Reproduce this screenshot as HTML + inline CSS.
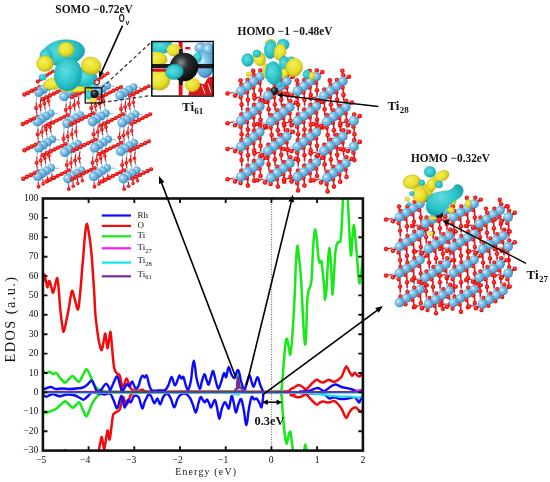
<!DOCTYPE html>
<html lang="en"><head><meta charset="utf-8"><title>EDOS and frontier orbitals</title>
<style>
html,body{margin:0;padding:0;background:#fff;}
body{width:550px;height:482px;overflow:hidden;font-family:"Liberation Serif",serif;}
svg{display:block;}
text{font-family:"Liberation Serif",serif;fill:#111;}
.b{font-weight:bold;}
.sans{font-family:"Liberation Sans",sans-serif;font-weight:bold;}
</style></head><body>
<svg width="550" height="482" viewBox="0 0 550 482">
<defs>
<radialGradient id="gT" cx="0.38" cy="0.4" r="0.62" fx="0.34" fy="0.36">
<stop offset="0" stop-color="#e6f7ff"/><stop offset="0.3" stop-color="#8fcbec"/><stop offset="0.78" stop-color="#5aa6d6"/><stop offset="1" stop-color="#3b80b0"/></radialGradient>
<radialGradient id="gO" cx="0.45" cy="0.45" r="0.6">
<stop offset="0" stop-color="#ff8a60"/><stop offset="0.4" stop-color="#f61a16"/><stop offset="0.82" stop-color="#e20a10"/><stop offset="1" stop-color="#b00008"/></radialGradient>
<radialGradient id="gC" cx="0.4" cy="0.4" r="0.7">
<stop offset="0" stop-color="#5fdde0"/><stop offset="0.6" stop-color="#27c2c8"/><stop offset="1" stop-color="#14979f"/></radialGradient>
<radialGradient id="gY" cx="0.4" cy="0.38" r="0.7">
<stop offset="0" stop-color="#f6f05a"/><stop offset="0.6" stop-color="#e6dc28"/><stop offset="1" stop-color="#b3a916"/></radialGradient>
<radialGradient id="gK" cx="0.4" cy="0.35" r="0.7">
<stop offset="0" stop-color="#8a8f92"/><stop offset="0.35" stop-color="#2c2e30"/><stop offset="1" stop-color="#050505"/></radialGradient>
<clipPath id="cpPlot"><rect x="42.9" y="198.5" width="320" height="252.1"/></clipPath>
<clipPath id="cpIn"><rect x="151" y="41.5" width="62.6" height="54"/></clipPath>
</defs>
<rect width="550" height="482" fill="#fff"/>
<g id="s1" fill="none" stroke-linecap="round">
<path d="M24.4 94.5L39.4 87.1" stroke="#e3151a" stroke-width="2.2"/><path d="M38.9 92L45.9 92.6" stroke="#86c3e6" stroke-width="1.1"/><path d="M43.4 89.2L50.4 89.8" stroke="#86c3e6" stroke-width="1.1"/><path d="M47.9 86.4L54.9 87" stroke="#86c3e6" stroke-width="1.1"/><path d="M52.4 83.6L59.4 84.2" stroke="#86c3e6" stroke-width="1.1"/><path d="M37.7 81.4L52.9 71.2" stroke="#e3151a" stroke-width="1.6"/><path d="M42.5 99.2L65 88.1" stroke="#e3151a" stroke-width="2.2"/><path d="M64 96.4L71 97" stroke="#86c3e6" stroke-width="1.1"/><path d="M68.5 93.6L75.5 94.2" stroke="#86c3e6" stroke-width="1.1"/><path d="M73 90.8L80 91.4" stroke="#86c3e6" stroke-width="1.1"/><path d="M77.5 88L84.5 88.6" stroke="#86c3e6" stroke-width="1.1"/><path d="M72.2 96.9L94.7 85.8" stroke="#e3151a" stroke-width="2.2"/><path d="M93.7 94.1L100.7 94.7" stroke="#86c3e6" stroke-width="1.1"/><path d="M98.2 91.3L105.2 91.9" stroke="#86c3e6" stroke-width="1.1"/><path d="M102.7 88.5L109.7 89.1" stroke="#86c3e6" stroke-width="1.1"/><path d="M107.2 85.7L114.2 86.3" stroke="#86c3e6" stroke-width="1.1"/><path d="M92.5 83.5L107.8 73.2" stroke="#e3151a" stroke-width="1.6"/><path d="M98.5 98.1L121 87" stroke="#e3151a" stroke-width="2.2"/><path d="M120 95.3L127 95.9" stroke="#86c3e6" stroke-width="1.1"/><path d="M124.5 92.5L131.5 93.1" stroke="#86c3e6" stroke-width="1.1"/><path d="M129 89.7L136 90.3" stroke="#86c3e6" stroke-width="1.1"/><path d="M133.5 86.9L140.5 87.5" stroke="#86c3e6" stroke-width="1.1"/><path d="M129.9 95.6L148.7 86.3" stroke="#e3151a" stroke-width="2.2"/><path d="M22.8 124L37.8 116.6" stroke="#e3151a" stroke-width="2.2"/><path d="M37.3 121.5L36.6 113.1" stroke="#86c3e6" stroke-width="1.2"/><path d="M36.6 113.1L36.1 108" stroke="#e3151a" stroke-width="1.2"/><path d="M36.8 94.5L36.4 102.9" stroke="#86c3e6" stroke-width="1.2"/><path d="M36.4 102.9L36.1 108" stroke="#e3151a" stroke-width="1.2"/><path d="M37.3 121.5L44.3 122.1" stroke="#86c3e6" stroke-width="1.1"/><path d="M41.8 118.7L40.8 110.6" stroke="#86c3e6" stroke-width="1.2"/><path d="M40.8 110.6L40.2 105.7" stroke="#e3151a" stroke-width="1.2"/><path d="M41.3 91.7L40.6 100.4" stroke="#86c3e6" stroke-width="1.2"/><path d="M40.6 100.4L40.2 105.7" stroke="#e3151a" stroke-width="1.2"/><path d="M41.8 118.7L48.8 119.3" stroke="#86c3e6" stroke-width="1.1"/><path d="M46.3 115.9L45.1 108.2" stroke="#86c3e6" stroke-width="1.2"/><path d="M45.1 108.2L44.3 103.4" stroke="#e3151a" stroke-width="1.2"/><path d="M45.8 88.9L44.9 97.9" stroke="#86c3e6" stroke-width="1.2"/><path d="M44.9 97.9L44.3 103.4" stroke="#e3151a" stroke-width="1.2"/><path d="M46.3 115.9L53.3 116.5" stroke="#86c3e6" stroke-width="1.1"/><path d="M50.8 113.1L49.3 105.7" stroke="#86c3e6" stroke-width="1.2"/><path d="M49.3 105.7L48.4 101.1" stroke="#e3151a" stroke-width="1.2"/><path d="M50.3 86.1L49.1 95.4" stroke="#86c3e6" stroke-width="1.2"/><path d="M49.1 95.4L48.4 101.1" stroke="#e3151a" stroke-width="1.2"/><path d="M50.8 113.1L57.8 113.7" stroke="#86c3e6" stroke-width="1.1"/><path d="M45.5 126.1L68 115" stroke="#e3151a" stroke-width="2.2"/><path d="M67 123.3L66.3 114.9" stroke="#86c3e6" stroke-width="1.2"/><path d="M66.3 114.9L65.8 109.8" stroke="#e3151a" stroke-width="1.2"/><path d="M66.5 96.3L66.1 104.7" stroke="#86c3e6" stroke-width="1.2"/><path d="M66.1 104.7L65.8 109.8" stroke="#e3151a" stroke-width="1.2"/><path d="M67 123.3L74 123.9" stroke="#86c3e6" stroke-width="1.1"/><path d="M71.5 120.5L70.5 112.4" stroke="#86c3e6" stroke-width="1.2"/><path d="M70.5 112.4L69.9 107.5" stroke="#e3151a" stroke-width="1.2"/><path d="M71 93.5L70.3 102.2" stroke="#86c3e6" stroke-width="1.2"/><path d="M70.3 102.2L69.9 107.5" stroke="#e3151a" stroke-width="1.2"/><path d="M71.5 120.5L78.5 121.1" stroke="#86c3e6" stroke-width="1.1"/><path d="M76 117.7L74.8 110" stroke="#86c3e6" stroke-width="1.2"/><path d="M74.8 110L74 105.2" stroke="#e3151a" stroke-width="1.2"/><path d="M75.5 90.7L74.6 99.7" stroke="#86c3e6" stroke-width="1.2"/><path d="M74.6 99.7L74 105.2" stroke="#e3151a" stroke-width="1.2"/><path d="M76 117.7L83 118.3" stroke="#86c3e6" stroke-width="1.1"/><path d="M80.5 114.9L79 107.5" stroke="#86c3e6" stroke-width="1.2"/><path d="M79 107.5L78.1 102.9" stroke="#e3151a" stroke-width="1.2"/><path d="M80 87.9L78.8 97.2" stroke="#86c3e6" stroke-width="1.2"/><path d="M78.8 97.2L78.1 102.9" stroke="#e3151a" stroke-width="1.2"/><path d="M80.5 114.9L87.5 115.5" stroke="#86c3e6" stroke-width="1.1"/><path d="M71 124.3L93.5 113.2" stroke="#e3151a" stroke-width="2.2"/><path d="M92.5 121.5L91.8 113.1" stroke="#86c3e6" stroke-width="1.2"/><path d="M91.8 113.1L91.3 108" stroke="#e3151a" stroke-width="1.2"/><path d="M92 94.5L91.6 102.9" stroke="#86c3e6" stroke-width="1.2"/><path d="M91.6 102.9L91.3 108" stroke="#e3151a" stroke-width="1.2"/><path d="M92.5 121.5L99.5 122.1" stroke="#86c3e6" stroke-width="1.1"/><path d="M97 118.7L96 110.6" stroke="#86c3e6" stroke-width="1.2"/><path d="M96 110.6L95.4 105.7" stroke="#e3151a" stroke-width="1.2"/><path d="M96.5 91.7L95.8 100.4" stroke="#86c3e6" stroke-width="1.2"/><path d="M95.8 100.4L95.4 105.7" stroke="#e3151a" stroke-width="1.2"/><path d="M97 118.7L104 119.3" stroke="#86c3e6" stroke-width="1.1"/><path d="M101.5 115.9L100.3 108.2" stroke="#86c3e6" stroke-width="1.2"/><path d="M100.3 108.2L99.5 103.4" stroke="#e3151a" stroke-width="1.2"/><path d="M101 88.9L100.1 97.9" stroke="#86c3e6" stroke-width="1.2"/><path d="M100.1 97.9L99.5 103.4" stroke="#e3151a" stroke-width="1.2"/><path d="M101.5 115.9L108.5 116.5" stroke="#86c3e6" stroke-width="1.1"/><path d="M106 113.1L104.5 105.7" stroke="#86c3e6" stroke-width="1.2"/><path d="M104.5 105.7L103.6 101.1" stroke="#e3151a" stroke-width="1.2"/><path d="M105.5 86.1L104.3 95.4" stroke="#86c3e6" stroke-width="1.2"/><path d="M104.3 95.4L103.6 101.1" stroke="#e3151a" stroke-width="1.2"/><path d="M106 113.1L113 113.7" stroke="#86c3e6" stroke-width="1.1"/><path d="M100.7 125.4L123.2 114.3" stroke="#e3151a" stroke-width="2.2"/><path d="M122.2 122.6L121.5 114.2" stroke="#86c3e6" stroke-width="1.2"/><path d="M121.5 114.2L121 109.1" stroke="#e3151a" stroke-width="1.2"/><path d="M121.7 95.6L121.3 104" stroke="#86c3e6" stroke-width="1.2"/><path d="M121.3 104L121 109.1" stroke="#e3151a" stroke-width="1.2"/><path d="M122.2 122.6L129.2 123.2" stroke="#86c3e6" stroke-width="1.1"/><path d="M126.7 119.8L125.7 111.7" stroke="#86c3e6" stroke-width="1.2"/><path d="M125.7 111.7L125.1 106.8" stroke="#e3151a" stroke-width="1.2"/><path d="M126.2 92.8L125.5 101.5" stroke="#86c3e6" stroke-width="1.2"/><path d="M125.5 101.5L125.1 106.8" stroke="#e3151a" stroke-width="1.2"/><path d="M126.7 119.8L133.7 120.4" stroke="#86c3e6" stroke-width="1.1"/><path d="M131.2 117L130 109.2" stroke="#86c3e6" stroke-width="1.2"/><path d="M130 109.2L129.2 104.5" stroke="#e3151a" stroke-width="1.2"/><path d="M130.7 90L129.8 99" stroke="#86c3e6" stroke-width="1.2"/><path d="M129.8 99L129.2 104.5" stroke="#e3151a" stroke-width="1.2"/><path d="M131.2 117L138.2 117.6" stroke="#86c3e6" stroke-width="1.1"/><path d="M135.7 114.2L134.2 106.8" stroke="#86c3e6" stroke-width="1.2"/><path d="M134.2 106.8L133.3 102.2" stroke="#e3151a" stroke-width="1.2"/><path d="M135.2 87.2L134 96.5" stroke="#86c3e6" stroke-width="1.2"/><path d="M134 96.5L133.3 102.2" stroke="#e3151a" stroke-width="1.2"/><path d="M135.7 114.2L142.7 114.8" stroke="#86c3e6" stroke-width="1.1"/><path d="M131.4 123.6L150.2 114.3" stroke="#e3151a" stroke-width="2.2"/><path d="M24.4 150.2L39.4 142.8" stroke="#e3151a" stroke-width="2.2"/><path d="M38.9 147.7L38.2 139.3" stroke="#86c3e6" stroke-width="1.2"/><path d="M38.2 139.3L37.7 134.2" stroke="#e3151a" stroke-width="1.2"/><path d="M38.4 120.7L38 129.1" stroke="#86c3e6" stroke-width="1.2"/><path d="M38 129.1L37.7 134.2" stroke="#e3151a" stroke-width="1.2"/><path d="M38.9 147.7L45.9 148.3" stroke="#86c3e6" stroke-width="1.1"/><path d="M43.4 144.9L42.4 136.8" stroke="#86c3e6" stroke-width="1.2"/><path d="M42.4 136.8L41.8 131.9" stroke="#e3151a" stroke-width="1.2"/><path d="M42.9 117.9L42.2 126.6" stroke="#86c3e6" stroke-width="1.2"/><path d="M42.2 126.6L41.8 131.9" stroke="#e3151a" stroke-width="1.2"/><path d="M43.4 144.9L50.4 145.5" stroke="#86c3e6" stroke-width="1.1"/><path d="M47.9 142.1L46.7 134.3" stroke="#86c3e6" stroke-width="1.2"/><path d="M46.7 134.3L45.9 129.6" stroke="#e3151a" stroke-width="1.2"/><path d="M47.4 115.1L46.5 124.1" stroke="#86c3e6" stroke-width="1.2"/><path d="M46.5 124.1L45.9 129.6" stroke="#e3151a" stroke-width="1.2"/><path d="M47.9 142.1L54.9 142.7" stroke="#86c3e6" stroke-width="1.1"/><path d="M52.4 139.3L50.9 131.9" stroke="#86c3e6" stroke-width="1.2"/><path d="M50.9 131.9L50 127.3" stroke="#e3151a" stroke-width="1.2"/><path d="M51.9 112.3L50.7 121.6" stroke="#86c3e6" stroke-width="1.2"/><path d="M50.7 121.6L50 127.3" stroke="#e3151a" stroke-width="1.2"/><path d="M52.4 139.3L59.4 139.9" stroke="#86c3e6" stroke-width="1.1"/><path d="M43.2 155L65.7 143.9" stroke="#e3151a" stroke-width="2.2"/><path d="M64.7 152.2L64 143.8" stroke="#86c3e6" stroke-width="1.2"/><path d="M64 143.8L63.5 138.7" stroke="#e3151a" stroke-width="1.2"/><path d="M64.2 125.2L63.8 133.6" stroke="#86c3e6" stroke-width="1.2"/><path d="M63.8 133.6L63.5 138.7" stroke="#e3151a" stroke-width="1.2"/><path d="M64.7 152.2L71.7 152.8" stroke="#86c3e6" stroke-width="1.1"/><path d="M69.2 149.4L68.2 141.3" stroke="#86c3e6" stroke-width="1.2"/><path d="M68.2 141.3L67.6 136.4" stroke="#e3151a" stroke-width="1.2"/><path d="M68.7 122.4L68 131.1" stroke="#86c3e6" stroke-width="1.2"/><path d="M68 131.1L67.6 136.4" stroke="#e3151a" stroke-width="1.2"/><path d="M69.2 149.4L76.2 150" stroke="#86c3e6" stroke-width="1.1"/><path d="M73.7 146.6L72.5 138.8" stroke="#86c3e6" stroke-width="1.2"/><path d="M72.5 138.8L71.7 134.1" stroke="#e3151a" stroke-width="1.2"/><path d="M73.2 119.6L72.3 128.6" stroke="#86c3e6" stroke-width="1.2"/><path d="M72.3 128.6L71.7 134.1" stroke="#e3151a" stroke-width="1.2"/><path d="M73.7 146.6L80.7 147.2" stroke="#86c3e6" stroke-width="1.1"/><path d="M78.2 143.8L76.7 136.4" stroke="#86c3e6" stroke-width="1.2"/><path d="M76.7 136.4L75.8 131.8" stroke="#e3151a" stroke-width="1.2"/><path d="M77.7 116.8L76.5 126.1" stroke="#86c3e6" stroke-width="1.2"/><path d="M76.5 126.1L75.8 131.8" stroke="#e3151a" stroke-width="1.2"/><path d="M78.2 143.8L85.2 144.4" stroke="#86c3e6" stroke-width="1.1"/><path d="M73.3 150.5L95.8 139.4" stroke="#e3151a" stroke-width="2.2"/><path d="M94.8 147.7L94.1 139.3" stroke="#86c3e6" stroke-width="1.2"/><path d="M94.1 139.3L93.6 134.2" stroke="#e3151a" stroke-width="1.2"/><path d="M94.3 120.7L93.9 129.1" stroke="#86c3e6" stroke-width="1.2"/><path d="M93.9 129.1L93.6 134.2" stroke="#e3151a" stroke-width="1.2"/><path d="M94.8 147.7L101.8 148.3" stroke="#86c3e6" stroke-width="1.1"/><path d="M99.3 144.9L98.3 136.8" stroke="#86c3e6" stroke-width="1.2"/><path d="M98.3 136.8L97.7 131.9" stroke="#e3151a" stroke-width="1.2"/><path d="M98.8 117.9L98.1 126.6" stroke="#86c3e6" stroke-width="1.2"/><path d="M98.1 126.6L97.7 131.9" stroke="#e3151a" stroke-width="1.2"/><path d="M99.3 144.9L106.3 145.5" stroke="#86c3e6" stroke-width="1.1"/><path d="M103.8 142.1L102.6 134.3" stroke="#86c3e6" stroke-width="1.2"/><path d="M102.6 134.3L101.8 129.6" stroke="#e3151a" stroke-width="1.2"/><path d="M103.3 115.1L102.4 124.1" stroke="#86c3e6" stroke-width="1.2"/><path d="M102.4 124.1L101.8 129.6" stroke="#e3151a" stroke-width="1.2"/><path d="M103.8 142.1L110.8 142.7" stroke="#86c3e6" stroke-width="1.1"/><path d="M108.3 139.3L106.8 131.9" stroke="#86c3e6" stroke-width="1.2"/><path d="M106.8 131.9L105.9 127.3" stroke="#e3151a" stroke-width="1.2"/><path d="M107.8 112.3L106.6 121.6" stroke="#86c3e6" stroke-width="1.2"/><path d="M106.6 121.6L105.9 127.3" stroke="#e3151a" stroke-width="1.2"/><path d="M108.3 139.3L115.3 139.9" stroke="#86c3e6" stroke-width="1.1"/><path d="M99.1 153.9L121.6 142.8" stroke="#e3151a" stroke-width="2.2"/><path d="M120.6 151.1L119.9 142.7" stroke="#86c3e6" stroke-width="1.2"/><path d="M119.9 142.7L119.4 137.6" stroke="#e3151a" stroke-width="1.2"/><path d="M120.1 124.1L119.7 132.5" stroke="#86c3e6" stroke-width="1.2"/><path d="M119.7 132.5L119.4 137.6" stroke="#e3151a" stroke-width="1.2"/><path d="M120.6 151.1L127.6 151.7" stroke="#86c3e6" stroke-width="1.1"/><path d="M125.1 148.3L124.1 140.2" stroke="#86c3e6" stroke-width="1.2"/><path d="M124.1 140.2L123.5 135.3" stroke="#e3151a" stroke-width="1.2"/><path d="M124.6 121.3L123.9 130" stroke="#86c3e6" stroke-width="1.2"/><path d="M123.9 130L123.5 135.3" stroke="#e3151a" stroke-width="1.2"/><path d="M125.1 148.3L132.1 148.9" stroke="#86c3e6" stroke-width="1.1"/><path d="M129.6 145.5L128.4 137.8" stroke="#86c3e6" stroke-width="1.2"/><path d="M128.4 137.8L127.6 133" stroke="#e3151a" stroke-width="1.2"/><path d="M129.1 118.5L128.2 127.5" stroke="#86c3e6" stroke-width="1.2"/><path d="M128.2 127.5L127.6 133" stroke="#e3151a" stroke-width="1.2"/><path d="M129.6 145.5L136.6 146.1" stroke="#86c3e6" stroke-width="1.1"/><path d="M134.1 142.7L132.6 135.3" stroke="#86c3e6" stroke-width="1.2"/><path d="M132.6 135.3L131.7 130.7" stroke="#e3151a" stroke-width="1.2"/><path d="M133.6 115.7L132.4 125" stroke="#86c3e6" stroke-width="1.2"/><path d="M132.4 125L131.7 130.7" stroke="#e3151a" stroke-width="1.2"/><path d="M134.1 142.7L141.1 143.3" stroke="#86c3e6" stroke-width="1.1"/><path d="M130.2 150.6L149 141.3" stroke="#e3151a" stroke-width="2.2"/><path d="M23.3 178.7L38.3 171.3" stroke="#e3151a" stroke-width="2.2"/><path d="M37.8 176.2L37.1 167.8" stroke="#86c3e6" stroke-width="1.2"/><path d="M37.1 167.8L36.6 162.7" stroke="#e3151a" stroke-width="1.2"/><path d="M37.3 149.2L36.9 157.6" stroke="#86c3e6" stroke-width="1.2"/><path d="M36.9 157.6L36.6 162.7" stroke="#e3151a" stroke-width="1.2"/><path d="M37.8 176.2L38.3 182.7" stroke="#86c3e6" stroke-width="1.2"/><path d="M38.3 182.7L38.6 186.7" stroke="#e3151a" stroke-width="1.2"/><path d="M37.8 176.2L44.8 176.8" stroke="#86c3e6" stroke-width="1.1"/><path d="M42.3 173.4L41.3 165.3" stroke="#86c3e6" stroke-width="1.2"/><path d="M41.3 165.3L40.7 160.4" stroke="#e3151a" stroke-width="1.2"/><path d="M41.8 146.4L41.1 155.1" stroke="#86c3e6" stroke-width="1.2"/><path d="M41.1 155.1L40.7 160.4" stroke="#e3151a" stroke-width="1.2"/><path d="M42.3 173.4L42.8 179.9" stroke="#86c3e6" stroke-width="1.2"/><path d="M42.8 179.9L43.1 183.9" stroke="#e3151a" stroke-width="1.2"/><path d="M42.3 173.4L49.3 174" stroke="#86c3e6" stroke-width="1.1"/><path d="M46.8 170.6L45.6 162.8" stroke="#86c3e6" stroke-width="1.2"/><path d="M45.6 162.8L44.8 158.1" stroke="#e3151a" stroke-width="1.2"/><path d="M46.3 143.6L45.4 152.6" stroke="#86c3e6" stroke-width="1.2"/><path d="M45.4 152.6L44.8 158.1" stroke="#e3151a" stroke-width="1.2"/><path d="M46.8 170.6L47.3 177.1" stroke="#86c3e6" stroke-width="1.2"/><path d="M47.3 177.1L47.6 181.1" stroke="#e3151a" stroke-width="1.2"/><path d="M46.8 170.6L53.8 171.2" stroke="#86c3e6" stroke-width="1.1"/><path d="M51.3 167.8L49.8 160.4" stroke="#86c3e6" stroke-width="1.2"/><path d="M49.8 160.4L48.9 155.8" stroke="#e3151a" stroke-width="1.2"/><path d="M50.8 140.8L49.6 150.1" stroke="#86c3e6" stroke-width="1.2"/><path d="M49.6 150.1L48.9 155.8" stroke="#e3151a" stroke-width="1.2"/><path d="M51.3 167.8L51.8 174.3" stroke="#86c3e6" stroke-width="1.2"/><path d="M51.8 174.3L52.1 178.3" stroke="#e3151a" stroke-width="1.2"/><path d="M51.3 167.8L58.3 168.4" stroke="#86c3e6" stroke-width="1.1"/><path d="M46.5 181.4L69 170.3" stroke="#e3151a" stroke-width="2.2"/><path d="M68 178.6L67.3 170.2" stroke="#86c3e6" stroke-width="1.2"/><path d="M67.3 170.2L66.8 165.1" stroke="#e3151a" stroke-width="1.2"/><path d="M67.5 151.6L67.1 160" stroke="#86c3e6" stroke-width="1.2"/><path d="M67.1 160L66.8 165.1" stroke="#e3151a" stroke-width="1.2"/><path d="M68 178.6L68.5 185.1" stroke="#86c3e6" stroke-width="1.2"/><path d="M68.5 185.1L68.8 189.1" stroke="#e3151a" stroke-width="1.2"/><path d="M68 178.6L75 179.2" stroke="#86c3e6" stroke-width="1.1"/><path d="M72.5 175.8L71.5 167.7" stroke="#86c3e6" stroke-width="1.2"/><path d="M71.5 167.7L70.9 162.8" stroke="#e3151a" stroke-width="1.2"/><path d="M72 148.8L71.3 157.5" stroke="#86c3e6" stroke-width="1.2"/><path d="M71.3 157.5L70.9 162.8" stroke="#e3151a" stroke-width="1.2"/><path d="M72.5 175.8L73 182.3" stroke="#86c3e6" stroke-width="1.2"/><path d="M73 182.3L73.3 186.3" stroke="#e3151a" stroke-width="1.2"/><path d="M72.5 175.8L79.5 176.4" stroke="#86c3e6" stroke-width="1.1"/><path d="M77 173L75.8 165.2" stroke="#86c3e6" stroke-width="1.2"/><path d="M75.8 165.2L75 160.5" stroke="#e3151a" stroke-width="1.2"/><path d="M76.5 146L75.6 155" stroke="#86c3e6" stroke-width="1.2"/><path d="M75.6 155L75 160.5" stroke="#e3151a" stroke-width="1.2"/><path d="M77 173L77.5 179.5" stroke="#86c3e6" stroke-width="1.2"/><path d="M77.5 179.5L77.8 183.5" stroke="#e3151a" stroke-width="1.2"/><path d="M77 173L84 173.6" stroke="#86c3e6" stroke-width="1.1"/><path d="M81.5 170.2L80 162.8" stroke="#86c3e6" stroke-width="1.2"/><path d="M80 162.8L79.1 158.2" stroke="#e3151a" stroke-width="1.2"/><path d="M81 143.2L79.8 152.5" stroke="#86c3e6" stroke-width="1.2"/><path d="M79.8 152.5L79.1 158.2" stroke="#e3151a" stroke-width="1.2"/><path d="M81.5 170.2L82 176.7" stroke="#86c3e6" stroke-width="1.2"/><path d="M82 176.7L82.3 180.7" stroke="#e3151a" stroke-width="1.2"/><path d="M81.5 170.2L88.5 170.8" stroke="#86c3e6" stroke-width="1.1"/><path d="M72.2 179L94.7 167.9" stroke="#e3151a" stroke-width="2.2"/><path d="M93.7 176.2L93 167.8" stroke="#86c3e6" stroke-width="1.2"/><path d="M93 167.8L92.5 162.7" stroke="#e3151a" stroke-width="1.2"/><path d="M93.2 149.2L92.8 157.6" stroke="#86c3e6" stroke-width="1.2"/><path d="M92.8 157.6L92.5 162.7" stroke="#e3151a" stroke-width="1.2"/><path d="M93.7 176.2L94.2 182.7" stroke="#86c3e6" stroke-width="1.2"/><path d="M94.2 182.7L94.5 186.7" stroke="#e3151a" stroke-width="1.2"/><path d="M93.7 176.2L100.7 176.8" stroke="#86c3e6" stroke-width="1.1"/><path d="M98.2 173.4L97.2 165.3" stroke="#86c3e6" stroke-width="1.2"/><path d="M97.2 165.3L96.6 160.4" stroke="#e3151a" stroke-width="1.2"/><path d="M97.7 146.4L97 155.1" stroke="#86c3e6" stroke-width="1.2"/><path d="M97 155.1L96.6 160.4" stroke="#e3151a" stroke-width="1.2"/><path d="M98.2 173.4L98.7 179.9" stroke="#86c3e6" stroke-width="1.2"/><path d="M98.7 179.9L99 183.9" stroke="#e3151a" stroke-width="1.2"/><path d="M98.2 173.4L105.2 174" stroke="#86c3e6" stroke-width="1.1"/><path d="M102.7 170.6L101.5 162.8" stroke="#86c3e6" stroke-width="1.2"/><path d="M101.5 162.8L100.7 158.1" stroke="#e3151a" stroke-width="1.2"/><path d="M102.2 143.6L101.3 152.6" stroke="#86c3e6" stroke-width="1.2"/><path d="M101.3 152.6L100.7 158.1" stroke="#e3151a" stroke-width="1.2"/><path d="M102.7 170.6L103.2 177.1" stroke="#86c3e6" stroke-width="1.2"/><path d="M103.2 177.1L103.5 181.1" stroke="#e3151a" stroke-width="1.2"/><path d="M102.7 170.6L109.7 171.2" stroke="#86c3e6" stroke-width="1.1"/><path d="M107.2 167.8L105.7 160.4" stroke="#86c3e6" stroke-width="1.2"/><path d="M105.7 160.4L104.8 155.8" stroke="#e3151a" stroke-width="1.2"/><path d="M106.7 140.8L105.5 150.1" stroke="#86c3e6" stroke-width="1.2"/><path d="M105.5 150.1L104.8 155.8" stroke="#e3151a" stroke-width="1.2"/><path d="M107.2 167.8L107.7 174.3" stroke="#86c3e6" stroke-width="1.2"/><path d="M107.7 174.3L108 178.3" stroke="#e3151a" stroke-width="1.2"/><path d="M107.2 167.8L114.2 168.4" stroke="#86c3e6" stroke-width="1.1"/><path d="M101.8 181.4L124.3 170.3" stroke="#e3151a" stroke-width="2.2"/><path d="M123.3 178.6L122.6 170.2" stroke="#86c3e6" stroke-width="1.2"/><path d="M122.6 170.2L122.1 165.1" stroke="#e3151a" stroke-width="1.2"/><path d="M122.8 151.6L122.4 160" stroke="#86c3e6" stroke-width="1.2"/><path d="M122.4 160L122.1 165.1" stroke="#e3151a" stroke-width="1.2"/><path d="M123.3 178.6L123.8 185.1" stroke="#86c3e6" stroke-width="1.2"/><path d="M123.8 185.1L124.1 189.1" stroke="#e3151a" stroke-width="1.2"/><path d="M123.3 178.6L130.3 179.2" stroke="#86c3e6" stroke-width="1.1"/><path d="M127.8 175.8L126.8 167.7" stroke="#86c3e6" stroke-width="1.2"/><path d="M126.8 167.7L126.2 162.8" stroke="#e3151a" stroke-width="1.2"/><path d="M127.3 148.8L126.6 157.5" stroke="#86c3e6" stroke-width="1.2"/><path d="M126.6 157.5L126.2 162.8" stroke="#e3151a" stroke-width="1.2"/><path d="M127.8 175.8L128.3 182.3" stroke="#86c3e6" stroke-width="1.2"/><path d="M128.3 182.3L128.6 186.3" stroke="#e3151a" stroke-width="1.2"/><path d="M127.8 175.8L134.8 176.4" stroke="#86c3e6" stroke-width="1.1"/><path d="M132.3 173L131.1 165.2" stroke="#86c3e6" stroke-width="1.2"/><path d="M131.1 165.2L130.3 160.5" stroke="#e3151a" stroke-width="1.2"/><path d="M131.8 146L130.9 155" stroke="#86c3e6" stroke-width="1.2"/><path d="M130.9 155L130.3 160.5" stroke="#e3151a" stroke-width="1.2"/><path d="M132.3 173L132.8 179.5" stroke="#86c3e6" stroke-width="1.2"/><path d="M132.8 179.5L133.1 183.5" stroke="#e3151a" stroke-width="1.2"/><path d="M132.3 173L139.3 173.6" stroke="#86c3e6" stroke-width="1.1"/><path d="M136.8 170.2L135.3 162.8" stroke="#86c3e6" stroke-width="1.2"/><path d="M135.3 162.8L134.4 158.2" stroke="#e3151a" stroke-width="1.2"/><path d="M136.3 143.2L135.1 152.5" stroke="#86c3e6" stroke-width="1.2"/><path d="M135.1 152.5L134.4 158.2" stroke="#e3151a" stroke-width="1.2"/><path d="M136.8 170.2L137.3 176.7" stroke="#86c3e6" stroke-width="1.2"/><path d="M137.3 176.7L137.6 180.7" stroke="#e3151a" stroke-width="1.2"/><path d="M136.8 170.2L143.8 170.8" stroke="#86c3e6" stroke-width="1.1"/><path d="M132.4 178.6L151.2 169.3" stroke="#e3151a" stroke-width="2.2"/>
<circle cx="39.4" cy="87.1" r="2.1" fill="url(#gO)"/><circle cx="37.7" cy="81.4" r="2" fill="url(#gO)"/><circle cx="40.7" cy="79.4" r="1.9" fill="url(#gO)"/><circle cx="43.8" cy="77.3" r="1.9" fill="url(#gO)"/><circle cx="46.8" cy="75.2" r="1.9" fill="url(#gO)"/><circle cx="49.9" cy="73.2" r="1.8" fill="url(#gO)"/><circle cx="52.9" cy="71.2" r="1.8" fill="url(#gO)"/><circle cx="65" cy="88.1" r="2" fill="url(#gO)"/><circle cx="94.7" cy="85.8" r="2" fill="url(#gO)"/><circle cx="92.5" cy="83.5" r="2" fill="url(#gO)"/><circle cx="98.6" cy="79.4" r="1.9" fill="url(#gO)"/><circle cx="101.7" cy="77.3" r="1.9" fill="url(#gO)"/><circle cx="104.7" cy="75.3" r="1.8" fill="url(#gO)"/><circle cx="107.8" cy="73.2" r="1.8" fill="url(#gO)"/><circle cx="121" cy="87" r="2" fill="url(#gO)"/><circle cx="37.8" cy="116.6" r="2.1" fill="url(#gO)"/><circle cx="36.1" cy="108" r="2" fill="url(#gO)"/><circle cx="40.2" cy="105.7" r="1.9" fill="url(#gO)"/><circle cx="44.3" cy="103.4" r="1.9" fill="url(#gO)"/><circle cx="48.4" cy="101.1" r="1.8" fill="url(#gO)"/><circle cx="68" cy="115" r="2" fill="url(#gO)"/><circle cx="65.8" cy="109.8" r="2" fill="url(#gO)"/><circle cx="69.9" cy="107.5" r="1.9" fill="url(#gO)"/><circle cx="74" cy="105.2" r="1.9" fill="url(#gO)"/><circle cx="78.1" cy="102.9" r="1.8" fill="url(#gO)"/><circle cx="93.5" cy="113.2" r="2" fill="url(#gO)"/><circle cx="91.3" cy="108" r="2" fill="url(#gO)"/><circle cx="95.4" cy="105.7" r="1.9" fill="url(#gO)"/><circle cx="99.5" cy="103.4" r="1.9" fill="url(#gO)"/><circle cx="103.6" cy="101.1" r="1.8" fill="url(#gO)"/><circle cx="123.2" cy="114.3" r="2" fill="url(#gO)"/><circle cx="121" cy="109.1" r="2" fill="url(#gO)"/><circle cx="125.1" cy="106.8" r="1.9" fill="url(#gO)"/><circle cx="129.2" cy="104.5" r="1.9" fill="url(#gO)"/><circle cx="133.3" cy="102.2" r="1.8" fill="url(#gO)"/><circle cx="39.4" cy="142.8" r="2.1" fill="url(#gO)"/><circle cx="37.7" cy="134.2" r="2" fill="url(#gO)"/><circle cx="41.8" cy="131.9" r="1.9" fill="url(#gO)"/><circle cx="45.9" cy="129.6" r="1.9" fill="url(#gO)"/><circle cx="50" cy="127.3" r="1.8" fill="url(#gO)"/><circle cx="65.7" cy="143.9" r="2" fill="url(#gO)"/><circle cx="63.5" cy="138.7" r="2" fill="url(#gO)"/><circle cx="67.6" cy="136.4" r="1.9" fill="url(#gO)"/><circle cx="71.7" cy="134.1" r="1.9" fill="url(#gO)"/><circle cx="75.8" cy="131.8" r="1.8" fill="url(#gO)"/><circle cx="95.8" cy="139.4" r="2" fill="url(#gO)"/><circle cx="93.6" cy="134.2" r="2" fill="url(#gO)"/><circle cx="97.7" cy="131.9" r="1.9" fill="url(#gO)"/><circle cx="101.8" cy="129.6" r="1.9" fill="url(#gO)"/><circle cx="105.9" cy="127.3" r="1.8" fill="url(#gO)"/><circle cx="121.6" cy="142.8" r="2" fill="url(#gO)"/><circle cx="119.4" cy="137.6" r="2" fill="url(#gO)"/><circle cx="123.5" cy="135.3" r="1.9" fill="url(#gO)"/><circle cx="127.6" cy="133" r="1.9" fill="url(#gO)"/><circle cx="131.7" cy="130.7" r="1.8" fill="url(#gO)"/><circle cx="38.3" cy="171.3" r="2.1" fill="url(#gO)"/><circle cx="36.6" cy="162.7" r="2" fill="url(#gO)"/><circle cx="40.7" cy="160.4" r="1.9" fill="url(#gO)"/><circle cx="44.8" cy="158.1" r="1.9" fill="url(#gO)"/><circle cx="48.9" cy="155.8" r="1.8" fill="url(#gO)"/><circle cx="69" cy="170.3" r="2" fill="url(#gO)"/><circle cx="66.8" cy="165.1" r="2" fill="url(#gO)"/><circle cx="70.9" cy="162.8" r="1.9" fill="url(#gO)"/><circle cx="75" cy="160.5" r="1.9" fill="url(#gO)"/><circle cx="79.1" cy="158.2" r="1.8" fill="url(#gO)"/><circle cx="94.7" cy="167.9" r="2" fill="url(#gO)"/><circle cx="92.5" cy="162.7" r="2" fill="url(#gO)"/><circle cx="96.6" cy="160.4" r="1.9" fill="url(#gO)"/><circle cx="100.7" cy="158.1" r="1.9" fill="url(#gO)"/><circle cx="104.8" cy="155.8" r="1.8" fill="url(#gO)"/><circle cx="124.3" cy="170.3" r="2" fill="url(#gO)"/><circle cx="122.1" cy="165.1" r="2" fill="url(#gO)"/><circle cx="126.2" cy="162.8" r="1.9" fill="url(#gO)"/><circle cx="130.3" cy="160.5" r="1.9" fill="url(#gO)"/><circle cx="134.4" cy="158.2" r="1.8" fill="url(#gO)"/>
<circle cx="52.4" cy="83.6" r="3.7" fill="url(#gT)"/><circle cx="47.9" cy="86.4" r="4.1" fill="url(#gT)"/><circle cx="43.4" cy="89.2" r="4.5" fill="url(#gT)"/><circle cx="38.9" cy="92" r="4.9" fill="url(#gT)"/><circle cx="77.5" cy="88" r="3.7" fill="url(#gT)"/><circle cx="73" cy="90.8" r="4.1" fill="url(#gT)"/><circle cx="68.5" cy="93.6" r="4.5" fill="url(#gT)"/><circle cx="64" cy="96.4" r="4.9" fill="url(#gT)"/><circle cx="107.2" cy="85.7" r="3.7" fill="url(#gT)"/><circle cx="102.7" cy="88.5" r="4.1" fill="url(#gT)"/><circle cx="98.2" cy="91.3" r="4.5" fill="url(#gT)"/><circle cx="93.7" cy="94.1" r="4.0" fill="url(#gK)"/><circle cx="133.5" cy="86.9" r="3.7" fill="url(#gT)"/><circle cx="129" cy="89.7" r="4.1" fill="url(#gT)"/><circle cx="124.5" cy="92.5" r="4.5" fill="url(#gT)"/><circle cx="120" cy="95.3" r="4.9" fill="url(#gT)"/><circle cx="50.8" cy="113.1" r="3.7" fill="url(#gT)"/><circle cx="46.3" cy="115.9" r="4.1" fill="url(#gT)"/><circle cx="41.8" cy="118.7" r="4.5" fill="url(#gT)"/><circle cx="37.3" cy="121.5" r="4.9" fill="url(#gT)"/><circle cx="80.5" cy="114.9" r="3.7" fill="url(#gT)"/><circle cx="76" cy="117.7" r="4.1" fill="url(#gT)"/><circle cx="71.5" cy="120.5" r="4.5" fill="url(#gT)"/><circle cx="67" cy="123.3" r="4.9" fill="url(#gT)"/><circle cx="106" cy="113.1" r="3.7" fill="url(#gT)"/><circle cx="101.5" cy="115.9" r="4.1" fill="url(#gT)"/><circle cx="97" cy="118.7" r="4.5" fill="url(#gT)"/><circle cx="92.5" cy="121.5" r="4.9" fill="url(#gT)"/><circle cx="135.7" cy="114.2" r="3.7" fill="url(#gT)"/><circle cx="131.2" cy="117" r="4.1" fill="url(#gT)"/><circle cx="126.7" cy="119.8" r="4.5" fill="url(#gT)"/><circle cx="122.2" cy="122.6" r="4.9" fill="url(#gT)"/><circle cx="52.4" cy="139.3" r="3.7" fill="url(#gT)"/><circle cx="47.9" cy="142.1" r="4.1" fill="url(#gT)"/><circle cx="43.4" cy="144.9" r="4.5" fill="url(#gT)"/><circle cx="38.9" cy="147.7" r="4.9" fill="url(#gT)"/><circle cx="78.2" cy="143.8" r="3.7" fill="url(#gT)"/><circle cx="73.7" cy="146.6" r="4.1" fill="url(#gT)"/><circle cx="69.2" cy="149.4" r="4.5" fill="url(#gT)"/><circle cx="64.7" cy="152.2" r="4.9" fill="url(#gT)"/><circle cx="108.3" cy="139.3" r="3.7" fill="url(#gT)"/><circle cx="103.8" cy="142.1" r="4.1" fill="url(#gT)"/><circle cx="99.3" cy="144.9" r="4.5" fill="url(#gT)"/><circle cx="94.8" cy="147.7" r="4.9" fill="url(#gT)"/><circle cx="134.1" cy="142.7" r="3.7" fill="url(#gT)"/><circle cx="129.6" cy="145.5" r="4.1" fill="url(#gT)"/><circle cx="125.1" cy="148.3" r="4.5" fill="url(#gT)"/><circle cx="120.6" cy="151.1" r="4.9" fill="url(#gT)"/><circle cx="51.3" cy="167.8" r="3.7" fill="url(#gT)"/><circle cx="46.8" cy="170.6" r="4.1" fill="url(#gT)"/><circle cx="42.3" cy="173.4" r="4.5" fill="url(#gT)"/><circle cx="37.8" cy="176.2" r="4.9" fill="url(#gT)"/><circle cx="81.5" cy="170.2" r="3.7" fill="url(#gT)"/><circle cx="77" cy="173" r="4.1" fill="url(#gT)"/><circle cx="72.5" cy="175.8" r="4.5" fill="url(#gT)"/><circle cx="68" cy="178.6" r="4.9" fill="url(#gT)"/><circle cx="107.2" cy="167.8" r="3.7" fill="url(#gT)"/><circle cx="102.7" cy="170.6" r="4.1" fill="url(#gT)"/><circle cx="98.2" cy="173.4" r="4.5" fill="url(#gT)"/><circle cx="93.7" cy="176.2" r="4.9" fill="url(#gT)"/><circle cx="136.8" cy="170.2" r="3.7" fill="url(#gT)"/><circle cx="132.3" cy="173" r="4.1" fill="url(#gT)"/><circle cx="127.8" cy="175.8" r="4.5" fill="url(#gT)"/><circle cx="123.3" cy="178.6" r="4.9" fill="url(#gT)"/>
<circle cx="24.4" cy="94.5" r="2.2" fill="url(#gO)"/><circle cx="28.1" cy="92.7" r="2.2" fill="url(#gO)"/><circle cx="31.9" cy="90.8" r="2.2" fill="url(#gO)"/><circle cx="35.6" cy="89" r="2.1" fill="url(#gO)"/><circle cx="42.5" cy="99.2" r="2.2" fill="url(#gO)"/><circle cx="46.2" cy="97.4" r="2.2" fill="url(#gO)"/><circle cx="50" cy="95.5" r="2.2" fill="url(#gO)"/><circle cx="53.8" cy="93.7" r="2.1" fill="url(#gO)"/><circle cx="57.5" cy="91.8" r="2.1" fill="url(#gO)"/><circle cx="61.2" cy="90" r="2" fill="url(#gO)"/><circle cx="72.2" cy="96.9" r="2.2" fill="url(#gO)"/><circle cx="76" cy="95" r="2.2" fill="url(#gO)"/><circle cx="79.7" cy="93.2" r="2.2" fill="url(#gO)"/><circle cx="83.5" cy="91.3" r="2.1" fill="url(#gO)"/><circle cx="87.2" cy="89.5" r="2.1" fill="url(#gO)"/><circle cx="91" cy="87.6" r="2" fill="url(#gO)"/><circle cx="98.5" cy="98.1" r="2.2" fill="url(#gO)"/><circle cx="102.2" cy="96.2" r="2.2" fill="url(#gO)"/><circle cx="106" cy="94.4" r="2.2" fill="url(#gO)"/><circle cx="109.8" cy="92.5" r="2.1" fill="url(#gO)"/><circle cx="113.5" cy="90.7" r="2.1" fill="url(#gO)"/><circle cx="117.2" cy="88.8" r="2" fill="url(#gO)"/><circle cx="129.9" cy="95.6" r="2.2" fill="url(#gO)"/><circle cx="133.7" cy="93.8" r="2.2" fill="url(#gO)"/><circle cx="137.4" cy="91.9" r="2.2" fill="url(#gO)"/><circle cx="141.2" cy="90" r="2.1" fill="url(#gO)"/><circle cx="144.9" cy="88.2" r="2.1" fill="url(#gO)"/><circle cx="148.7" cy="86.3" r="2" fill="url(#gO)"/><circle cx="22.8" cy="124" r="2.2" fill="url(#gO)"/><circle cx="26.5" cy="122.2" r="2.2" fill="url(#gO)"/><circle cx="30.3" cy="120.3" r="2.2" fill="url(#gO)"/><circle cx="34" cy="118.5" r="2.1" fill="url(#gO)"/><circle cx="45.5" cy="126.1" r="2.2" fill="url(#gO)"/><circle cx="49.2" cy="124.2" r="2.2" fill="url(#gO)"/><circle cx="53" cy="122.4" r="2.2" fill="url(#gO)"/><circle cx="56.8" cy="120.5" r="2.1" fill="url(#gO)"/><circle cx="60.5" cy="118.7" r="2.1" fill="url(#gO)"/><circle cx="64.2" cy="116.8" r="2" fill="url(#gO)"/><circle cx="71" cy="124.3" r="2.2" fill="url(#gO)"/><circle cx="74.8" cy="122.5" r="2.2" fill="url(#gO)"/><circle cx="78.5" cy="120.6" r="2.2" fill="url(#gO)"/><circle cx="82.2" cy="118.8" r="2.1" fill="url(#gO)"/><circle cx="86" cy="116.9" r="2.1" fill="url(#gO)"/><circle cx="89.8" cy="115" r="2" fill="url(#gO)"/><circle cx="100.7" cy="125.4" r="2.2" fill="url(#gO)"/><circle cx="104.5" cy="123.5" r="2.2" fill="url(#gO)"/><circle cx="108.2" cy="121.7" r="2.2" fill="url(#gO)"/><circle cx="112" cy="119.8" r="2.1" fill="url(#gO)"/><circle cx="115.7" cy="118" r="2.1" fill="url(#gO)"/><circle cx="119.5" cy="116.1" r="2" fill="url(#gO)"/><circle cx="131.4" cy="123.6" r="2.2" fill="url(#gO)"/><circle cx="135.2" cy="121.8" r="2.2" fill="url(#gO)"/><circle cx="138.9" cy="119.9" r="2.2" fill="url(#gO)"/><circle cx="142.7" cy="118" r="2.1" fill="url(#gO)"/><circle cx="146.4" cy="116.2" r="2.1" fill="url(#gO)"/><circle cx="150.2" cy="114.3" r="2" fill="url(#gO)"/><circle cx="24.4" cy="150.2" r="2.2" fill="url(#gO)"/><circle cx="28.1" cy="148.3" r="2.2" fill="url(#gO)"/><circle cx="31.9" cy="146.5" r="2.2" fill="url(#gO)"/><circle cx="35.6" cy="144.6" r="2.1" fill="url(#gO)"/><circle cx="43.2" cy="155" r="2.2" fill="url(#gO)"/><circle cx="47" cy="153.2" r="2.2" fill="url(#gO)"/><circle cx="50.7" cy="151.3" r="2.2" fill="url(#gO)"/><circle cx="54.5" cy="149.4" r="2.1" fill="url(#gO)"/><circle cx="58.2" cy="147.6" r="2.1" fill="url(#gO)"/><circle cx="62" cy="145.8" r="2" fill="url(#gO)"/><circle cx="73.3" cy="150.5" r="2.2" fill="url(#gO)"/><circle cx="77" cy="148.7" r="2.2" fill="url(#gO)"/><circle cx="80.8" cy="146.8" r="2.2" fill="url(#gO)"/><circle cx="84.5" cy="144.9" r="2.1" fill="url(#gO)"/><circle cx="88.3" cy="143.1" r="2.1" fill="url(#gO)"/><circle cx="92" cy="141.2" r="2" fill="url(#gO)"/><circle cx="99.1" cy="153.9" r="2.2" fill="url(#gO)"/><circle cx="102.8" cy="152.1" r="2.2" fill="url(#gO)"/><circle cx="106.6" cy="150.2" r="2.2" fill="url(#gO)"/><circle cx="110.3" cy="148.3" r="2.1" fill="url(#gO)"/><circle cx="114.1" cy="146.5" r="2.1" fill="url(#gO)"/><circle cx="117.8" cy="144.7" r="2" fill="url(#gO)"/><circle cx="130.2" cy="150.6" r="2.2" fill="url(#gO)"/><circle cx="134" cy="148.8" r="2.2" fill="url(#gO)"/><circle cx="137.7" cy="146.9" r="2.2" fill="url(#gO)"/><circle cx="141.5" cy="145" r="2.1" fill="url(#gO)"/><circle cx="145.2" cy="143.2" r="2.1" fill="url(#gO)"/><circle cx="149" cy="141.3" r="2" fill="url(#gO)"/><circle cx="23.3" cy="178.7" r="2.2" fill="url(#gO)"/><circle cx="27" cy="176.8" r="2.2" fill="url(#gO)"/><circle cx="30.8" cy="175" r="2.2" fill="url(#gO)"/><circle cx="34.5" cy="173.1" r="2.1" fill="url(#gO)"/><circle cx="38.6" cy="186.7" r="1.9" fill="url(#gO)"/><circle cx="43.1" cy="183.9" r="1.8" fill="url(#gO)"/><circle cx="47.6" cy="181.1" r="1.7" fill="url(#gO)"/><circle cx="52.1" cy="178.3" r="1.7" fill="url(#gO)"/><circle cx="46.5" cy="181.4" r="2.2" fill="url(#gO)"/><circle cx="50.2" cy="179.6" r="2.2" fill="url(#gO)"/><circle cx="54" cy="177.7" r="2.2" fill="url(#gO)"/><circle cx="57.8" cy="175.8" r="2.1" fill="url(#gO)"/><circle cx="61.5" cy="174" r="2.1" fill="url(#gO)"/><circle cx="65.2" cy="172.2" r="2" fill="url(#gO)"/><circle cx="68.8" cy="189.1" r="1.9" fill="url(#gO)"/><circle cx="73.3" cy="186.3" r="1.8" fill="url(#gO)"/><circle cx="77.8" cy="183.5" r="1.7" fill="url(#gO)"/><circle cx="82.3" cy="180.7" r="1.7" fill="url(#gO)"/><circle cx="72.2" cy="179" r="2.2" fill="url(#gO)"/><circle cx="76" cy="177.2" r="2.2" fill="url(#gO)"/><circle cx="79.7" cy="175.3" r="2.2" fill="url(#gO)"/><circle cx="83.5" cy="173.4" r="2.1" fill="url(#gO)"/><circle cx="87.2" cy="171.6" r="2.1" fill="url(#gO)"/><circle cx="91" cy="169.8" r="2" fill="url(#gO)"/><circle cx="94.5" cy="186.7" r="1.9" fill="url(#gO)"/><circle cx="99" cy="183.9" r="1.8" fill="url(#gO)"/><circle cx="103.5" cy="181.1" r="1.7" fill="url(#gO)"/><circle cx="108" cy="178.3" r="1.7" fill="url(#gO)"/><circle cx="101.8" cy="181.4" r="2.2" fill="url(#gO)"/><circle cx="105.5" cy="179.6" r="2.2" fill="url(#gO)"/><circle cx="109.3" cy="177.7" r="2.2" fill="url(#gO)"/><circle cx="113" cy="175.8" r="2.1" fill="url(#gO)"/><circle cx="116.8" cy="174" r="2.1" fill="url(#gO)"/><circle cx="120.5" cy="172.2" r="2" fill="url(#gO)"/><circle cx="124.1" cy="189.1" r="1.9" fill="url(#gO)"/><circle cx="128.6" cy="186.3" r="1.8" fill="url(#gO)"/><circle cx="133.1" cy="183.5" r="1.7" fill="url(#gO)"/><circle cx="137.6" cy="180.7" r="1.7" fill="url(#gO)"/><circle cx="132.4" cy="178.6" r="2.2" fill="url(#gO)"/><circle cx="136.2" cy="176.8" r="2.2" fill="url(#gO)"/><circle cx="139.9" cy="174.9" r="2.2" fill="url(#gO)"/><circle cx="143.7" cy="173" r="2.1" fill="url(#gO)"/><circle cx="147.4" cy="171.2" r="2.1" fill="url(#gO)"/><circle cx="151.2" cy="169.3" r="2" fill="url(#gO)"/>
</g>
<g id="s2" fill="none" stroke-linecap="round">
<path d="M235 95.6L265.9 72" stroke="#e3151a" stroke-width="2.2"/><path d="M241 91L241.2 87.2" stroke="#86c3e6" stroke-width="1.7"/><path d="M241.2 87.2L241.4 84.9" stroke="#e3151a" stroke-width="1.7"/><path d="M241 91L240.8 94.8" stroke="#86c3e6" stroke-width="1.7"/><path d="M240.8 94.8L240.6 97.1" stroke="#e3151a" stroke-width="1.7"/><path d="M241 91L241.4 99.4" stroke="#86c3e6" stroke-width="1.6"/><path d="M241.4 99.4L241.6 104.6" stroke="#e3151a" stroke-width="1.6"/><path d="M242 118L241.8 109.7" stroke="#86c3e6" stroke-width="1.6"/><path d="M241.8 109.7L241.6 104.6" stroke="#e3151a" stroke-width="1.6"/><path d="M241 91L240.7 84.5" stroke="#86c3e6" stroke-width="1.2"/><path d="M240.7 84.5L240.5 80.5" stroke="#e3151a" stroke-width="1.2"/><path d="M241 91L232.6 92.5" stroke="#86c3e6" stroke-width="1.2"/><path d="M232.6 92.5L227.5 93.5" stroke="#e3151a" stroke-width="1.2"/><path d="M247.3 86.2L247.5 82.4" stroke="#86c3e6" stroke-width="1.7"/><path d="M247.5 82.4L247.7 80.1" stroke="#e3151a" stroke-width="1.7"/><path d="M247.3 86.2L247.1 90" stroke="#86c3e6" stroke-width="1.7"/><path d="M247.1 90L246.9 92.3" stroke="#e3151a" stroke-width="1.7"/><path d="M247.3 86.2L247.7 94.6" stroke="#86c3e6" stroke-width="1.6"/><path d="M247.7 94.6L247.9 99.8" stroke="#e3151a" stroke-width="1.6"/><path d="M248.3 113.2L248.1 104.9" stroke="#86c3e6" stroke-width="1.6"/><path d="M248.1 104.9L247.9 99.8" stroke="#e3151a" stroke-width="1.6"/><path d="M253.6 81.4L253.8 77.6" stroke="#86c3e6" stroke-width="1.7"/><path d="M253.8 77.6L254 75.3" stroke="#e3151a" stroke-width="1.7"/><path d="M253.6 81.4L253.4 85.2" stroke="#86c3e6" stroke-width="1.7"/><path d="M253.4 85.2L253.2 87.5" stroke="#e3151a" stroke-width="1.7"/><path d="M253.6 81.4L254 89.8" stroke="#86c3e6" stroke-width="1.6"/><path d="M254 89.8L254.2 95" stroke="#e3151a" stroke-width="1.6"/><path d="M254.6 108.4L254.4 100.1" stroke="#86c3e6" stroke-width="1.6"/><path d="M254.4 100.1L254.2 95" stroke="#e3151a" stroke-width="1.6"/><path d="M253.6 81.4L253.3 74.9" stroke="#86c3e6" stroke-width="1.2"/><path d="M253.3 74.9L253.1 70.9" stroke="#e3151a" stroke-width="1.2"/><path d="M259.9 76.6L260.1 72.8" stroke="#86c3e6" stroke-width="1.7"/><path d="M260.1 72.8L260.3 70.5" stroke="#e3151a" stroke-width="1.7"/><path d="M259.9 76.6L259.7 80.4" stroke="#86c3e6" stroke-width="1.7"/><path d="M259.7 80.4L259.5 82.7" stroke="#e3151a" stroke-width="1.7"/><path d="M259.9 76.6L260.3 85" stroke="#86c3e6" stroke-width="1.6"/><path d="M260.3 85L260.5 90.2" stroke="#e3151a" stroke-width="1.6"/><path d="M260.9 103.6L260.7 95.3" stroke="#86c3e6" stroke-width="1.6"/><path d="M260.7 95.3L260.5 90.2" stroke="#e3151a" stroke-width="1.6"/><path d="M262 100.3L292.9 76.7" stroke="#e3151a" stroke-width="2.2"/><path d="M268 95.7L268.2 91.9" stroke="#86c3e6" stroke-width="1.7"/><path d="M268.2 91.9L268.4 89.6" stroke="#e3151a" stroke-width="1.7"/><path d="M268 95.7L267.8 99.5" stroke="#86c3e6" stroke-width="1.7"/><path d="M267.8 99.5L267.6 101.8" stroke="#e3151a" stroke-width="1.7"/><path d="M268 95.7L268.4 104.1" stroke="#86c3e6" stroke-width="1.6"/><path d="M268.4 104.1L268.6 109.3" stroke="#e3151a" stroke-width="1.6"/><path d="M269 122.7L268.8 114.4" stroke="#86c3e6" stroke-width="1.6"/><path d="M268.8 114.4L268.6 109.3" stroke="#e3151a" stroke-width="1.6"/><path d="M268 95.7L259.6 97.2" stroke="#86c3e6" stroke-width="1.2"/><path d="M259.6 97.2L254.5 98.2" stroke="#e3151a" stroke-width="1.2"/><path d="M274.3 90.9L274.5 87.1" stroke="#86c3e6" stroke-width="1.7"/><path d="M274.5 87.1L274.7 84.8" stroke="#e3151a" stroke-width="1.7"/><path d="M274.3 90.9L274.1 94.7" stroke="#86c3e6" stroke-width="1.7"/><path d="M274.1 94.7L273.9 97" stroke="#e3151a" stroke-width="1.7"/><path d="M274.3 90.9L274.7 99.3" stroke="#86c3e6" stroke-width="1.6"/><path d="M274.7 99.3L274.9 104.5" stroke="#e3151a" stroke-width="1.6"/><path d="M275.3 117.9L275.1 109.6" stroke="#86c3e6" stroke-width="1.6"/><path d="M275.1 109.6L274.9 104.5" stroke="#e3151a" stroke-width="1.6"/><path d="M274.3 90.9L274 84.4" stroke="#86c3e6" stroke-width="1.2"/><path d="M274 84.4L273.8 80.4" stroke="#e3151a" stroke-width="1.2"/><path d="M280.6 86.1L280.8 82.3" stroke="#86c3e6" stroke-width="1.7"/><path d="M280.8 82.3L281 80" stroke="#e3151a" stroke-width="1.7"/><path d="M280.6 86.1L280.4 89.9" stroke="#86c3e6" stroke-width="1.7"/><path d="M280.4 89.9L280.2 92.2" stroke="#e3151a" stroke-width="1.7"/><path d="M280.6 86.1L281 94.5" stroke="#86c3e6" stroke-width="1.6"/><path d="M281 94.5L281.2 99.7" stroke="#e3151a" stroke-width="1.6"/><path d="M281.6 113.1L281.4 104.8" stroke="#86c3e6" stroke-width="1.6"/><path d="M281.4 104.8L281.2 99.7" stroke="#e3151a" stroke-width="1.6"/><path d="M286.9 81.3L287.1 77.5" stroke="#86c3e6" stroke-width="1.7"/><path d="M287.1 77.5L287.3 75.2" stroke="#e3151a" stroke-width="1.7"/><path d="M286.9 81.3L286.7 85.1" stroke="#86c3e6" stroke-width="1.7"/><path d="M286.7 85.1L286.5 87.4" stroke="#e3151a" stroke-width="1.7"/><path d="M286.9 81.3L287.3 89.7" stroke="#86c3e6" stroke-width="1.6"/><path d="M287.3 89.7L287.5 94.9" stroke="#e3151a" stroke-width="1.6"/><path d="M287.9 108.3L287.7 100" stroke="#86c3e6" stroke-width="1.6"/><path d="M287.7 100L287.5 94.9" stroke="#e3151a" stroke-width="1.6"/><path d="M286.9 81.3L286.6 74.8" stroke="#86c3e6" stroke-width="1.2"/><path d="M286.6 74.8L286.4 70.8" stroke="#e3151a" stroke-width="1.2"/><path d="M291.5 95.6L322.4 72" stroke="#e3151a" stroke-width="2.2"/><path d="M297.5 91L297.7 87.2" stroke="#86c3e6" stroke-width="1.7"/><path d="M297.7 87.2L297.9 84.9" stroke="#e3151a" stroke-width="1.7"/><path d="M297.5 91L297.3 94.8" stroke="#86c3e6" stroke-width="1.7"/><path d="M297.3 94.8L297.1 97.1" stroke="#e3151a" stroke-width="1.7"/><path d="M297.5 91L297.9 99.4" stroke="#86c3e6" stroke-width="1.6"/><path d="M297.9 99.4L298.1 104.6" stroke="#e3151a" stroke-width="1.6"/><path d="M298.5 118L298.3 109.7" stroke="#86c3e6" stroke-width="1.6"/><path d="M298.3 109.7L298.1 104.6" stroke="#e3151a" stroke-width="1.6"/><path d="M297.5 91L297.2 84.5" stroke="#86c3e6" stroke-width="1.2"/><path d="M297.2 84.5L297 80.5" stroke="#e3151a" stroke-width="1.2"/><path d="M297.5 91L289.1 92.5" stroke="#86c3e6" stroke-width="1.2"/><path d="M289.1 92.5L284 93.5" stroke="#e3151a" stroke-width="1.2"/><path d="M303.8 86.2L304 82.4" stroke="#86c3e6" stroke-width="1.7"/><path d="M304 82.4L304.2 80.1" stroke="#e3151a" stroke-width="1.7"/><path d="M303.8 86.2L303.6 90" stroke="#86c3e6" stroke-width="1.7"/><path d="M303.6 90L303.4 92.3" stroke="#e3151a" stroke-width="1.7"/><path d="M303.8 86.2L304.2 94.6" stroke="#86c3e6" stroke-width="1.6"/><path d="M304.2 94.6L304.4 99.8" stroke="#e3151a" stroke-width="1.6"/><path d="M304.8 113.2L304.6 104.9" stroke="#86c3e6" stroke-width="1.6"/><path d="M304.6 104.9L304.4 99.8" stroke="#e3151a" stroke-width="1.6"/><path d="M310.1 81.4L310.3 77.6" stroke="#86c3e6" stroke-width="1.7"/><path d="M310.3 77.6L310.5 75.3" stroke="#e3151a" stroke-width="1.7"/><path d="M310.1 81.4L309.9 85.2" stroke="#86c3e6" stroke-width="1.7"/><path d="M309.9 85.2L309.7 87.5" stroke="#e3151a" stroke-width="1.7"/><path d="M310.1 81.4L310.5 89.8" stroke="#86c3e6" stroke-width="1.6"/><path d="M310.5 89.8L310.7 95" stroke="#e3151a" stroke-width="1.6"/><path d="M311.1 108.4L310.9 100.1" stroke="#86c3e6" stroke-width="1.6"/><path d="M310.9 100.1L310.7 95" stroke="#e3151a" stroke-width="1.6"/><path d="M310.1 81.4L309.8 74.9" stroke="#86c3e6" stroke-width="1.2"/><path d="M309.8 74.9L309.6 70.9" stroke="#e3151a" stroke-width="1.2"/><path d="M316.4 76.6L316.6 72.8" stroke="#86c3e6" stroke-width="1.7"/><path d="M316.6 72.8L316.8 70.5" stroke="#e3151a" stroke-width="1.7"/><path d="M316.4 76.6L316.2 80.4" stroke="#86c3e6" stroke-width="1.7"/><path d="M316.2 80.4L316 82.7" stroke="#e3151a" stroke-width="1.7"/><path d="M316.4 76.6L316.8 85" stroke="#86c3e6" stroke-width="1.6"/><path d="M316.8 85L317 90.2" stroke="#e3151a" stroke-width="1.6"/><path d="M317.4 103.6L317.2 95.3" stroke="#86c3e6" stroke-width="1.6"/><path d="M317.2 95.3L317 90.2" stroke="#e3151a" stroke-width="1.6"/><path d="M318 100.3L348.9 76.7" stroke="#e3151a" stroke-width="2.2"/><path d="M324 95.7L324.2 91.9" stroke="#86c3e6" stroke-width="1.7"/><path d="M324.2 91.9L324.4 89.6" stroke="#e3151a" stroke-width="1.7"/><path d="M324 95.7L323.8 99.5" stroke="#86c3e6" stroke-width="1.7"/><path d="M323.8 99.5L323.6 101.8" stroke="#e3151a" stroke-width="1.7"/><path d="M324 95.7L324.4 104.1" stroke="#86c3e6" stroke-width="1.6"/><path d="M324.4 104.1L324.6 109.3" stroke="#e3151a" stroke-width="1.6"/><path d="M325 122.7L324.8 114.4" stroke="#86c3e6" stroke-width="1.6"/><path d="M324.8 114.4L324.6 109.3" stroke="#e3151a" stroke-width="1.6"/><path d="M324 95.7L315.6 97.2" stroke="#86c3e6" stroke-width="1.2"/><path d="M315.6 97.2L310.5 98.2" stroke="#e3151a" stroke-width="1.2"/><path d="M330.3 90.9L330.5 87.1" stroke="#86c3e6" stroke-width="1.7"/><path d="M330.5 87.1L330.7 84.8" stroke="#e3151a" stroke-width="1.7"/><path d="M330.3 90.9L330.1 94.7" stroke="#86c3e6" stroke-width="1.7"/><path d="M330.1 94.7L329.9 97" stroke="#e3151a" stroke-width="1.7"/><path d="M330.3 90.9L330.7 99.3" stroke="#86c3e6" stroke-width="1.6"/><path d="M330.7 99.3L330.9 104.5" stroke="#e3151a" stroke-width="1.6"/><path d="M331.3 117.9L331.1 109.6" stroke="#86c3e6" stroke-width="1.6"/><path d="M331.1 109.6L330.9 104.5" stroke="#e3151a" stroke-width="1.6"/><path d="M330.3 90.9L330 84.4" stroke="#86c3e6" stroke-width="1.2"/><path d="M330 84.4L329.8 80.4" stroke="#e3151a" stroke-width="1.2"/><path d="M336.6 86.1L336.8 82.3" stroke="#86c3e6" stroke-width="1.7"/><path d="M336.8 82.3L337 80" stroke="#e3151a" stroke-width="1.7"/><path d="M336.6 86.1L336.4 89.9" stroke="#86c3e6" stroke-width="1.7"/><path d="M336.4 89.9L336.2 92.2" stroke="#e3151a" stroke-width="1.7"/><path d="M336.6 86.1L337 94.5" stroke="#86c3e6" stroke-width="1.6"/><path d="M337 94.5L337.2 99.7" stroke="#e3151a" stroke-width="1.6"/><path d="M337.6 113.1L337.4 104.8" stroke="#86c3e6" stroke-width="1.6"/><path d="M337.4 104.8L337.2 99.7" stroke="#e3151a" stroke-width="1.6"/><path d="M342.9 81.3L343.1 77.5" stroke="#86c3e6" stroke-width="1.7"/><path d="M343.1 77.5L343.3 75.2" stroke="#e3151a" stroke-width="1.7"/><path d="M342.9 81.3L342.7 85.1" stroke="#86c3e6" stroke-width="1.7"/><path d="M342.7 85.1L342.5 87.4" stroke="#e3151a" stroke-width="1.7"/><path d="M342.9 81.3L343.3 89.7" stroke="#86c3e6" stroke-width="1.6"/><path d="M343.3 89.7L343.5 94.9" stroke="#e3151a" stroke-width="1.6"/><path d="M343.9 108.3L343.7 100" stroke="#86c3e6" stroke-width="1.6"/><path d="M343.7 100L343.5 94.9" stroke="#e3151a" stroke-width="1.6"/><path d="M342.9 81.3L342.6 74.8" stroke="#86c3e6" stroke-width="1.2"/><path d="M342.6 74.8L342.4 70.8" stroke="#e3151a" stroke-width="1.2"/><path d="M235 125.3L265.9 101.7" stroke="#e3151a" stroke-width="2.2"/><path d="M241 120.7L241.2 116.9" stroke="#86c3e6" stroke-width="1.7"/><path d="M241.2 116.9L241.4 114.6" stroke="#e3151a" stroke-width="1.7"/><path d="M241 120.7L240.8 124.5" stroke="#86c3e6" stroke-width="1.7"/><path d="M240.8 124.5L240.6 126.8" stroke="#e3151a" stroke-width="1.7"/><path d="M241 120.7L241.4 129.1" stroke="#86c3e6" stroke-width="1.6"/><path d="M241.4 129.1L241.6 134.3" stroke="#e3151a" stroke-width="1.6"/><path d="M242 147.7L241.8 139.4" stroke="#86c3e6" stroke-width="1.6"/><path d="M241.8 139.4L241.6 134.3" stroke="#e3151a" stroke-width="1.6"/><path d="M241 120.7L232.6 122.2" stroke="#86c3e6" stroke-width="1.2"/><path d="M232.6 122.2L227.5 123.2" stroke="#e3151a" stroke-width="1.2"/><path d="M247.3 115.9L247.5 112.1" stroke="#86c3e6" stroke-width="1.7"/><path d="M247.5 112.1L247.7 109.8" stroke="#e3151a" stroke-width="1.7"/><path d="M247.3 115.9L247.1 119.7" stroke="#86c3e6" stroke-width="1.7"/><path d="M247.1 119.7L246.9 122" stroke="#e3151a" stroke-width="1.7"/><path d="M247.3 115.9L247.7 124.3" stroke="#86c3e6" stroke-width="1.6"/><path d="M247.7 124.3L247.9 129.5" stroke="#e3151a" stroke-width="1.6"/><path d="M248.3 142.9L248.1 134.6" stroke="#86c3e6" stroke-width="1.6"/><path d="M248.1 134.6L247.9 129.5" stroke="#e3151a" stroke-width="1.6"/><path d="M253.6 111.1L253.8 107.3" stroke="#86c3e6" stroke-width="1.7"/><path d="M253.8 107.3L254 105" stroke="#e3151a" stroke-width="1.7"/><path d="M253.6 111.1L253.4 114.9" stroke="#86c3e6" stroke-width="1.7"/><path d="M253.4 114.9L253.2 117.2" stroke="#e3151a" stroke-width="1.7"/><path d="M253.6 111.1L254 119.5" stroke="#86c3e6" stroke-width="1.6"/><path d="M254 119.5L254.2 124.7" stroke="#e3151a" stroke-width="1.6"/><path d="M254.6 138.1L254.4 129.8" stroke="#86c3e6" stroke-width="1.6"/><path d="M254.4 129.8L254.2 124.7" stroke="#e3151a" stroke-width="1.6"/><path d="M259.9 106.3L260.1 102.5" stroke="#86c3e6" stroke-width="1.7"/><path d="M260.1 102.5L260.3 100.2" stroke="#e3151a" stroke-width="1.7"/><path d="M259.9 106.3L259.7 110.1" stroke="#86c3e6" stroke-width="1.7"/><path d="M259.7 110.1L259.5 112.4" stroke="#e3151a" stroke-width="1.7"/><path d="M259.9 106.3L260.3 114.7" stroke="#86c3e6" stroke-width="1.6"/><path d="M260.3 114.7L260.5 119.9" stroke="#e3151a" stroke-width="1.6"/><path d="M260.9 133.3L260.7 125" stroke="#86c3e6" stroke-width="1.6"/><path d="M260.7 125L260.5 119.9" stroke="#e3151a" stroke-width="1.6"/><path d="M265 126.1L295.9 102.5" stroke="#e3151a" stroke-width="2.2"/><path d="M271 121.5L271.2 117.7" stroke="#86c3e6" stroke-width="1.7"/><path d="M271.2 117.7L271.4 115.4" stroke="#e3151a" stroke-width="1.7"/><path d="M271 121.5L270.8 125.3" stroke="#86c3e6" stroke-width="1.7"/><path d="M270.8 125.3L270.6 127.6" stroke="#e3151a" stroke-width="1.7"/><path d="M271 121.5L271.4 129.9" stroke="#86c3e6" stroke-width="1.6"/><path d="M271.4 129.9L271.6 135.1" stroke="#e3151a" stroke-width="1.6"/><path d="M272 148.5L271.8 140.2" stroke="#86c3e6" stroke-width="1.6"/><path d="M271.8 140.2L271.6 135.1" stroke="#e3151a" stroke-width="1.6"/><path d="M271 121.5L262.6 123" stroke="#86c3e6" stroke-width="1.2"/><path d="M262.6 123L257.5 124" stroke="#e3151a" stroke-width="1.2"/><path d="M277.3 116.7L277.5 112.9" stroke="#86c3e6" stroke-width="1.7"/><path d="M277.5 112.9L277.7 110.6" stroke="#e3151a" stroke-width="1.7"/><path d="M277.3 116.7L277.1 120.5" stroke="#86c3e6" stroke-width="1.7"/><path d="M277.1 120.5L276.9 122.8" stroke="#e3151a" stroke-width="1.7"/><path d="M277.3 116.7L277.7 125.1" stroke="#86c3e6" stroke-width="1.6"/><path d="M277.7 125.1L277.9 130.3" stroke="#e3151a" stroke-width="1.6"/><path d="M278.3 143.7L278.1 135.4" stroke="#86c3e6" stroke-width="1.6"/><path d="M278.1 135.4L277.9 130.3" stroke="#e3151a" stroke-width="1.6"/><path d="M283.6 111.9L283.8 108.1" stroke="#86c3e6" stroke-width="1.7"/><path d="M283.8 108.1L284 105.8" stroke="#e3151a" stroke-width="1.7"/><path d="M283.6 111.9L283.4 115.7" stroke="#86c3e6" stroke-width="1.7"/><path d="M283.4 115.7L283.2 118" stroke="#e3151a" stroke-width="1.7"/><path d="M283.6 111.9L284 120.3" stroke="#86c3e6" stroke-width="1.6"/><path d="M284 120.3L284.2 125.5" stroke="#e3151a" stroke-width="1.6"/><path d="M284.6 138.9L284.4 130.6" stroke="#86c3e6" stroke-width="1.6"/><path d="M284.4 130.6L284.2 125.5" stroke="#e3151a" stroke-width="1.6"/><path d="M289.9 107.1L290.1 103.3" stroke="#86c3e6" stroke-width="1.7"/><path d="M290.1 103.3L290.3 101" stroke="#e3151a" stroke-width="1.7"/><path d="M289.9 107.1L289.7 110.9" stroke="#86c3e6" stroke-width="1.7"/><path d="M289.7 110.9L289.5 113.2" stroke="#e3151a" stroke-width="1.7"/><path d="M289.9 107.1L290.3 115.5" stroke="#86c3e6" stroke-width="1.6"/><path d="M290.3 115.5L290.5 120.7" stroke="#e3151a" stroke-width="1.6"/><path d="M290.9 134.1L290.7 125.8" stroke="#86c3e6" stroke-width="1.6"/><path d="M290.7 125.8L290.5 120.7" stroke="#e3151a" stroke-width="1.6"/><path d="M291.5 125.3L322.4 101.7" stroke="#e3151a" stroke-width="2.2"/><path d="M297.5 120.7L297.7 116.9" stroke="#86c3e6" stroke-width="1.7"/><path d="M297.7 116.9L297.9 114.6" stroke="#e3151a" stroke-width="1.7"/><path d="M297.5 120.7L297.3 124.5" stroke="#86c3e6" stroke-width="1.7"/><path d="M297.3 124.5L297.1 126.8" stroke="#e3151a" stroke-width="1.7"/><path d="M297.5 120.7L297.9 129.1" stroke="#86c3e6" stroke-width="1.6"/><path d="M297.9 129.1L298.1 134.3" stroke="#e3151a" stroke-width="1.6"/><path d="M298.5 147.7L298.3 139.4" stroke="#86c3e6" stroke-width="1.6"/><path d="M298.3 139.4L298.1 134.3" stroke="#e3151a" stroke-width="1.6"/><path d="M297.5 120.7L289.1 122.2" stroke="#86c3e6" stroke-width="1.2"/><path d="M289.1 122.2L284 123.2" stroke="#e3151a" stroke-width="1.2"/><path d="M303.8 115.9L304 112.1" stroke="#86c3e6" stroke-width="1.7"/><path d="M304 112.1L304.2 109.8" stroke="#e3151a" stroke-width="1.7"/><path d="M303.8 115.9L303.6 119.7" stroke="#86c3e6" stroke-width="1.7"/><path d="M303.6 119.7L303.4 122" stroke="#e3151a" stroke-width="1.7"/><path d="M303.8 115.9L304.2 124.3" stroke="#86c3e6" stroke-width="1.6"/><path d="M304.2 124.3L304.4 129.5" stroke="#e3151a" stroke-width="1.6"/><path d="M304.8 142.9L304.6 134.6" stroke="#86c3e6" stroke-width="1.6"/><path d="M304.6 134.6L304.4 129.5" stroke="#e3151a" stroke-width="1.6"/><path d="M310.1 111.1L310.3 107.3" stroke="#86c3e6" stroke-width="1.7"/><path d="M310.3 107.3L310.5 105" stroke="#e3151a" stroke-width="1.7"/><path d="M310.1 111.1L309.9 114.9" stroke="#86c3e6" stroke-width="1.7"/><path d="M309.9 114.9L309.7 117.2" stroke="#e3151a" stroke-width="1.7"/><path d="M310.1 111.1L310.5 119.5" stroke="#86c3e6" stroke-width="1.6"/><path d="M310.5 119.5L310.7 124.7" stroke="#e3151a" stroke-width="1.6"/><path d="M311.1 138.1L310.9 129.8" stroke="#86c3e6" stroke-width="1.6"/><path d="M310.9 129.8L310.7 124.7" stroke="#e3151a" stroke-width="1.6"/><path d="M316.4 106.3L316.6 102.5" stroke="#86c3e6" stroke-width="1.7"/><path d="M316.6 102.5L316.8 100.2" stroke="#e3151a" stroke-width="1.7"/><path d="M316.4 106.3L316.2 110.1" stroke="#86c3e6" stroke-width="1.7"/><path d="M316.2 110.1L316 112.4" stroke="#e3151a" stroke-width="1.7"/><path d="M316.4 106.3L316.8 114.7" stroke="#86c3e6" stroke-width="1.6"/><path d="M316.8 114.7L317 119.9" stroke="#e3151a" stroke-width="1.6"/><path d="M317.4 133.3L317.2 125" stroke="#86c3e6" stroke-width="1.6"/><path d="M317.2 125L317 119.9" stroke="#e3151a" stroke-width="1.6"/><path d="M321 126.1L351.9 102.5" stroke="#e3151a" stroke-width="2.2"/><path d="M327 121.5L327.2 117.7" stroke="#86c3e6" stroke-width="1.7"/><path d="M327.2 117.7L327.4 115.4" stroke="#e3151a" stroke-width="1.7"/><path d="M327 121.5L326.8 125.3" stroke="#86c3e6" stroke-width="1.7"/><path d="M326.8 125.3L326.6 127.6" stroke="#e3151a" stroke-width="1.7"/><path d="M327 121.5L327.4 129.9" stroke="#86c3e6" stroke-width="1.6"/><path d="M327.4 129.9L327.6 135.1" stroke="#e3151a" stroke-width="1.6"/><path d="M328 148.5L327.8 140.2" stroke="#86c3e6" stroke-width="1.6"/><path d="M327.8 140.2L327.6 135.1" stroke="#e3151a" stroke-width="1.6"/><path d="M327 121.5L318.6 123" stroke="#86c3e6" stroke-width="1.2"/><path d="M318.6 123L313.5 124" stroke="#e3151a" stroke-width="1.2"/><path d="M333.3 116.7L333.5 112.9" stroke="#86c3e6" stroke-width="1.7"/><path d="M333.5 112.9L333.7 110.6" stroke="#e3151a" stroke-width="1.7"/><path d="M333.3 116.7L333.1 120.5" stroke="#86c3e6" stroke-width="1.7"/><path d="M333.1 120.5L332.9 122.8" stroke="#e3151a" stroke-width="1.7"/><path d="M333.3 116.7L333.7 125.1" stroke="#86c3e6" stroke-width="1.6"/><path d="M333.7 125.1L333.9 130.3" stroke="#e3151a" stroke-width="1.6"/><path d="M334.3 143.7L334.1 135.4" stroke="#86c3e6" stroke-width="1.6"/><path d="M334.1 135.4L333.9 130.3" stroke="#e3151a" stroke-width="1.6"/><path d="M339.6 111.9L339.8 108.1" stroke="#86c3e6" stroke-width="1.7"/><path d="M339.8 108.1L340 105.8" stroke="#e3151a" stroke-width="1.7"/><path d="M339.6 111.9L339.4 115.7" stroke="#86c3e6" stroke-width="1.7"/><path d="M339.4 115.7L339.2 118" stroke="#e3151a" stroke-width="1.7"/><path d="M339.6 111.9L340 120.3" stroke="#86c3e6" stroke-width="1.6"/><path d="M340 120.3L340.2 125.5" stroke="#e3151a" stroke-width="1.6"/><path d="M340.6 138.9L340.4 130.6" stroke="#86c3e6" stroke-width="1.6"/><path d="M340.4 130.6L340.2 125.5" stroke="#e3151a" stroke-width="1.6"/><path d="M345.9 107.1L346.1 103.3" stroke="#86c3e6" stroke-width="1.7"/><path d="M346.1 103.3L346.3 101" stroke="#e3151a" stroke-width="1.7"/><path d="M345.9 107.1L345.7 110.9" stroke="#86c3e6" stroke-width="1.7"/><path d="M345.7 110.9L345.5 113.2" stroke="#e3151a" stroke-width="1.7"/><path d="M345.9 107.1L346.3 115.5" stroke="#86c3e6" stroke-width="1.6"/><path d="M346.3 115.5L346.5 120.7" stroke="#e3151a" stroke-width="1.6"/><path d="M346.9 134.1L346.7 125.8" stroke="#86c3e6" stroke-width="1.6"/><path d="M346.7 125.8L346.5 120.7" stroke="#e3151a" stroke-width="1.6"/><path d="M347.8 125.3L359.8 116.1" stroke="#e3151a" stroke-width="2.2"/><path d="M353.8 120.7L354 116.9" stroke="#86c3e6" stroke-width="1.7"/><path d="M354 116.9L354.2 114.6" stroke="#e3151a" stroke-width="1.7"/><path d="M353.8 120.7L353.6 124.5" stroke="#86c3e6" stroke-width="1.7"/><path d="M353.6 124.5L353.4 126.8" stroke="#e3151a" stroke-width="1.7"/><path d="M353.8 120.7L354.2 129.1" stroke="#86c3e6" stroke-width="1.6"/><path d="M354.2 129.1L354.4 134.3" stroke="#e3151a" stroke-width="1.6"/><path d="M354.8 147.7L354.6 139.4" stroke="#86c3e6" stroke-width="1.6"/><path d="M354.6 139.4L354.4 134.3" stroke="#e3151a" stroke-width="1.6"/><path d="M353.8 120.7L345.4 122.2" stroke="#86c3e6" stroke-width="1.2"/><path d="M345.4 122.2L340.3 123.2" stroke="#e3151a" stroke-width="1.2"/><path d="M235 151.1L265.9 127.5" stroke="#e3151a" stroke-width="2.2"/><path d="M241 146.5L241.2 142.7" stroke="#86c3e6" stroke-width="1.7"/><path d="M241.2 142.7L241.4 140.4" stroke="#e3151a" stroke-width="1.7"/><path d="M241 146.5L240.8 150.3" stroke="#86c3e6" stroke-width="1.7"/><path d="M240.8 150.3L240.6 152.6" stroke="#e3151a" stroke-width="1.7"/><path d="M241 146.5L241.4 154.9" stroke="#86c3e6" stroke-width="1.6"/><path d="M241.4 154.9L241.6 160.1" stroke="#e3151a" stroke-width="1.6"/><path d="M242 173.5L241.8 165.2" stroke="#86c3e6" stroke-width="1.6"/><path d="M241.8 165.2L241.6 160.1" stroke="#e3151a" stroke-width="1.6"/><path d="M241 146.5L232.6 148.1" stroke="#86c3e6" stroke-width="1.2"/><path d="M232.6 148.1L227.5 149" stroke="#e3151a" stroke-width="1.2"/><path d="M247.3 141.7L247.5 137.9" stroke="#86c3e6" stroke-width="1.7"/><path d="M247.5 137.9L247.7 135.6" stroke="#e3151a" stroke-width="1.7"/><path d="M247.3 141.7L247.1 145.5" stroke="#86c3e6" stroke-width="1.7"/><path d="M247.1 145.5L246.9 147.8" stroke="#e3151a" stroke-width="1.7"/><path d="M247.3 141.7L247.7 150.1" stroke="#86c3e6" stroke-width="1.6"/><path d="M247.7 150.1L247.9 155.3" stroke="#e3151a" stroke-width="1.6"/><path d="M248.3 168.7L248.1 160.4" stroke="#86c3e6" stroke-width="1.6"/><path d="M248.1 160.4L247.9 155.3" stroke="#e3151a" stroke-width="1.6"/><path d="M253.6 136.9L253.8 133.1" stroke="#86c3e6" stroke-width="1.7"/><path d="M253.8 133.1L254 130.8" stroke="#e3151a" stroke-width="1.7"/><path d="M253.6 136.9L253.4 140.7" stroke="#86c3e6" stroke-width="1.7"/><path d="M253.4 140.7L253.2 143" stroke="#e3151a" stroke-width="1.7"/><path d="M253.6 136.9L254 145.3" stroke="#86c3e6" stroke-width="1.6"/><path d="M254 145.3L254.2 150.5" stroke="#e3151a" stroke-width="1.6"/><path d="M254.6 163.9L254.4 155.6" stroke="#86c3e6" stroke-width="1.6"/><path d="M254.4 155.6L254.2 150.5" stroke="#e3151a" stroke-width="1.6"/><path d="M259.9 132.1L260.1 128.3" stroke="#86c3e6" stroke-width="1.7"/><path d="M260.1 128.3L260.3 126" stroke="#e3151a" stroke-width="1.7"/><path d="M259.9 132.1L259.7 135.9" stroke="#86c3e6" stroke-width="1.7"/><path d="M259.7 135.9L259.5 138.2" stroke="#e3151a" stroke-width="1.7"/><path d="M259.9 132.1L260.3 140.5" stroke="#86c3e6" stroke-width="1.6"/><path d="M260.3 140.5L260.5 145.7" stroke="#e3151a" stroke-width="1.6"/><path d="M260.9 159.1L260.7 150.8" stroke="#86c3e6" stroke-width="1.6"/><path d="M260.7 150.8L260.5 145.7" stroke="#e3151a" stroke-width="1.6"/><path d="M262 155.4L292.9 131.8" stroke="#e3151a" stroke-width="2.2"/><path d="M268 150.8L268.2 147" stroke="#86c3e6" stroke-width="1.7"/><path d="M268.2 147L268.4 144.7" stroke="#e3151a" stroke-width="1.7"/><path d="M268 150.8L267.8 154.6" stroke="#86c3e6" stroke-width="1.7"/><path d="M267.8 154.6L267.6 156.9" stroke="#e3151a" stroke-width="1.7"/><path d="M268 150.8L268.4 159.2" stroke="#86c3e6" stroke-width="1.6"/><path d="M268.4 159.2L268.6 164.4" stroke="#e3151a" stroke-width="1.6"/><path d="M269 177.8L268.8 169.5" stroke="#86c3e6" stroke-width="1.6"/><path d="M268.8 169.5L268.6 164.4" stroke="#e3151a" stroke-width="1.6"/><path d="M268 150.8L259.6 152.4" stroke="#86c3e6" stroke-width="1.2"/><path d="M259.6 152.4L254.5 153.3" stroke="#e3151a" stroke-width="1.2"/><path d="M274.3 146L274.5 142.2" stroke="#86c3e6" stroke-width="1.7"/><path d="M274.5 142.2L274.7 139.9" stroke="#e3151a" stroke-width="1.7"/><path d="M274.3 146L274.1 149.8" stroke="#86c3e6" stroke-width="1.7"/><path d="M274.1 149.8L273.9 152.1" stroke="#e3151a" stroke-width="1.7"/><path d="M274.3 146L274.7 154.4" stroke="#86c3e6" stroke-width="1.6"/><path d="M274.7 154.4L274.9 159.6" stroke="#e3151a" stroke-width="1.6"/><path d="M275.3 173L275.1 164.7" stroke="#86c3e6" stroke-width="1.6"/><path d="M275.1 164.7L274.9 159.6" stroke="#e3151a" stroke-width="1.6"/><path d="M280.6 141.2L280.8 137.4" stroke="#86c3e6" stroke-width="1.7"/><path d="M280.8 137.4L281 135.1" stroke="#e3151a" stroke-width="1.7"/><path d="M280.6 141.2L280.4 145" stroke="#86c3e6" stroke-width="1.7"/><path d="M280.4 145L280.2 147.3" stroke="#e3151a" stroke-width="1.7"/><path d="M280.6 141.2L281 149.6" stroke="#86c3e6" stroke-width="1.6"/><path d="M281 149.6L281.2 154.8" stroke="#e3151a" stroke-width="1.6"/><path d="M281.6 168.2L281.4 159.9" stroke="#86c3e6" stroke-width="1.6"/><path d="M281.4 159.9L281.2 154.8" stroke="#e3151a" stroke-width="1.6"/><path d="M286.9 136.4L287.1 132.6" stroke="#86c3e6" stroke-width="1.7"/><path d="M287.1 132.6L287.3 130.3" stroke="#e3151a" stroke-width="1.7"/><path d="M286.9 136.4L286.7 140.2" stroke="#86c3e6" stroke-width="1.7"/><path d="M286.7 140.2L286.5 142.5" stroke="#e3151a" stroke-width="1.7"/><path d="M286.9 136.4L287.3 144.8" stroke="#86c3e6" stroke-width="1.6"/><path d="M287.3 144.8L287.5 150" stroke="#e3151a" stroke-width="1.6"/><path d="M287.9 163.4L287.7 155.1" stroke="#86c3e6" stroke-width="1.6"/><path d="M287.7 155.1L287.5 150" stroke="#e3151a" stroke-width="1.6"/><path d="M291.5 151.1L322.4 127.5" stroke="#e3151a" stroke-width="2.2"/><path d="M297.5 146.5L297.7 142.7" stroke="#86c3e6" stroke-width="1.7"/><path d="M297.7 142.7L297.9 140.4" stroke="#e3151a" stroke-width="1.7"/><path d="M297.5 146.5L297.3 150.3" stroke="#86c3e6" stroke-width="1.7"/><path d="M297.3 150.3L297.1 152.6" stroke="#e3151a" stroke-width="1.7"/><path d="M297.5 146.5L297.9 154.9" stroke="#86c3e6" stroke-width="1.6"/><path d="M297.9 154.9L298.1 160.1" stroke="#e3151a" stroke-width="1.6"/><path d="M298.5 173.5L298.3 165.2" stroke="#86c3e6" stroke-width="1.6"/><path d="M298.3 165.2L298.1 160.1" stroke="#e3151a" stroke-width="1.6"/><path d="M297.5 146.5L289.1 148.1" stroke="#86c3e6" stroke-width="1.2"/><path d="M289.1 148.1L284 149" stroke="#e3151a" stroke-width="1.2"/><path d="M303.8 141.7L304 137.9" stroke="#86c3e6" stroke-width="1.7"/><path d="M304 137.9L304.2 135.6" stroke="#e3151a" stroke-width="1.7"/><path d="M303.8 141.7L303.6 145.5" stroke="#86c3e6" stroke-width="1.7"/><path d="M303.6 145.5L303.4 147.8" stroke="#e3151a" stroke-width="1.7"/><path d="M303.8 141.7L304.2 150.1" stroke="#86c3e6" stroke-width="1.6"/><path d="M304.2 150.1L304.4 155.3" stroke="#e3151a" stroke-width="1.6"/><path d="M304.8 168.7L304.6 160.4" stroke="#86c3e6" stroke-width="1.6"/><path d="M304.6 160.4L304.4 155.3" stroke="#e3151a" stroke-width="1.6"/><path d="M310.1 136.9L310.3 133.1" stroke="#86c3e6" stroke-width="1.7"/><path d="M310.3 133.1L310.5 130.8" stroke="#e3151a" stroke-width="1.7"/><path d="M310.1 136.9L309.9 140.7" stroke="#86c3e6" stroke-width="1.7"/><path d="M309.9 140.7L309.7 143" stroke="#e3151a" stroke-width="1.7"/><path d="M310.1 136.9L310.5 145.3" stroke="#86c3e6" stroke-width="1.6"/><path d="M310.5 145.3L310.7 150.5" stroke="#e3151a" stroke-width="1.6"/><path d="M311.1 163.9L310.9 155.6" stroke="#86c3e6" stroke-width="1.6"/><path d="M310.9 155.6L310.7 150.5" stroke="#e3151a" stroke-width="1.6"/><path d="M316.4 132.1L316.6 128.3" stroke="#86c3e6" stroke-width="1.7"/><path d="M316.6 128.3L316.8 126" stroke="#e3151a" stroke-width="1.7"/><path d="M316.4 132.1L316.2 135.9" stroke="#86c3e6" stroke-width="1.7"/><path d="M316.2 135.9L316 138.2" stroke="#e3151a" stroke-width="1.7"/><path d="M316.4 132.1L316.8 140.5" stroke="#86c3e6" stroke-width="1.6"/><path d="M316.8 140.5L317 145.7" stroke="#e3151a" stroke-width="1.6"/><path d="M317.4 159.1L317.2 150.8" stroke="#86c3e6" stroke-width="1.6"/><path d="M317.2 150.8L317 145.7" stroke="#e3151a" stroke-width="1.6"/><path d="M318 155.4L348.9 131.8" stroke="#e3151a" stroke-width="2.2"/><path d="M324 150.8L324.2 147" stroke="#86c3e6" stroke-width="1.7"/><path d="M324.2 147L324.4 144.7" stroke="#e3151a" stroke-width="1.7"/><path d="M324 150.8L323.8 154.6" stroke="#86c3e6" stroke-width="1.7"/><path d="M323.8 154.6L323.6 156.9" stroke="#e3151a" stroke-width="1.7"/><path d="M324 150.8L324.4 159.2" stroke="#86c3e6" stroke-width="1.6"/><path d="M324.4 159.2L324.6 164.4" stroke="#e3151a" stroke-width="1.6"/><path d="M325 177.8L324.8 169.5" stroke="#86c3e6" stroke-width="1.6"/><path d="M324.8 169.5L324.6 164.4" stroke="#e3151a" stroke-width="1.6"/><path d="M324 150.8L315.6 152.4" stroke="#86c3e6" stroke-width="1.2"/><path d="M315.6 152.4L310.5 153.3" stroke="#e3151a" stroke-width="1.2"/><path d="M330.3 146L330.5 142.2" stroke="#86c3e6" stroke-width="1.7"/><path d="M330.5 142.2L330.7 139.9" stroke="#e3151a" stroke-width="1.7"/><path d="M330.3 146L330.1 149.8" stroke="#86c3e6" stroke-width="1.7"/><path d="M330.1 149.8L329.9 152.1" stroke="#e3151a" stroke-width="1.7"/><path d="M330.3 146L330.7 154.4" stroke="#86c3e6" stroke-width="1.6"/><path d="M330.7 154.4L330.9 159.6" stroke="#e3151a" stroke-width="1.6"/><path d="M331.3 173L331.1 164.7" stroke="#86c3e6" stroke-width="1.6"/><path d="M331.1 164.7L330.9 159.6" stroke="#e3151a" stroke-width="1.6"/><path d="M336.6 141.2L336.8 137.4" stroke="#86c3e6" stroke-width="1.7"/><path d="M336.8 137.4L337 135.1" stroke="#e3151a" stroke-width="1.7"/><path d="M336.6 141.2L336.4 145" stroke="#86c3e6" stroke-width="1.7"/><path d="M336.4 145L336.2 147.3" stroke="#e3151a" stroke-width="1.7"/><path d="M336.6 141.2L337 149.6" stroke="#86c3e6" stroke-width="1.6"/><path d="M337 149.6L337.2 154.8" stroke="#e3151a" stroke-width="1.6"/><path d="M337.6 168.2L337.4 159.9" stroke="#86c3e6" stroke-width="1.6"/><path d="M337.4 159.9L337.2 154.8" stroke="#e3151a" stroke-width="1.6"/><path d="M342.9 136.4L343.1 132.6" stroke="#86c3e6" stroke-width="1.7"/><path d="M343.1 132.6L343.3 130.3" stroke="#e3151a" stroke-width="1.7"/><path d="M342.9 136.4L342.7 140.2" stroke="#86c3e6" stroke-width="1.7"/><path d="M342.7 140.2L342.5 142.5" stroke="#e3151a" stroke-width="1.7"/><path d="M342.9 136.4L343.3 144.8" stroke="#86c3e6" stroke-width="1.6"/><path d="M343.3 144.8L343.5 150" stroke="#e3151a" stroke-width="1.6"/><path d="M343.9 163.4L343.7 155.1" stroke="#86c3e6" stroke-width="1.6"/><path d="M343.7 155.1L343.5 150" stroke="#e3151a" stroke-width="1.6"/><path d="M347.8 151.1L359.8 141.9" stroke="#e3151a" stroke-width="2.2"/><path d="M353.8 146.5L354 142.7" stroke="#86c3e6" stroke-width="1.7"/><path d="M354 142.7L354.2 140.4" stroke="#e3151a" stroke-width="1.7"/><path d="M353.8 146.5L353.6 150.3" stroke="#86c3e6" stroke-width="1.7"/><path d="M353.6 150.3L353.4 152.6" stroke="#e3151a" stroke-width="1.7"/><path d="M353.8 146.5L354.2 154.9" stroke="#86c3e6" stroke-width="1.6"/><path d="M354.2 154.9L354.4 160.1" stroke="#e3151a" stroke-width="1.6"/><path d="M353.8 146.5L345.4 148.1" stroke="#86c3e6" stroke-width="1.2"/><path d="M345.4 148.1L340.3 149" stroke="#e3151a" stroke-width="1.2"/><path d="M235 181.4L265.9 157.8" stroke="#e3151a" stroke-width="2.2"/><path d="M241 176.8L241.2 173" stroke="#86c3e6" stroke-width="1.7"/><path d="M241.2 173L241.4 170.7" stroke="#e3151a" stroke-width="1.7"/><path d="M241 176.8L240.8 180.6" stroke="#86c3e6" stroke-width="1.7"/><path d="M240.8 180.6L240.6 182.9" stroke="#e3151a" stroke-width="1.7"/><path d="M241 176.8L232.6 178.4" stroke="#86c3e6" stroke-width="1.2"/><path d="M232.6 178.4L227.5 179.3" stroke="#e3151a" stroke-width="1.2"/><path d="M247.3 172L247.5 168.2" stroke="#86c3e6" stroke-width="1.7"/><path d="M247.5 168.2L247.7 165.9" stroke="#e3151a" stroke-width="1.7"/><path d="M247.3 172L247.1 175.8" stroke="#86c3e6" stroke-width="1.7"/><path d="M247.1 175.8L246.9 178.1" stroke="#e3151a" stroke-width="1.7"/><path d="M247.3 172L247.7 180.4" stroke="#86c3e6" stroke-width="1.6"/><path d="M247.7 180.4L247.9 185.6" stroke="#e3151a" stroke-width="1.6"/><path d="M253.6 167.2L253.8 163.4" stroke="#86c3e6" stroke-width="1.7"/><path d="M253.8 163.4L254 161.1" stroke="#e3151a" stroke-width="1.7"/><path d="M253.6 167.2L253.4 171" stroke="#86c3e6" stroke-width="1.7"/><path d="M253.4 171L253.2 173.3" stroke="#e3151a" stroke-width="1.7"/><path d="M253.6 167.2L254 175.6" stroke="#86c3e6" stroke-width="1.6"/><path d="M254 175.6L254.2 180.8" stroke="#e3151a" stroke-width="1.6"/><path d="M259.9 162.4L260.1 158.6" stroke="#86c3e6" stroke-width="1.7"/><path d="M260.1 158.6L260.3 156.3" stroke="#e3151a" stroke-width="1.7"/><path d="M259.9 162.4L259.7 166.2" stroke="#86c3e6" stroke-width="1.7"/><path d="M259.7 166.2L259.5 168.5" stroke="#e3151a" stroke-width="1.7"/><path d="M259.9 162.4L260.3 170.8" stroke="#86c3e6" stroke-width="1.6"/><path d="M260.3 170.8L260.5 176" stroke="#e3151a" stroke-width="1.6"/><path d="M265 182.4L295.9 158.8" stroke="#e3151a" stroke-width="2.2"/><path d="M271 177.8L271.2 174" stroke="#86c3e6" stroke-width="1.7"/><path d="M271.2 174L271.4 171.7" stroke="#e3151a" stroke-width="1.7"/><path d="M271 177.8L270.8 181.6" stroke="#86c3e6" stroke-width="1.7"/><path d="M270.8 181.6L270.6 183.9" stroke="#e3151a" stroke-width="1.7"/><path d="M271 177.8L262.6 179.4" stroke="#86c3e6" stroke-width="1.2"/><path d="M262.6 179.4L257.5 180.3" stroke="#e3151a" stroke-width="1.2"/><path d="M277.3 173L277.5 169.2" stroke="#86c3e6" stroke-width="1.7"/><path d="M277.5 169.2L277.7 166.9" stroke="#e3151a" stroke-width="1.7"/><path d="M277.3 173L277.1 176.8" stroke="#86c3e6" stroke-width="1.7"/><path d="M277.1 176.8L276.9 179.1" stroke="#e3151a" stroke-width="1.7"/><path d="M277.3 173L277.7 181.4" stroke="#86c3e6" stroke-width="1.6"/><path d="M277.7 181.4L277.9 186.6" stroke="#e3151a" stroke-width="1.6"/><path d="M283.6 168.2L283.8 164.4" stroke="#86c3e6" stroke-width="1.7"/><path d="M283.8 164.4L284 162.1" stroke="#e3151a" stroke-width="1.7"/><path d="M283.6 168.2L283.4 172" stroke="#86c3e6" stroke-width="1.7"/><path d="M283.4 172L283.2 174.3" stroke="#e3151a" stroke-width="1.7"/><path d="M283.6 168.2L284 176.6" stroke="#86c3e6" stroke-width="1.6"/><path d="M284 176.6L284.2 181.8" stroke="#e3151a" stroke-width="1.6"/><path d="M289.9 163.4L290.1 159.6" stroke="#86c3e6" stroke-width="1.7"/><path d="M290.1 159.6L290.3 157.3" stroke="#e3151a" stroke-width="1.7"/><path d="M289.9 163.4L289.7 167.2" stroke="#86c3e6" stroke-width="1.7"/><path d="M289.7 167.2L289.5 169.5" stroke="#e3151a" stroke-width="1.7"/><path d="M289.9 163.4L290.3 171.8" stroke="#86c3e6" stroke-width="1.6"/><path d="M290.3 171.8L290.5 177" stroke="#e3151a" stroke-width="1.6"/><path d="M291.5 181.4L322.4 157.8" stroke="#e3151a" stroke-width="2.2"/><path d="M297.5 176.8L297.7 173" stroke="#86c3e6" stroke-width="1.7"/><path d="M297.7 173L297.9 170.7" stroke="#e3151a" stroke-width="1.7"/><path d="M297.5 176.8L297.3 180.6" stroke="#86c3e6" stroke-width="1.7"/><path d="M297.3 180.6L297.1 182.9" stroke="#e3151a" stroke-width="1.7"/><path d="M297.5 176.8L297.9 185.2" stroke="#86c3e6" stroke-width="1.6"/><path d="M297.9 185.2L298.1 190.4" stroke="#e3151a" stroke-width="1.6"/><path d="M297.5 176.8L289.1 178.4" stroke="#86c3e6" stroke-width="1.2"/><path d="M289.1 178.4L284 179.3" stroke="#e3151a" stroke-width="1.2"/><path d="M303.8 172L304 168.2" stroke="#86c3e6" stroke-width="1.7"/><path d="M304 168.2L304.2 165.9" stroke="#e3151a" stroke-width="1.7"/><path d="M303.8 172L303.6 175.8" stroke="#86c3e6" stroke-width="1.7"/><path d="M303.6 175.8L303.4 178.1" stroke="#e3151a" stroke-width="1.7"/><path d="M303.8 172L304.2 180.4" stroke="#86c3e6" stroke-width="1.6"/><path d="M304.2 180.4L304.4 185.6" stroke="#e3151a" stroke-width="1.6"/><path d="M310.1 167.2L310.3 163.4" stroke="#86c3e6" stroke-width="1.7"/><path d="M310.3 163.4L310.5 161.1" stroke="#e3151a" stroke-width="1.7"/><path d="M310.1 167.2L309.9 171" stroke="#86c3e6" stroke-width="1.7"/><path d="M309.9 171L309.7 173.3" stroke="#e3151a" stroke-width="1.7"/><path d="M310.1 167.2L310.5 175.6" stroke="#86c3e6" stroke-width="1.6"/><path d="M310.5 175.6L310.7 180.8" stroke="#e3151a" stroke-width="1.6"/><path d="M316.4 162.4L316.6 158.6" stroke="#86c3e6" stroke-width="1.7"/><path d="M316.6 158.6L316.8 156.3" stroke="#e3151a" stroke-width="1.7"/><path d="M316.4 162.4L316.2 166.2" stroke="#86c3e6" stroke-width="1.7"/><path d="M316.2 166.2L316 168.5" stroke="#e3151a" stroke-width="1.7"/><path d="M316.4 162.4L316.8 170.8" stroke="#86c3e6" stroke-width="1.6"/><path d="M316.8 170.8L317 176" stroke="#e3151a" stroke-width="1.6"/><path d="M321 182.4L351.9 158.8" stroke="#e3151a" stroke-width="2.2"/><path d="M327 177.8L327.2 174" stroke="#86c3e6" stroke-width="1.7"/><path d="M327.2 174L327.4 171.7" stroke="#e3151a" stroke-width="1.7"/><path d="M327 177.8L326.8 181.6" stroke="#86c3e6" stroke-width="1.7"/><path d="M326.8 181.6L326.6 183.9" stroke="#e3151a" stroke-width="1.7"/><path d="M327 177.8L327.4 186.2" stroke="#86c3e6" stroke-width="1.6"/><path d="M327.4 186.2L327.6 191.4" stroke="#e3151a" stroke-width="1.6"/><path d="M327 177.8L318.6 179.4" stroke="#86c3e6" stroke-width="1.2"/><path d="M318.6 179.4L313.5 180.3" stroke="#e3151a" stroke-width="1.2"/><path d="M333.3 173L333.5 169.2" stroke="#86c3e6" stroke-width="1.7"/><path d="M333.5 169.2L333.7 166.9" stroke="#e3151a" stroke-width="1.7"/><path d="M333.3 173L333.1 176.8" stroke="#86c3e6" stroke-width="1.7"/><path d="M333.1 176.8L332.9 179.1" stroke="#e3151a" stroke-width="1.7"/><path d="M333.3 173L333.7 181.4" stroke="#86c3e6" stroke-width="1.6"/><path d="M333.7 181.4L333.9 186.6" stroke="#e3151a" stroke-width="1.6"/><path d="M339.6 168.2L339.8 164.4" stroke="#86c3e6" stroke-width="1.7"/><path d="M339.8 164.4L340 162.1" stroke="#e3151a" stroke-width="1.7"/><path d="M339.6 168.2L339.4 172" stroke="#86c3e6" stroke-width="1.7"/><path d="M339.4 172L339.2 174.3" stroke="#e3151a" stroke-width="1.7"/><path d="M339.6 168.2L340 176.6" stroke="#86c3e6" stroke-width="1.6"/><path d="M340 176.6L340.2 181.8" stroke="#e3151a" stroke-width="1.6"/><path d="M345.9 163.4L346.1 159.6" stroke="#86c3e6" stroke-width="1.7"/><path d="M346.1 159.6L346.3 157.3" stroke="#e3151a" stroke-width="1.7"/><path d="M345.9 163.4L345.7 167.2" stroke="#86c3e6" stroke-width="1.7"/><path d="M345.7 167.2L345.5 169.5" stroke="#e3151a" stroke-width="1.7"/><path d="M345.9 163.4L346.3 171.8" stroke="#86c3e6" stroke-width="1.6"/><path d="M346.3 171.8L346.5 177" stroke="#e3151a" stroke-width="1.6"/>
<circle cx="265.9" cy="72" r="2.3" fill="url(#gO)"/><circle cx="241.4" cy="84.9" r="2.3" fill="url(#gO)"/><circle cx="240.6" cy="97.1" r="2.3" fill="url(#gO)"/><circle cx="241.6" cy="104.6" r="2.3" fill="url(#gO)"/><circle cx="240.5" cy="80.5" r="2.3" fill="url(#gO)"/><circle cx="247.7" cy="80.1" r="2.3" fill="url(#gO)"/><circle cx="246.9" cy="92.3" r="2.3" fill="url(#gO)"/><circle cx="247.9" cy="99.8" r="2.3" fill="url(#gO)"/><circle cx="254" cy="75.3" r="2.3" fill="url(#gO)"/><circle cx="253.2" cy="87.5" r="2.3" fill="url(#gO)"/><circle cx="254.2" cy="95" r="2.3" fill="url(#gO)"/><circle cx="253.1" cy="70.9" r="2.3" fill="url(#gO)"/><circle cx="260.3" cy="70.5" r="2.3" fill="url(#gO)"/><circle cx="259.5" cy="82.7" r="2.3" fill="url(#gO)"/><circle cx="260.5" cy="90.2" r="2.3" fill="url(#gO)"/><circle cx="292.9" cy="76.7" r="2.3" fill="url(#gO)"/><circle cx="268.4" cy="89.6" r="2.3" fill="url(#gO)"/><circle cx="267.6" cy="101.8" r="2.3" fill="url(#gO)"/><circle cx="268.6" cy="109.3" r="2.3" fill="url(#gO)"/><circle cx="274.7" cy="84.8" r="2.3" fill="url(#gO)"/><circle cx="273.9" cy="97" r="2.3" fill="url(#gO)"/><circle cx="274.9" cy="104.5" r="2.3" fill="url(#gO)"/><circle cx="273.8" cy="80.4" r="2.3" fill="url(#gO)"/><circle cx="281" cy="80" r="2.3" fill="url(#gO)"/><circle cx="280.2" cy="92.2" r="2.3" fill="url(#gO)"/><circle cx="281.2" cy="99.7" r="2.3" fill="url(#gO)"/><circle cx="287.3" cy="75.2" r="2.3" fill="url(#gO)"/><circle cx="286.5" cy="87.4" r="2.3" fill="url(#gO)"/><circle cx="287.5" cy="94.9" r="2.3" fill="url(#gO)"/><circle cx="286.4" cy="70.8" r="2.3" fill="url(#gO)"/><circle cx="322.4" cy="72" r="2.3" fill="url(#gO)"/><circle cx="297.9" cy="84.9" r="2.3" fill="url(#gO)"/><circle cx="297.1" cy="97.1" r="2.3" fill="url(#gO)"/><circle cx="298.1" cy="104.6" r="2.3" fill="url(#gO)"/><circle cx="297" cy="80.5" r="2.3" fill="url(#gO)"/><circle cx="304.2" cy="80.1" r="2.3" fill="url(#gO)"/><circle cx="303.4" cy="92.3" r="2.3" fill="url(#gO)"/><circle cx="304.4" cy="99.8" r="2.3" fill="url(#gO)"/><circle cx="310.5" cy="75.3" r="2.3" fill="url(#gO)"/><circle cx="309.7" cy="87.5" r="2.3" fill="url(#gO)"/><circle cx="310.7" cy="95" r="2.3" fill="url(#gO)"/><circle cx="309.6" cy="70.9" r="2.3" fill="url(#gO)"/><circle cx="316.8" cy="70.5" r="2.3" fill="url(#gO)"/><circle cx="316" cy="82.7" r="2.3" fill="url(#gO)"/><circle cx="317" cy="90.2" r="2.3" fill="url(#gO)"/><circle cx="348.9" cy="76.7" r="2.3" fill="url(#gO)"/><circle cx="324.4" cy="89.6" r="2.3" fill="url(#gO)"/><circle cx="323.6" cy="101.8" r="2.3" fill="url(#gO)"/><circle cx="324.6" cy="109.3" r="2.3" fill="url(#gO)"/><circle cx="330.7" cy="84.8" r="2.3" fill="url(#gO)"/><circle cx="329.9" cy="97" r="2.3" fill="url(#gO)"/><circle cx="330.9" cy="104.5" r="2.3" fill="url(#gO)"/><circle cx="329.8" cy="80.4" r="2.3" fill="url(#gO)"/><circle cx="337" cy="80" r="2.3" fill="url(#gO)"/><circle cx="336.2" cy="92.2" r="2.3" fill="url(#gO)"/><circle cx="337.2" cy="99.7" r="2.3" fill="url(#gO)"/><circle cx="343.3" cy="75.2" r="2.3" fill="url(#gO)"/><circle cx="342.5" cy="87.4" r="2.3" fill="url(#gO)"/><circle cx="343.5" cy="94.9" r="2.3" fill="url(#gO)"/><circle cx="342.4" cy="70.8" r="2.3" fill="url(#gO)"/><circle cx="265.9" cy="101.7" r="2.3" fill="url(#gO)"/><circle cx="241.4" cy="114.6" r="2.3" fill="url(#gO)"/><circle cx="240.6" cy="126.8" r="2.3" fill="url(#gO)"/><circle cx="241.6" cy="134.3" r="2.3" fill="url(#gO)"/><circle cx="247.7" cy="109.8" r="2.3" fill="url(#gO)"/><circle cx="246.9" cy="122" r="2.3" fill="url(#gO)"/><circle cx="247.9" cy="129.5" r="2.3" fill="url(#gO)"/><circle cx="254" cy="105" r="2.3" fill="url(#gO)"/><circle cx="253.2" cy="117.2" r="2.3" fill="url(#gO)"/><circle cx="254.2" cy="124.7" r="2.3" fill="url(#gO)"/><circle cx="260.3" cy="100.2" r="2.3" fill="url(#gO)"/><circle cx="259.5" cy="112.4" r="2.3" fill="url(#gO)"/><circle cx="260.5" cy="119.9" r="2.3" fill="url(#gO)"/><circle cx="295.9" cy="102.5" r="2.3" fill="url(#gO)"/><circle cx="271.4" cy="115.4" r="2.3" fill="url(#gO)"/><circle cx="270.6" cy="127.6" r="2.3" fill="url(#gO)"/><circle cx="271.6" cy="135.1" r="2.3" fill="url(#gO)"/><circle cx="277.7" cy="110.6" r="2.3" fill="url(#gO)"/><circle cx="276.9" cy="122.8" r="2.3" fill="url(#gO)"/><circle cx="277.9" cy="130.3" r="2.3" fill="url(#gO)"/><circle cx="284" cy="105.8" r="2.3" fill="url(#gO)"/><circle cx="283.2" cy="118" r="2.3" fill="url(#gO)"/><circle cx="284.2" cy="125.5" r="2.3" fill="url(#gO)"/><circle cx="290.3" cy="101" r="2.3" fill="url(#gO)"/><circle cx="289.5" cy="113.2" r="2.3" fill="url(#gO)"/><circle cx="290.5" cy="120.7" r="2.3" fill="url(#gO)"/><circle cx="322.4" cy="101.7" r="2.3" fill="url(#gO)"/><circle cx="297.9" cy="114.6" r="2.3" fill="url(#gO)"/><circle cx="297.1" cy="126.8" r="2.3" fill="url(#gO)"/><circle cx="298.1" cy="134.3" r="2.3" fill="url(#gO)"/><circle cx="304.2" cy="109.8" r="2.3" fill="url(#gO)"/><circle cx="303.4" cy="122" r="2.3" fill="url(#gO)"/><circle cx="304.4" cy="129.5" r="2.3" fill="url(#gO)"/><circle cx="310.5" cy="105" r="2.3" fill="url(#gO)"/><circle cx="309.7" cy="117.2" r="2.3" fill="url(#gO)"/><circle cx="310.7" cy="124.7" r="2.3" fill="url(#gO)"/><circle cx="316.8" cy="100.2" r="2.3" fill="url(#gO)"/><circle cx="316" cy="112.4" r="2.3" fill="url(#gO)"/><circle cx="317" cy="119.9" r="2.3" fill="url(#gO)"/><circle cx="351.9" cy="102.5" r="2.3" fill="url(#gO)"/><circle cx="327.4" cy="115.4" r="2.3" fill="url(#gO)"/><circle cx="326.6" cy="127.6" r="2.3" fill="url(#gO)"/><circle cx="327.6" cy="135.1" r="2.3" fill="url(#gO)"/><circle cx="333.7" cy="110.6" r="2.3" fill="url(#gO)"/><circle cx="332.9" cy="122.8" r="2.3" fill="url(#gO)"/><circle cx="333.9" cy="130.3" r="2.3" fill="url(#gO)"/><circle cx="340" cy="105.8" r="2.3" fill="url(#gO)"/><circle cx="339.2" cy="118" r="2.3" fill="url(#gO)"/><circle cx="340.2" cy="125.5" r="2.3" fill="url(#gO)"/><circle cx="346.3" cy="101" r="2.3" fill="url(#gO)"/><circle cx="345.5" cy="113.2" r="2.3" fill="url(#gO)"/><circle cx="346.5" cy="120.7" r="2.3" fill="url(#gO)"/><circle cx="359.8" cy="116.1" r="2.3" fill="url(#gO)"/><circle cx="354.2" cy="114.6" r="2.3" fill="url(#gO)"/><circle cx="353.4" cy="126.8" r="2.3" fill="url(#gO)"/><circle cx="354.4" cy="134.3" r="2.3" fill="url(#gO)"/><circle cx="265.9" cy="127.5" r="2.3" fill="url(#gO)"/><circle cx="241.4" cy="140.4" r="2.3" fill="url(#gO)"/><circle cx="240.6" cy="152.6" r="2.3" fill="url(#gO)"/><circle cx="241.6" cy="160.1" r="2.3" fill="url(#gO)"/><circle cx="247.7" cy="135.6" r="2.3" fill="url(#gO)"/><circle cx="246.9" cy="147.8" r="2.3" fill="url(#gO)"/><circle cx="247.9" cy="155.3" r="2.3" fill="url(#gO)"/><circle cx="254" cy="130.8" r="2.3" fill="url(#gO)"/><circle cx="253.2" cy="143" r="2.3" fill="url(#gO)"/><circle cx="254.2" cy="150.5" r="2.3" fill="url(#gO)"/><circle cx="260.3" cy="126" r="2.3" fill="url(#gO)"/><circle cx="259.5" cy="138.2" r="2.3" fill="url(#gO)"/><circle cx="260.5" cy="145.7" r="2.3" fill="url(#gO)"/><circle cx="292.9" cy="131.8" r="2.3" fill="url(#gO)"/><circle cx="268.4" cy="144.7" r="2.3" fill="url(#gO)"/><circle cx="267.6" cy="156.9" r="2.3" fill="url(#gO)"/><circle cx="268.6" cy="164.4" r="2.3" fill="url(#gO)"/><circle cx="274.7" cy="139.9" r="2.3" fill="url(#gO)"/><circle cx="273.9" cy="152.1" r="2.3" fill="url(#gO)"/><circle cx="274.9" cy="159.6" r="2.3" fill="url(#gO)"/><circle cx="281" cy="135.1" r="2.3" fill="url(#gO)"/><circle cx="280.2" cy="147.3" r="2.3" fill="url(#gO)"/><circle cx="281.2" cy="154.8" r="2.3" fill="url(#gO)"/><circle cx="287.3" cy="130.3" r="2.3" fill="url(#gO)"/><circle cx="286.5" cy="142.5" r="2.3" fill="url(#gO)"/><circle cx="287.5" cy="150" r="2.3" fill="url(#gO)"/><circle cx="322.4" cy="127.5" r="2.3" fill="url(#gO)"/><circle cx="297.9" cy="140.4" r="2.3" fill="url(#gO)"/><circle cx="297.1" cy="152.6" r="2.3" fill="url(#gO)"/><circle cx="298.1" cy="160.1" r="2.3" fill="url(#gO)"/><circle cx="304.2" cy="135.6" r="2.3" fill="url(#gO)"/><circle cx="303.4" cy="147.8" r="2.3" fill="url(#gO)"/><circle cx="304.4" cy="155.3" r="2.3" fill="url(#gO)"/><circle cx="310.5" cy="130.8" r="2.3" fill="url(#gO)"/><circle cx="309.7" cy="143" r="2.3" fill="url(#gO)"/><circle cx="310.7" cy="150.5" r="2.3" fill="url(#gO)"/><circle cx="316.8" cy="126" r="2.3" fill="url(#gO)"/><circle cx="316" cy="138.2" r="2.3" fill="url(#gO)"/><circle cx="317" cy="145.7" r="2.3" fill="url(#gO)"/><circle cx="348.9" cy="131.8" r="2.3" fill="url(#gO)"/><circle cx="324.4" cy="144.7" r="2.3" fill="url(#gO)"/><circle cx="323.6" cy="156.9" r="2.3" fill="url(#gO)"/><circle cx="324.6" cy="164.4" r="2.3" fill="url(#gO)"/><circle cx="330.7" cy="139.9" r="2.3" fill="url(#gO)"/><circle cx="329.9" cy="152.1" r="2.3" fill="url(#gO)"/><circle cx="330.9" cy="159.6" r="2.3" fill="url(#gO)"/><circle cx="337" cy="135.1" r="2.3" fill="url(#gO)"/><circle cx="336.2" cy="147.3" r="2.3" fill="url(#gO)"/><circle cx="337.2" cy="154.8" r="2.3" fill="url(#gO)"/><circle cx="343.3" cy="130.3" r="2.3" fill="url(#gO)"/><circle cx="342.5" cy="142.5" r="2.3" fill="url(#gO)"/><circle cx="343.5" cy="150" r="2.3" fill="url(#gO)"/><circle cx="359.8" cy="141.9" r="2.3" fill="url(#gO)"/><circle cx="354.2" cy="140.4" r="2.3" fill="url(#gO)"/><circle cx="353.4" cy="152.6" r="2.3" fill="url(#gO)"/><circle cx="354.4" cy="160.1" r="2.3" fill="url(#gO)"/><circle cx="265.9" cy="157.8" r="2.3" fill="url(#gO)"/><circle cx="241.4" cy="170.7" r="2.3" fill="url(#gO)"/><circle cx="240.6" cy="182.9" r="2.3" fill="url(#gO)"/><circle cx="247.7" cy="165.9" r="2.3" fill="url(#gO)"/><circle cx="246.9" cy="178.1" r="2.3" fill="url(#gO)"/><circle cx="247.9" cy="185.6" r="2.3" fill="url(#gO)"/><circle cx="254" cy="161.1" r="2.3" fill="url(#gO)"/><circle cx="253.2" cy="173.3" r="2.3" fill="url(#gO)"/><circle cx="254.2" cy="180.8" r="2.3" fill="url(#gO)"/><circle cx="260.3" cy="156.3" r="2.3" fill="url(#gO)"/><circle cx="259.5" cy="168.5" r="2.3" fill="url(#gO)"/><circle cx="260.5" cy="176" r="2.3" fill="url(#gO)"/><circle cx="295.9" cy="158.8" r="2.3" fill="url(#gO)"/><circle cx="271.4" cy="171.7" r="2.3" fill="url(#gO)"/><circle cx="270.6" cy="183.9" r="2.3" fill="url(#gO)"/><circle cx="277.7" cy="166.9" r="2.3" fill="url(#gO)"/><circle cx="276.9" cy="179.1" r="2.3" fill="url(#gO)"/><circle cx="277.9" cy="186.6" r="2.3" fill="url(#gO)"/><circle cx="284" cy="162.1" r="2.3" fill="url(#gO)"/><circle cx="283.2" cy="174.3" r="2.3" fill="url(#gO)"/><circle cx="284.2" cy="181.8" r="2.3" fill="url(#gO)"/><circle cx="290.3" cy="157.3" r="2.3" fill="url(#gO)"/><circle cx="289.5" cy="169.5" r="2.3" fill="url(#gO)"/><circle cx="290.5" cy="177" r="2.3" fill="url(#gO)"/><circle cx="322.4" cy="157.8" r="2.3" fill="url(#gO)"/><circle cx="297.9" cy="170.7" r="2.3" fill="url(#gO)"/><circle cx="297.1" cy="182.9" r="2.3" fill="url(#gO)"/><circle cx="298.1" cy="190.4" r="2.3" fill="url(#gO)"/><circle cx="304.2" cy="165.9" r="2.3" fill="url(#gO)"/><circle cx="303.4" cy="178.1" r="2.3" fill="url(#gO)"/><circle cx="304.4" cy="185.6" r="2.3" fill="url(#gO)"/><circle cx="310.5" cy="161.1" r="2.3" fill="url(#gO)"/><circle cx="309.7" cy="173.3" r="2.3" fill="url(#gO)"/><circle cx="310.7" cy="180.8" r="2.3" fill="url(#gO)"/><circle cx="316.8" cy="156.3" r="2.3" fill="url(#gO)"/><circle cx="316" cy="168.5" r="2.3" fill="url(#gO)"/><circle cx="317" cy="176" r="2.3" fill="url(#gO)"/><circle cx="351.9" cy="158.8" r="2.3" fill="url(#gO)"/><circle cx="327.4" cy="171.7" r="2.3" fill="url(#gO)"/><circle cx="326.6" cy="183.9" r="2.3" fill="url(#gO)"/><circle cx="327.6" cy="191.4" r="2.3" fill="url(#gO)"/><circle cx="333.7" cy="166.9" r="2.3" fill="url(#gO)"/><circle cx="332.9" cy="179.1" r="2.3" fill="url(#gO)"/><circle cx="333.9" cy="186.6" r="2.3" fill="url(#gO)"/><circle cx="340" cy="162.1" r="2.3" fill="url(#gO)"/><circle cx="339.2" cy="174.3" r="2.3" fill="url(#gO)"/><circle cx="340.2" cy="181.8" r="2.3" fill="url(#gO)"/><circle cx="346.3" cy="157.3" r="2.3" fill="url(#gO)"/><circle cx="345.5" cy="169.5" r="2.3" fill="url(#gO)"/><circle cx="346.5" cy="177" r="2.3" fill="url(#gO)"/>
<circle cx="259.9" cy="76.6" r="4.7" fill="url(#gT)"/><circle cx="253.6" cy="81.4" r="4.8" fill="url(#gT)"/><circle cx="247.3" cy="86.2" r="4.9" fill="url(#gT)"/><circle cx="241" cy="91" r="5" fill="url(#gT)"/><circle cx="286.9" cy="81.3" r="4.7" fill="url(#gT)"/><circle cx="280.6" cy="86.1" r="4.8" fill="url(#gT)"/><circle cx="274.3" cy="90.9" r="4" fill="url(#gK)"/><circle cx="268" cy="95.7" r="5" fill="url(#gT)"/><circle cx="316.4" cy="76.6" r="4.7" fill="url(#gT)"/><circle cx="310.1" cy="81.4" r="4.8" fill="url(#gT)"/><circle cx="303.8" cy="86.2" r="4.9" fill="url(#gT)"/><circle cx="297.5" cy="91" r="5" fill="url(#gT)"/><circle cx="342.9" cy="81.3" r="4.7" fill="url(#gT)"/><circle cx="336.6" cy="86.1" r="4.8" fill="url(#gT)"/><circle cx="330.3" cy="90.9" r="4.9" fill="url(#gT)"/><circle cx="324" cy="95.7" r="5" fill="url(#gT)"/><circle cx="259.9" cy="106.3" r="4.7" fill="url(#gT)"/><circle cx="253.6" cy="111.1" r="4.8" fill="url(#gT)"/><circle cx="247.3" cy="115.9" r="4.9" fill="url(#gT)"/><circle cx="241" cy="120.7" r="5" fill="url(#gT)"/><circle cx="289.9" cy="107.1" r="4.7" fill="url(#gT)"/><circle cx="283.6" cy="111.9" r="4.8" fill="url(#gT)"/><circle cx="277.3" cy="116.7" r="4.9" fill="url(#gT)"/><circle cx="271" cy="121.5" r="5" fill="url(#gT)"/><circle cx="316.4" cy="106.3" r="4.7" fill="url(#gT)"/><circle cx="310.1" cy="111.1" r="4.8" fill="url(#gT)"/><circle cx="303.8" cy="115.9" r="4.9" fill="url(#gT)"/><circle cx="297.5" cy="120.7" r="5" fill="url(#gT)"/><circle cx="345.9" cy="107.1" r="4.7" fill="url(#gT)"/><circle cx="339.6" cy="111.9" r="4.8" fill="url(#gT)"/><circle cx="333.3" cy="116.7" r="4.9" fill="url(#gT)"/><circle cx="327" cy="121.5" r="5" fill="url(#gT)"/><circle cx="353.8" cy="120.7" r="5" fill="url(#gT)"/><circle cx="259.9" cy="132.1" r="4.7" fill="url(#gT)"/><circle cx="253.6" cy="136.9" r="4.8" fill="url(#gT)"/><circle cx="247.3" cy="141.7" r="4.9" fill="url(#gT)"/><circle cx="241" cy="146.5" r="5" fill="url(#gT)"/><circle cx="286.9" cy="136.4" r="4.7" fill="url(#gT)"/><circle cx="280.6" cy="141.2" r="4.8" fill="url(#gT)"/><circle cx="274.3" cy="146" r="4.9" fill="url(#gT)"/><circle cx="268" cy="150.8" r="5" fill="url(#gT)"/><circle cx="316.4" cy="132.1" r="4.7" fill="url(#gT)"/><circle cx="310.1" cy="136.9" r="4.8" fill="url(#gT)"/><circle cx="303.8" cy="141.7" r="4.9" fill="url(#gT)"/><circle cx="297.5" cy="146.5" r="5" fill="url(#gT)"/><circle cx="342.9" cy="136.4" r="4.7" fill="url(#gT)"/><circle cx="336.6" cy="141.2" r="4.8" fill="url(#gT)"/><circle cx="330.3" cy="146" r="4.9" fill="url(#gT)"/><circle cx="324" cy="150.8" r="5" fill="url(#gT)"/><circle cx="353.8" cy="146.5" r="5" fill="url(#gT)"/><circle cx="259.9" cy="162.4" r="4.7" fill="url(#gT)"/><circle cx="253.6" cy="167.2" r="4.8" fill="url(#gT)"/><circle cx="247.3" cy="172" r="4.9" fill="url(#gT)"/><circle cx="241" cy="176.8" r="5" fill="url(#gT)"/><circle cx="289.9" cy="163.4" r="4.7" fill="url(#gT)"/><circle cx="283.6" cy="168.2" r="4.8" fill="url(#gT)"/><circle cx="277.3" cy="173" r="4.9" fill="url(#gT)"/><circle cx="271" cy="177.8" r="5" fill="url(#gT)"/><circle cx="316.4" cy="162.4" r="4.7" fill="url(#gT)"/><circle cx="310.1" cy="167.2" r="4.8" fill="url(#gT)"/><circle cx="303.8" cy="172" r="4.9" fill="url(#gT)"/><circle cx="297.5" cy="176.8" r="5" fill="url(#gT)"/><circle cx="345.9" cy="163.4" r="4.7" fill="url(#gT)"/><circle cx="339.6" cy="168.2" r="4.8" fill="url(#gT)"/><circle cx="333.3" cy="173" r="4.9" fill="url(#gT)"/><circle cx="327" cy="177.8" r="5" fill="url(#gT)"/>
<circle cx="235" cy="95.6" r="2.3" fill="url(#gO)"/><circle cx="227.5" cy="93.5" r="2.3" fill="url(#gO)"/><circle cx="262" cy="100.3" r="2.3" fill="url(#gO)"/><circle cx="254.5" cy="98.2" r="2.3" fill="url(#gO)"/><circle cx="291.5" cy="95.6" r="2.3" fill="url(#gO)"/><circle cx="284" cy="93.5" r="2.3" fill="url(#gO)"/><circle cx="318" cy="100.3" r="2.3" fill="url(#gO)"/><circle cx="310.5" cy="98.2" r="2.3" fill="url(#gO)"/><circle cx="235" cy="125.3" r="2.3" fill="url(#gO)"/><circle cx="227.5" cy="123.2" r="2.3" fill="url(#gO)"/><circle cx="265" cy="126.1" r="2.3" fill="url(#gO)"/><circle cx="257.5" cy="124" r="2.3" fill="url(#gO)"/><circle cx="291.5" cy="125.3" r="2.3" fill="url(#gO)"/><circle cx="284" cy="123.2" r="2.3" fill="url(#gO)"/><circle cx="321" cy="126.1" r="2.3" fill="url(#gO)"/><circle cx="313.5" cy="124" r="2.3" fill="url(#gO)"/><circle cx="347.8" cy="125.3" r="2.3" fill="url(#gO)"/><circle cx="340.3" cy="123.2" r="2.3" fill="url(#gO)"/><circle cx="235" cy="151.1" r="2.3" fill="url(#gO)"/><circle cx="227.5" cy="149" r="2.3" fill="url(#gO)"/><circle cx="262" cy="155.4" r="2.3" fill="url(#gO)"/><circle cx="254.5" cy="153.3" r="2.3" fill="url(#gO)"/><circle cx="291.5" cy="151.1" r="2.3" fill="url(#gO)"/><circle cx="284" cy="149" r="2.3" fill="url(#gO)"/><circle cx="318" cy="155.4" r="2.3" fill="url(#gO)"/><circle cx="310.5" cy="153.3" r="2.3" fill="url(#gO)"/><circle cx="347.8" cy="151.1" r="2.3" fill="url(#gO)"/><circle cx="340.3" cy="149" r="2.3" fill="url(#gO)"/><circle cx="235" cy="181.4" r="2.3" fill="url(#gO)"/><circle cx="227.5" cy="179.3" r="2.3" fill="url(#gO)"/><circle cx="265" cy="182.4" r="2.3" fill="url(#gO)"/><circle cx="257.5" cy="180.3" r="2.3" fill="url(#gO)"/><circle cx="291.5" cy="181.4" r="2.3" fill="url(#gO)"/><circle cx="284" cy="179.3" r="2.3" fill="url(#gO)"/><circle cx="321" cy="182.4" r="2.3" fill="url(#gO)"/><circle cx="313.5" cy="180.3" r="2.3" fill="url(#gO)"/>
</g>
<g id="s3" fill="none" stroke-linecap="round">
<path d="M392.9 221.2L426.8 199.6" stroke="#e3151a" stroke-width="2.2"/><path d="M399.5 217L400.1 213.2" stroke="#86c3e6" stroke-width="1.7"/><path d="M400.1 213.2L400.5 210.9" stroke="#e3151a" stroke-width="1.7"/><path d="M399.5 217L398.9 220.8" stroke="#86c3e6" stroke-width="1.7"/><path d="M398.9 220.8L398.5 223.1" stroke="#e3151a" stroke-width="1.7"/><path d="M399.5 217L399.9 225.4" stroke="#86c3e6" stroke-width="1.6"/><path d="M399.9 225.4L400.1 230.6" stroke="#e3151a" stroke-width="1.6"/><path d="M400.5 244L400.3 235.7" stroke="#86c3e6" stroke-width="1.6"/><path d="M400.3 235.7L400.1 230.6" stroke="#e3151a" stroke-width="1.6"/><path d="M399.5 217L399.2 210.5" stroke="#86c3e6" stroke-width="1.2"/><path d="M399.2 210.5L399 206.5" stroke="#e3151a" stroke-width="1.2"/><path d="M399.5 217L391.1 218.6" stroke="#86c3e6" stroke-width="1.2"/><path d="M391.1 218.6L386 219.5" stroke="#e3151a" stroke-width="1.2"/><path d="M406.4 212.6L407 208.8" stroke="#86c3e6" stroke-width="1.7"/><path d="M407 208.8L407.4 206.5" stroke="#e3151a" stroke-width="1.7"/><path d="M406.4 212.6L405.8 216.4" stroke="#86c3e6" stroke-width="1.7"/><path d="M405.8 216.4L405.4 218.7" stroke="#e3151a" stroke-width="1.7"/><path d="M406.4 212.6L406.8 221" stroke="#86c3e6" stroke-width="1.6"/><path d="M406.8 221L407 226.2" stroke="#e3151a" stroke-width="1.6"/><path d="M407.4 239.6L407.2 231.3" stroke="#86c3e6" stroke-width="1.6"/><path d="M407.2 231.3L407 226.2" stroke="#e3151a" stroke-width="1.6"/><path d="M413.3 208.2L413.9 204.4" stroke="#86c3e6" stroke-width="1.7"/><path d="M413.9 204.4L414.3 202.1" stroke="#e3151a" stroke-width="1.7"/><path d="M413.3 208.2L412.7 212" stroke="#86c3e6" stroke-width="1.7"/><path d="M412.7 212L412.3 214.3" stroke="#e3151a" stroke-width="1.7"/><path d="M413.3 208.2L413.7 216.6" stroke="#86c3e6" stroke-width="1.6"/><path d="M413.7 216.6L413.9 221.8" stroke="#e3151a" stroke-width="1.6"/><path d="M414.3 235.2L414.1 226.9" stroke="#86c3e6" stroke-width="1.6"/><path d="M414.1 226.9L413.9 221.8" stroke="#e3151a" stroke-width="1.6"/><path d="M420.2 203.8L420.8 200" stroke="#86c3e6" stroke-width="1.7"/><path d="M420.8 200L421.2 197.7" stroke="#e3151a" stroke-width="1.7"/><path d="M420.2 203.8L419.6 207.6" stroke="#86c3e6" stroke-width="1.7"/><path d="M419.6 207.6L419.2 209.9" stroke="#e3151a" stroke-width="1.7"/><path d="M420.2 203.8L420.6 212.2" stroke="#86c3e6" stroke-width="1.6"/><path d="M420.6 212.2L420.8 217.4" stroke="#e3151a" stroke-width="1.6"/><path d="M421.2 230.8L421 222.5" stroke="#86c3e6" stroke-width="1.6"/><path d="M421 222.5L420.8 217.4" stroke="#e3151a" stroke-width="1.6"/><path d="M418.9 227.7L452.8 206.1" stroke="#e3151a" stroke-width="2.2"/><path d="M425.5 223.5L426.1 219.7" stroke="#86c3e6" stroke-width="1.7"/><path d="M426.1 219.7L426.5 217.4" stroke="#e3151a" stroke-width="1.7"/><path d="M425.5 223.5L424.9 227.3" stroke="#86c3e6" stroke-width="1.7"/><path d="M424.9 227.3L424.5 229.6" stroke="#e3151a" stroke-width="1.7"/><path d="M425.5 223.5L425.9 231.9" stroke="#86c3e6" stroke-width="1.6"/><path d="M425.9 231.9L426.1 237.1" stroke="#e3151a" stroke-width="1.6"/><path d="M426.5 250.5L426.3 242.2" stroke="#86c3e6" stroke-width="1.6"/><path d="M426.3 242.2L426.1 237.1" stroke="#e3151a" stroke-width="1.6"/><path d="M425.5 223.5L417.1 225.1" stroke="#86c3e6" stroke-width="1.2"/><path d="M417.1 225.1L412 226" stroke="#e3151a" stroke-width="1.2"/><path d="M432.4 219.1L433 215.3" stroke="#86c3e6" stroke-width="1.7"/><path d="M433 215.3L433.4 213" stroke="#e3151a" stroke-width="1.7"/><path d="M432.4 219.1L431.8 222.9" stroke="#86c3e6" stroke-width="1.7"/><path d="M431.8 222.9L431.4 225.2" stroke="#e3151a" stroke-width="1.7"/><path d="M432.4 219.1L432.8 227.5" stroke="#86c3e6" stroke-width="1.6"/><path d="M432.8 227.5L433 232.7" stroke="#e3151a" stroke-width="1.6"/><path d="M433.4 246.1L433.2 237.8" stroke="#86c3e6" stroke-width="1.6"/><path d="M433.2 237.8L433 232.7" stroke="#e3151a" stroke-width="1.6"/><path d="M432.4 219.1L432.1 212.6" stroke="#86c3e6" stroke-width="1.2"/><path d="M432.1 212.6L431.9 208.6" stroke="#e3151a" stroke-width="1.2"/><path d="M439.3 214.7L439.9 210.9" stroke="#86c3e6" stroke-width="1.7"/><path d="M439.9 210.9L440.3 208.6" stroke="#e3151a" stroke-width="1.7"/><path d="M439.3 214.7L438.7 218.5" stroke="#86c3e6" stroke-width="1.7"/><path d="M438.7 218.5L438.3 220.8" stroke="#e3151a" stroke-width="1.7"/><path d="M439.3 214.7L439.7 223.1" stroke="#86c3e6" stroke-width="1.6"/><path d="M439.7 223.1L439.9 228.3" stroke="#e3151a" stroke-width="1.6"/><path d="M440.3 241.7L440.1 233.4" stroke="#86c3e6" stroke-width="1.6"/><path d="M440.1 233.4L439.9 228.3" stroke="#e3151a" stroke-width="1.6"/><path d="M446.2 210.3L446.8 206.5" stroke="#86c3e6" stroke-width="1.7"/><path d="M446.8 206.5L447.2 204.2" stroke="#e3151a" stroke-width="1.7"/><path d="M446.2 210.3L445.6 214.1" stroke="#86c3e6" stroke-width="1.7"/><path d="M445.6 214.1L445.2 216.4" stroke="#e3151a" stroke-width="1.7"/><path d="M446.2 210.3L446.6 218.7" stroke="#86c3e6" stroke-width="1.6"/><path d="M446.6 218.7L446.8 223.9" stroke="#e3151a" stroke-width="1.6"/><path d="M447.2 237.3L447 229" stroke="#86c3e6" stroke-width="1.6"/><path d="M447 229L446.8 223.9" stroke="#e3151a" stroke-width="1.6"/><path d="M446.2 210.3L445.9 203.8" stroke="#86c3e6" stroke-width="1.2"/><path d="M445.9 203.8L445.7 199.8" stroke="#e3151a" stroke-width="1.2"/><path d="M446.9 221.2L480.8 199.6" stroke="#e3151a" stroke-width="2.2"/><path d="M453.5 217L454.1 213.2" stroke="#86c3e6" stroke-width="1.7"/><path d="M454.1 213.2L454.5 210.9" stroke="#e3151a" stroke-width="1.7"/><path d="M453.5 217L452.9 220.8" stroke="#86c3e6" stroke-width="1.7"/><path d="M452.9 220.8L452.5 223.1" stroke="#e3151a" stroke-width="1.7"/><path d="M453.5 217L453.9 225.4" stroke="#86c3e6" stroke-width="1.6"/><path d="M453.9 225.4L454.1 230.6" stroke="#e3151a" stroke-width="1.6"/><path d="M454.5 244L454.3 235.7" stroke="#86c3e6" stroke-width="1.6"/><path d="M454.3 235.7L454.1 230.6" stroke="#e3151a" stroke-width="1.6"/><path d="M453.5 217L453.2 210.5" stroke="#86c3e6" stroke-width="1.2"/><path d="M453.2 210.5L453 206.5" stroke="#e3151a" stroke-width="1.2"/><path d="M453.5 217L445.1 218.6" stroke="#86c3e6" stroke-width="1.2"/><path d="M445.1 218.6L440 219.5" stroke="#e3151a" stroke-width="1.2"/><path d="M460.4 212.6L461 208.8" stroke="#86c3e6" stroke-width="1.7"/><path d="M461 208.8L461.4 206.5" stroke="#e3151a" stroke-width="1.7"/><path d="M460.4 212.6L459.8 216.4" stroke="#86c3e6" stroke-width="1.7"/><path d="M459.8 216.4L459.4 218.7" stroke="#e3151a" stroke-width="1.7"/><path d="M460.4 212.6L460.8 221" stroke="#86c3e6" stroke-width="1.6"/><path d="M460.8 221L461 226.2" stroke="#e3151a" stroke-width="1.6"/><path d="M461.4 239.6L461.2 231.3" stroke="#86c3e6" stroke-width="1.6"/><path d="M461.2 231.3L461 226.2" stroke="#e3151a" stroke-width="1.6"/><path d="M467.3 208.2L467.9 204.4" stroke="#86c3e6" stroke-width="1.7"/><path d="M467.9 204.4L468.3 202.1" stroke="#e3151a" stroke-width="1.7"/><path d="M467.3 208.2L466.7 212" stroke="#86c3e6" stroke-width="1.7"/><path d="M466.7 212L466.3 214.3" stroke="#e3151a" stroke-width="1.7"/><path d="M467.3 208.2L467.7 216.6" stroke="#86c3e6" stroke-width="1.6"/><path d="M467.7 216.6L467.9 221.8" stroke="#e3151a" stroke-width="1.6"/><path d="M468.3 235.2L468.1 226.9" stroke="#86c3e6" stroke-width="1.6"/><path d="M468.1 226.9L467.9 221.8" stroke="#e3151a" stroke-width="1.6"/><path d="M467.3 208.2L467 201.7" stroke="#86c3e6" stroke-width="1.2"/><path d="M467 201.7L466.8 197.7" stroke="#e3151a" stroke-width="1.2"/><path d="M474.2 203.8L474.8 200" stroke="#86c3e6" stroke-width="1.7"/><path d="M474.8 200L475.2 197.7" stroke="#e3151a" stroke-width="1.7"/><path d="M474.2 203.8L473.6 207.6" stroke="#86c3e6" stroke-width="1.7"/><path d="M473.6 207.6L473.2 209.9" stroke="#e3151a" stroke-width="1.7"/><path d="M474.2 203.8L474.6 212.2" stroke="#86c3e6" stroke-width="1.6"/><path d="M474.6 212.2L474.8 217.4" stroke="#e3151a" stroke-width="1.6"/><path d="M475.2 230.8L475 222.5" stroke="#86c3e6" stroke-width="1.6"/><path d="M475 222.5L474.8 217.4" stroke="#e3151a" stroke-width="1.6"/><path d="M472.9 227.7L506.8 206.1" stroke="#e3151a" stroke-width="2.2"/><path d="M479.5 223.5L480.1 219.7" stroke="#86c3e6" stroke-width="1.7"/><path d="M480.1 219.7L480.5 217.4" stroke="#e3151a" stroke-width="1.7"/><path d="M479.5 223.5L478.9 227.3" stroke="#86c3e6" stroke-width="1.7"/><path d="M478.9 227.3L478.5 229.6" stroke="#e3151a" stroke-width="1.7"/><path d="M479.5 223.5L479.9 231.9" stroke="#86c3e6" stroke-width="1.6"/><path d="M479.9 231.9L480.1 237.1" stroke="#e3151a" stroke-width="1.6"/><path d="M480.5 250.5L480.3 242.2" stroke="#86c3e6" stroke-width="1.6"/><path d="M480.3 242.2L480.1 237.1" stroke="#e3151a" stroke-width="1.6"/><path d="M479.5 223.5L471.1 225.1" stroke="#86c3e6" stroke-width="1.2"/><path d="M471.1 225.1L466 226" stroke="#e3151a" stroke-width="1.2"/><path d="M486.4 219.1L487 215.3" stroke="#86c3e6" stroke-width="1.7"/><path d="M487 215.3L487.4 213" stroke="#e3151a" stroke-width="1.7"/><path d="M486.4 219.1L485.8 222.9" stroke="#86c3e6" stroke-width="1.7"/><path d="M485.8 222.9L485.4 225.2" stroke="#e3151a" stroke-width="1.7"/><path d="M486.4 219.1L486.8 227.5" stroke="#86c3e6" stroke-width="1.6"/><path d="M486.8 227.5L487 232.7" stroke="#e3151a" stroke-width="1.6"/><path d="M487.4 246.1L487.2 237.8" stroke="#86c3e6" stroke-width="1.6"/><path d="M487.2 237.8L487 232.7" stroke="#e3151a" stroke-width="1.6"/><path d="M486.4 219.1L486.1 212.6" stroke="#86c3e6" stroke-width="1.2"/><path d="M486.1 212.6L485.9 208.6" stroke="#e3151a" stroke-width="1.2"/><path d="M493.3 214.7L493.9 210.9" stroke="#86c3e6" stroke-width="1.7"/><path d="M493.9 210.9L494.3 208.6" stroke="#e3151a" stroke-width="1.7"/><path d="M493.3 214.7L492.7 218.5" stroke="#86c3e6" stroke-width="1.7"/><path d="M492.7 218.5L492.3 220.8" stroke="#e3151a" stroke-width="1.7"/><path d="M493.3 214.7L493.7 223.1" stroke="#86c3e6" stroke-width="1.6"/><path d="M493.7 223.1L493.9 228.3" stroke="#e3151a" stroke-width="1.6"/><path d="M494.3 241.7L494.1 233.4" stroke="#86c3e6" stroke-width="1.6"/><path d="M494.1 233.4L493.9 228.3" stroke="#e3151a" stroke-width="1.6"/><path d="M500.2 210.3L500.8 206.5" stroke="#86c3e6" stroke-width="1.7"/><path d="M500.8 206.5L501.2 204.2" stroke="#e3151a" stroke-width="1.7"/><path d="M500.2 210.3L499.6 214.1" stroke="#86c3e6" stroke-width="1.7"/><path d="M499.6 214.1L499.2 216.4" stroke="#e3151a" stroke-width="1.7"/><path d="M500.2 210.3L500.6 218.7" stroke="#86c3e6" stroke-width="1.6"/><path d="M500.6 218.7L500.8 223.9" stroke="#e3151a" stroke-width="1.6"/><path d="M501.2 237.3L501 229" stroke="#86c3e6" stroke-width="1.6"/><path d="M501 229L500.8 223.9" stroke="#e3151a" stroke-width="1.6"/><path d="M500.2 210.3L499.9 203.8" stroke="#86c3e6" stroke-width="1.2"/><path d="M499.9 203.8L499.7 199.8" stroke="#e3151a" stroke-width="1.2"/><path d="M501.6 221.2L514.8 212.8" stroke="#e3151a" stroke-width="2.2"/><path d="M508.2 217L508.8 213.2" stroke="#86c3e6" stroke-width="1.7"/><path d="M508.8 213.2L509.2 210.9" stroke="#e3151a" stroke-width="1.7"/><path d="M508.2 217L507.6 220.8" stroke="#86c3e6" stroke-width="1.7"/><path d="M507.6 220.8L507.2 223.1" stroke="#e3151a" stroke-width="1.7"/><path d="M508.2 217L508.6 225.4" stroke="#86c3e6" stroke-width="1.6"/><path d="M508.6 225.4L508.8 230.6" stroke="#e3151a" stroke-width="1.6"/><path d="M509.2 244L509 235.7" stroke="#86c3e6" stroke-width="1.6"/><path d="M509 235.7L508.8 230.6" stroke="#e3151a" stroke-width="1.6"/><path d="M508.2 217L507.9 210.5" stroke="#86c3e6" stroke-width="1.2"/><path d="M507.9 210.5L507.7 206.5" stroke="#e3151a" stroke-width="1.2"/><path d="M508.2 217L499.8 218.6" stroke="#86c3e6" stroke-width="1.2"/><path d="M499.8 218.6L494.7 219.5" stroke="#e3151a" stroke-width="1.2"/><path d="M392.9 250.7L426.8 229.1" stroke="#e3151a" stroke-width="2.2"/><path d="M399.5 246.5L400.1 242.7" stroke="#86c3e6" stroke-width="1.7"/><path d="M400.1 242.7L400.5 240.4" stroke="#e3151a" stroke-width="1.7"/><path d="M399.5 246.5L398.9 250.3" stroke="#86c3e6" stroke-width="1.7"/><path d="M398.9 250.3L398.5 252.6" stroke="#e3151a" stroke-width="1.7"/><path d="M399.5 246.5L399.9 254.9" stroke="#86c3e6" stroke-width="1.6"/><path d="M399.9 254.9L400.1 260.1" stroke="#e3151a" stroke-width="1.6"/><path d="M400.5 273.5L400.3 265.2" stroke="#86c3e6" stroke-width="1.6"/><path d="M400.3 265.2L400.1 260.1" stroke="#e3151a" stroke-width="1.6"/><path d="M399.5 246.5L391.1 248.1" stroke="#86c3e6" stroke-width="1.2"/><path d="M391.1 248.1L386 249" stroke="#e3151a" stroke-width="1.2"/><path d="M406.4 242.1L407 238.3" stroke="#86c3e6" stroke-width="1.7"/><path d="M407 238.3L407.4 236" stroke="#e3151a" stroke-width="1.7"/><path d="M406.4 242.1L405.8 245.9" stroke="#86c3e6" stroke-width="1.7"/><path d="M405.8 245.9L405.4 248.2" stroke="#e3151a" stroke-width="1.7"/><path d="M406.4 242.1L406.8 250.5" stroke="#86c3e6" stroke-width="1.6"/><path d="M406.8 250.5L407 255.7" stroke="#e3151a" stroke-width="1.6"/><path d="M407.4 269.1L407.2 260.8" stroke="#86c3e6" stroke-width="1.6"/><path d="M407.2 260.8L407 255.7" stroke="#e3151a" stroke-width="1.6"/><path d="M413.3 237.7L413.9 233.9" stroke="#86c3e6" stroke-width="1.7"/><path d="M413.9 233.9L414.3 231.6" stroke="#e3151a" stroke-width="1.7"/><path d="M413.3 237.7L412.7 241.5" stroke="#86c3e6" stroke-width="1.7"/><path d="M412.7 241.5L412.3 243.8" stroke="#e3151a" stroke-width="1.7"/><path d="M413.3 237.7L413.7 246.1" stroke="#86c3e6" stroke-width="1.6"/><path d="M413.7 246.1L413.9 251.3" stroke="#e3151a" stroke-width="1.6"/><path d="M414.3 264.7L414.1 256.4" stroke="#86c3e6" stroke-width="1.6"/><path d="M414.1 256.4L413.9 251.3" stroke="#e3151a" stroke-width="1.6"/><path d="M420.2 233.3L420.8 229.5" stroke="#86c3e6" stroke-width="1.7"/><path d="M420.8 229.5L421.2 227.2" stroke="#e3151a" stroke-width="1.7"/><path d="M420.2 233.3L419.6 237.1" stroke="#86c3e6" stroke-width="1.7"/><path d="M419.6 237.1L419.2 239.4" stroke="#e3151a" stroke-width="1.7"/><path d="M420.2 233.3L420.6 241.7" stroke="#86c3e6" stroke-width="1.6"/><path d="M420.6 241.7L420.8 246.9" stroke="#e3151a" stroke-width="1.6"/><path d="M421.2 260.3L421 252" stroke="#86c3e6" stroke-width="1.6"/><path d="M421 252L420.8 246.9" stroke="#e3151a" stroke-width="1.6"/><path d="M421.9 253.2L455.8 231.6" stroke="#e3151a" stroke-width="2.2"/><path d="M428.5 249L429.1 245.2" stroke="#86c3e6" stroke-width="1.7"/><path d="M429.1 245.2L429.5 242.9" stroke="#e3151a" stroke-width="1.7"/><path d="M428.5 249L427.9 252.8" stroke="#86c3e6" stroke-width="1.7"/><path d="M427.9 252.8L427.5 255.1" stroke="#e3151a" stroke-width="1.7"/><path d="M428.5 249L428.9 257.4" stroke="#86c3e6" stroke-width="1.6"/><path d="M428.9 257.4L429.1 262.6" stroke="#e3151a" stroke-width="1.6"/><path d="M429.5 276L429.3 267.7" stroke="#86c3e6" stroke-width="1.6"/><path d="M429.3 267.7L429.1 262.6" stroke="#e3151a" stroke-width="1.6"/><path d="M428.5 249L420.1 250.6" stroke="#86c3e6" stroke-width="1.2"/><path d="M420.1 250.6L415 251.5" stroke="#e3151a" stroke-width="1.2"/><path d="M435.4 244.6L436 240.8" stroke="#86c3e6" stroke-width="1.7"/><path d="M436 240.8L436.4 238.5" stroke="#e3151a" stroke-width="1.7"/><path d="M435.4 244.6L434.8 248.4" stroke="#86c3e6" stroke-width="1.7"/><path d="M434.8 248.4L434.4 250.7" stroke="#e3151a" stroke-width="1.7"/><path d="M435.4 244.6L435.8 253" stroke="#86c3e6" stroke-width="1.6"/><path d="M435.8 253L436 258.2" stroke="#e3151a" stroke-width="1.6"/><path d="M436.4 271.6L436.2 263.3" stroke="#86c3e6" stroke-width="1.6"/><path d="M436.2 263.3L436 258.2" stroke="#e3151a" stroke-width="1.6"/><path d="M442.3 240.2L442.9 236.4" stroke="#86c3e6" stroke-width="1.7"/><path d="M442.9 236.4L443.3 234.1" stroke="#e3151a" stroke-width="1.7"/><path d="M442.3 240.2L441.7 244" stroke="#86c3e6" stroke-width="1.7"/><path d="M441.7 244L441.3 246.3" stroke="#e3151a" stroke-width="1.7"/><path d="M442.3 240.2L442.7 248.6" stroke="#86c3e6" stroke-width="1.6"/><path d="M442.7 248.6L442.9 253.8" stroke="#e3151a" stroke-width="1.6"/><path d="M443.3 267.2L443.1 258.9" stroke="#86c3e6" stroke-width="1.6"/><path d="M443.1 258.9L442.9 253.8" stroke="#e3151a" stroke-width="1.6"/><path d="M449.2 235.8L449.8 232" stroke="#86c3e6" stroke-width="1.7"/><path d="M449.8 232L450.2 229.7" stroke="#e3151a" stroke-width="1.7"/><path d="M449.2 235.8L448.6 239.6" stroke="#86c3e6" stroke-width="1.7"/><path d="M448.6 239.6L448.2 241.9" stroke="#e3151a" stroke-width="1.7"/><path d="M449.2 235.8L449.6 244.2" stroke="#86c3e6" stroke-width="1.6"/><path d="M449.6 244.2L449.8 249.4" stroke="#e3151a" stroke-width="1.6"/><path d="M450.2 262.8L450 254.5" stroke="#86c3e6" stroke-width="1.6"/><path d="M450 254.5L449.8 249.4" stroke="#e3151a" stroke-width="1.6"/><path d="M446.9 250.7L480.8 229.1" stroke="#e3151a" stroke-width="2.2"/><path d="M453.5 246.5L454.1 242.7" stroke="#86c3e6" stroke-width="1.7"/><path d="M454.1 242.7L454.5 240.4" stroke="#e3151a" stroke-width="1.7"/><path d="M453.5 246.5L452.9 250.3" stroke="#86c3e6" stroke-width="1.7"/><path d="M452.9 250.3L452.5 252.6" stroke="#e3151a" stroke-width="1.7"/><path d="M453.5 246.5L453.9 254.9" stroke="#86c3e6" stroke-width="1.6"/><path d="M453.9 254.9L454.1 260.1" stroke="#e3151a" stroke-width="1.6"/><path d="M454.5 273.5L454.3 265.2" stroke="#86c3e6" stroke-width="1.6"/><path d="M454.3 265.2L454.1 260.1" stroke="#e3151a" stroke-width="1.6"/><path d="M453.5 246.5L445.1 248.1" stroke="#86c3e6" stroke-width="1.2"/><path d="M445.1 248.1L440 249" stroke="#e3151a" stroke-width="1.2"/><path d="M460.4 242.1L461 238.3" stroke="#86c3e6" stroke-width="1.7"/><path d="M461 238.3L461.4 236" stroke="#e3151a" stroke-width="1.7"/><path d="M460.4 242.1L459.8 245.9" stroke="#86c3e6" stroke-width="1.7"/><path d="M459.8 245.9L459.4 248.2" stroke="#e3151a" stroke-width="1.7"/><path d="M460.4 242.1L460.8 250.5" stroke="#86c3e6" stroke-width="1.6"/><path d="M460.8 250.5L461 255.7" stroke="#e3151a" stroke-width="1.6"/><path d="M461.4 269.1L461.2 260.8" stroke="#86c3e6" stroke-width="1.6"/><path d="M461.2 260.8L461 255.7" stroke="#e3151a" stroke-width="1.6"/><path d="M467.3 237.7L467.9 233.9" stroke="#86c3e6" stroke-width="1.7"/><path d="M467.9 233.9L468.3 231.6" stroke="#e3151a" stroke-width="1.7"/><path d="M467.3 237.7L466.7 241.5" stroke="#86c3e6" stroke-width="1.7"/><path d="M466.7 241.5L466.3 243.8" stroke="#e3151a" stroke-width="1.7"/><path d="M467.3 237.7L467.7 246.1" stroke="#86c3e6" stroke-width="1.6"/><path d="M467.7 246.1L467.9 251.3" stroke="#e3151a" stroke-width="1.6"/><path d="M468.3 264.7L468.1 256.4" stroke="#86c3e6" stroke-width="1.6"/><path d="M468.1 256.4L467.9 251.3" stroke="#e3151a" stroke-width="1.6"/><path d="M474.2 233.3L474.8 229.5" stroke="#86c3e6" stroke-width="1.7"/><path d="M474.8 229.5L475.2 227.2" stroke="#e3151a" stroke-width="1.7"/><path d="M474.2 233.3L473.6 237.1" stroke="#86c3e6" stroke-width="1.7"/><path d="M473.6 237.1L473.2 239.4" stroke="#e3151a" stroke-width="1.7"/><path d="M474.2 233.3L474.6 241.7" stroke="#86c3e6" stroke-width="1.6"/><path d="M474.6 241.7L474.8 246.9" stroke="#e3151a" stroke-width="1.6"/><path d="M475.2 260.3L475 252" stroke="#86c3e6" stroke-width="1.6"/><path d="M475 252L474.8 246.9" stroke="#e3151a" stroke-width="1.6"/><path d="M475.9 253.2L509.8 231.6" stroke="#e3151a" stroke-width="2.2"/><path d="M482.5 249L483.1 245.2" stroke="#86c3e6" stroke-width="1.7"/><path d="M483.1 245.2L483.5 242.9" stroke="#e3151a" stroke-width="1.7"/><path d="M482.5 249L481.9 252.8" stroke="#86c3e6" stroke-width="1.7"/><path d="M481.9 252.8L481.5 255.1" stroke="#e3151a" stroke-width="1.7"/><path d="M482.5 249L482.9 257.4" stroke="#86c3e6" stroke-width="1.6"/><path d="M482.9 257.4L483.1 262.6" stroke="#e3151a" stroke-width="1.6"/><path d="M483.5 276L483.3 267.7" stroke="#86c3e6" stroke-width="1.6"/><path d="M483.3 267.7L483.1 262.6" stroke="#e3151a" stroke-width="1.6"/><path d="M482.5 249L474.1 250.6" stroke="#86c3e6" stroke-width="1.2"/><path d="M474.1 250.6L469 251.5" stroke="#e3151a" stroke-width="1.2"/><path d="M489.4 244.6L490 240.8" stroke="#86c3e6" stroke-width="1.7"/><path d="M490 240.8L490.4 238.5" stroke="#e3151a" stroke-width="1.7"/><path d="M489.4 244.6L488.8 248.4" stroke="#86c3e6" stroke-width="1.7"/><path d="M488.8 248.4L488.4 250.7" stroke="#e3151a" stroke-width="1.7"/><path d="M489.4 244.6L489.8 253" stroke="#86c3e6" stroke-width="1.6"/><path d="M489.8 253L490 258.2" stroke="#e3151a" stroke-width="1.6"/><path d="M490.4 271.6L490.2 263.3" stroke="#86c3e6" stroke-width="1.6"/><path d="M490.2 263.3L490 258.2" stroke="#e3151a" stroke-width="1.6"/><path d="M496.3 240.2L496.9 236.4" stroke="#86c3e6" stroke-width="1.7"/><path d="M496.9 236.4L497.3 234.1" stroke="#e3151a" stroke-width="1.7"/><path d="M496.3 240.2L495.7 244" stroke="#86c3e6" stroke-width="1.7"/><path d="M495.7 244L495.3 246.3" stroke="#e3151a" stroke-width="1.7"/><path d="M496.3 240.2L496.7 248.6" stroke="#86c3e6" stroke-width="1.6"/><path d="M496.7 248.6L496.9 253.8" stroke="#e3151a" stroke-width="1.6"/><path d="M497.3 267.2L497.1 258.9" stroke="#86c3e6" stroke-width="1.6"/><path d="M497.1 258.9L496.9 253.8" stroke="#e3151a" stroke-width="1.6"/><path d="M503.2 235.8L503.8 232" stroke="#86c3e6" stroke-width="1.7"/><path d="M503.8 232L504.2 229.7" stroke="#e3151a" stroke-width="1.7"/><path d="M503.2 235.8L502.6 239.6" stroke="#86c3e6" stroke-width="1.7"/><path d="M502.6 239.6L502.2 241.9" stroke="#e3151a" stroke-width="1.7"/><path d="M503.2 235.8L503.6 244.2" stroke="#86c3e6" stroke-width="1.6"/><path d="M503.6 244.2L503.8 249.4" stroke="#e3151a" stroke-width="1.6"/><path d="M504.2 262.8L504 254.5" stroke="#86c3e6" stroke-width="1.6"/><path d="M504 254.5L503.8 249.4" stroke="#e3151a" stroke-width="1.6"/><path d="M501.6 250.7L514.8 242.3" stroke="#e3151a" stroke-width="2.2"/><path d="M508.2 246.5L508.8 242.7" stroke="#86c3e6" stroke-width="1.7"/><path d="M508.8 242.7L509.2 240.4" stroke="#e3151a" stroke-width="1.7"/><path d="M508.2 246.5L507.6 250.3" stroke="#86c3e6" stroke-width="1.7"/><path d="M507.6 250.3L507.2 252.6" stroke="#e3151a" stroke-width="1.7"/><path d="M508.2 246.5L508.6 254.9" stroke="#86c3e6" stroke-width="1.6"/><path d="M508.6 254.9L508.8 260.1" stroke="#e3151a" stroke-width="1.6"/><path d="M509.2 273.5L509 265.2" stroke="#86c3e6" stroke-width="1.6"/><path d="M509 265.2L508.8 260.1" stroke="#e3151a" stroke-width="1.6"/><path d="M508.2 246.5L499.8 248.1" stroke="#86c3e6" stroke-width="1.2"/><path d="M499.8 248.1L494.7 249" stroke="#e3151a" stroke-width="1.2"/><path d="M392.9 277.2L426.8 255.6" stroke="#e3151a" stroke-width="2.2"/><path d="M399.5 273L400.1 269.2" stroke="#86c3e6" stroke-width="1.7"/><path d="M400.1 269.2L400.5 266.9" stroke="#e3151a" stroke-width="1.7"/><path d="M399.5 273L398.9 276.8" stroke="#86c3e6" stroke-width="1.7"/><path d="M398.9 276.8L398.5 279.1" stroke="#e3151a" stroke-width="1.7"/><path d="M399.5 273L399.9 281.4" stroke="#86c3e6" stroke-width="1.6"/><path d="M399.9 281.4L400.1 286.6" stroke="#e3151a" stroke-width="1.6"/><path d="M400.5 300L400.3 291.7" stroke="#86c3e6" stroke-width="1.6"/><path d="M400.3 291.7L400.1 286.6" stroke="#e3151a" stroke-width="1.6"/><path d="M399.5 273L391.1 274.6" stroke="#86c3e6" stroke-width="1.2"/><path d="M391.1 274.6L386 275.5" stroke="#e3151a" stroke-width="1.2"/><path d="M406.4 268.6L407 264.8" stroke="#86c3e6" stroke-width="1.7"/><path d="M407 264.8L407.4 262.5" stroke="#e3151a" stroke-width="1.7"/><path d="M406.4 268.6L405.8 272.4" stroke="#86c3e6" stroke-width="1.7"/><path d="M405.8 272.4L405.4 274.7" stroke="#e3151a" stroke-width="1.7"/><path d="M406.4 268.6L406.8 277" stroke="#86c3e6" stroke-width="1.6"/><path d="M406.8 277L407 282.2" stroke="#e3151a" stroke-width="1.6"/><path d="M407.4 295.6L407.2 287.3" stroke="#86c3e6" stroke-width="1.6"/><path d="M407.2 287.3L407 282.2" stroke="#e3151a" stroke-width="1.6"/><path d="M413.3 264.2L413.9 260.4" stroke="#86c3e6" stroke-width="1.7"/><path d="M413.9 260.4L414.3 258.1" stroke="#e3151a" stroke-width="1.7"/><path d="M413.3 264.2L412.7 268" stroke="#86c3e6" stroke-width="1.7"/><path d="M412.7 268L412.3 270.3" stroke="#e3151a" stroke-width="1.7"/><path d="M413.3 264.2L413.7 272.6" stroke="#86c3e6" stroke-width="1.6"/><path d="M413.7 272.6L413.9 277.8" stroke="#e3151a" stroke-width="1.6"/><path d="M414.3 291.2L414.1 282.9" stroke="#86c3e6" stroke-width="1.6"/><path d="M414.1 282.9L413.9 277.8" stroke="#e3151a" stroke-width="1.6"/><path d="M420.2 259.8L420.8 256" stroke="#86c3e6" stroke-width="1.7"/><path d="M420.8 256L421.2 253.7" stroke="#e3151a" stroke-width="1.7"/><path d="M420.2 259.8L419.6 263.6" stroke="#86c3e6" stroke-width="1.7"/><path d="M419.6 263.6L419.2 265.9" stroke="#e3151a" stroke-width="1.7"/><path d="M420.2 259.8L420.6 268.2" stroke="#86c3e6" stroke-width="1.6"/><path d="M420.6 268.2L420.8 273.4" stroke="#e3151a" stroke-width="1.6"/><path d="M421.2 286.8L421 278.5" stroke="#86c3e6" stroke-width="1.6"/><path d="M421 278.5L420.8 273.4" stroke="#e3151a" stroke-width="1.6"/><path d="M418.9 281.7L452.8 260.1" stroke="#e3151a" stroke-width="2.2"/><path d="M425.5 277.5L426.1 273.7" stroke="#86c3e6" stroke-width="1.7"/><path d="M426.1 273.7L426.5 271.4" stroke="#e3151a" stroke-width="1.7"/><path d="M425.5 277.5L424.9 281.3" stroke="#86c3e6" stroke-width="1.7"/><path d="M424.9 281.3L424.5 283.6" stroke="#e3151a" stroke-width="1.7"/><path d="M425.5 277.5L425.9 285.9" stroke="#86c3e6" stroke-width="1.6"/><path d="M425.9 285.9L426.1 291.1" stroke="#e3151a" stroke-width="1.6"/><path d="M426.5 304.5L426.3 296.2" stroke="#86c3e6" stroke-width="1.6"/><path d="M426.3 296.2L426.1 291.1" stroke="#e3151a" stroke-width="1.6"/><path d="M425.5 277.5L417.1 279.1" stroke="#86c3e6" stroke-width="1.2"/><path d="M417.1 279.1L412 280" stroke="#e3151a" stroke-width="1.2"/><path d="M432.4 273.1L433 269.3" stroke="#86c3e6" stroke-width="1.7"/><path d="M433 269.3L433.4 267" stroke="#e3151a" stroke-width="1.7"/><path d="M432.4 273.1L431.8 276.9" stroke="#86c3e6" stroke-width="1.7"/><path d="M431.8 276.9L431.4 279.2" stroke="#e3151a" stroke-width="1.7"/><path d="M432.4 273.1L432.8 281.5" stroke="#86c3e6" stroke-width="1.6"/><path d="M432.8 281.5L433 286.7" stroke="#e3151a" stroke-width="1.6"/><path d="M433.4 300.1L433.2 291.8" stroke="#86c3e6" stroke-width="1.6"/><path d="M433.2 291.8L433 286.7" stroke="#e3151a" stroke-width="1.6"/><path d="M439.3 268.7L439.9 264.9" stroke="#86c3e6" stroke-width="1.7"/><path d="M439.9 264.9L440.3 262.6" stroke="#e3151a" stroke-width="1.7"/><path d="M439.3 268.7L438.7 272.5" stroke="#86c3e6" stroke-width="1.7"/><path d="M438.7 272.5L438.3 274.8" stroke="#e3151a" stroke-width="1.7"/><path d="M439.3 268.7L439.7 277.1" stroke="#86c3e6" stroke-width="1.6"/><path d="M439.7 277.1L439.9 282.3" stroke="#e3151a" stroke-width="1.6"/><path d="M440.3 295.7L440.1 287.4" stroke="#86c3e6" stroke-width="1.6"/><path d="M440.1 287.4L439.9 282.3" stroke="#e3151a" stroke-width="1.6"/><path d="M446.2 264.3L446.8 260.5" stroke="#86c3e6" stroke-width="1.7"/><path d="M446.8 260.5L447.2 258.2" stroke="#e3151a" stroke-width="1.7"/><path d="M446.2 264.3L445.6 268.1" stroke="#86c3e6" stroke-width="1.7"/><path d="M445.6 268.1L445.2 270.4" stroke="#e3151a" stroke-width="1.7"/><path d="M446.2 264.3L446.6 272.7" stroke="#86c3e6" stroke-width="1.6"/><path d="M446.6 272.7L446.8 277.9" stroke="#e3151a" stroke-width="1.6"/><path d="M447.2 291.3L447 283" stroke="#86c3e6" stroke-width="1.6"/><path d="M447 283L446.8 277.9" stroke="#e3151a" stroke-width="1.6"/><path d="M446.9 277.2L480.8 255.6" stroke="#e3151a" stroke-width="2.2"/><path d="M453.5 273L454.1 269.2" stroke="#86c3e6" stroke-width="1.7"/><path d="M454.1 269.2L454.5 266.9" stroke="#e3151a" stroke-width="1.7"/><path d="M453.5 273L452.9 276.8" stroke="#86c3e6" stroke-width="1.7"/><path d="M452.9 276.8L452.5 279.1" stroke="#e3151a" stroke-width="1.7"/><path d="M453.5 273L453.9 281.4" stroke="#86c3e6" stroke-width="1.6"/><path d="M453.9 281.4L454.1 286.6" stroke="#e3151a" stroke-width="1.6"/><path d="M454.5 300L454.3 291.7" stroke="#86c3e6" stroke-width="1.6"/><path d="M454.3 291.7L454.1 286.6" stroke="#e3151a" stroke-width="1.6"/><path d="M453.5 273L445.1 274.6" stroke="#86c3e6" stroke-width="1.2"/><path d="M445.1 274.6L440 275.5" stroke="#e3151a" stroke-width="1.2"/><path d="M460.4 268.6L461 264.8" stroke="#86c3e6" stroke-width="1.7"/><path d="M461 264.8L461.4 262.5" stroke="#e3151a" stroke-width="1.7"/><path d="M460.4 268.6L459.8 272.4" stroke="#86c3e6" stroke-width="1.7"/><path d="M459.8 272.4L459.4 274.7" stroke="#e3151a" stroke-width="1.7"/><path d="M460.4 268.6L460.8 277" stroke="#86c3e6" stroke-width="1.6"/><path d="M460.8 277L461 282.2" stroke="#e3151a" stroke-width="1.6"/><path d="M461.4 295.6L461.2 287.3" stroke="#86c3e6" stroke-width="1.6"/><path d="M461.2 287.3L461 282.2" stroke="#e3151a" stroke-width="1.6"/><path d="M467.3 264.2L467.9 260.4" stroke="#86c3e6" stroke-width="1.7"/><path d="M467.9 260.4L468.3 258.1" stroke="#e3151a" stroke-width="1.7"/><path d="M467.3 264.2L466.7 268" stroke="#86c3e6" stroke-width="1.7"/><path d="M466.7 268L466.3 270.3" stroke="#e3151a" stroke-width="1.7"/><path d="M467.3 264.2L467.7 272.6" stroke="#86c3e6" stroke-width="1.6"/><path d="M467.7 272.6L467.9 277.8" stroke="#e3151a" stroke-width="1.6"/><path d="M468.3 291.2L468.1 282.9" stroke="#86c3e6" stroke-width="1.6"/><path d="M468.1 282.9L467.9 277.8" stroke="#e3151a" stroke-width="1.6"/><path d="M474.2 259.8L474.8 256" stroke="#86c3e6" stroke-width="1.7"/><path d="M474.8 256L475.2 253.7" stroke="#e3151a" stroke-width="1.7"/><path d="M474.2 259.8L473.6 263.6" stroke="#86c3e6" stroke-width="1.7"/><path d="M473.6 263.6L473.2 265.9" stroke="#e3151a" stroke-width="1.7"/><path d="M474.2 259.8L474.6 268.2" stroke="#86c3e6" stroke-width="1.6"/><path d="M474.6 268.2L474.8 273.4" stroke="#e3151a" stroke-width="1.6"/><path d="M475.2 286.8L475 278.5" stroke="#86c3e6" stroke-width="1.6"/><path d="M475 278.5L474.8 273.4" stroke="#e3151a" stroke-width="1.6"/><path d="M472.9 281.7L506.8 260.1" stroke="#e3151a" stroke-width="2.2"/><path d="M479.5 277.5L480.1 273.7" stroke="#86c3e6" stroke-width="1.7"/><path d="M480.1 273.7L480.5 271.4" stroke="#e3151a" stroke-width="1.7"/><path d="M479.5 277.5L478.9 281.3" stroke="#86c3e6" stroke-width="1.7"/><path d="M478.9 281.3L478.5 283.6" stroke="#e3151a" stroke-width="1.7"/><path d="M479.5 277.5L479.9 285.9" stroke="#86c3e6" stroke-width="1.6"/><path d="M479.9 285.9L480.1 291.1" stroke="#e3151a" stroke-width="1.6"/><path d="M480.5 304.5L480.3 296.2" stroke="#86c3e6" stroke-width="1.6"/><path d="M480.3 296.2L480.1 291.1" stroke="#e3151a" stroke-width="1.6"/><path d="M479.5 277.5L471.1 279.1" stroke="#86c3e6" stroke-width="1.2"/><path d="M471.1 279.1L466 280" stroke="#e3151a" stroke-width="1.2"/><path d="M486.4 273.1L487 269.3" stroke="#86c3e6" stroke-width="1.7"/><path d="M487 269.3L487.4 267" stroke="#e3151a" stroke-width="1.7"/><path d="M486.4 273.1L485.8 276.9" stroke="#86c3e6" stroke-width="1.7"/><path d="M485.8 276.9L485.4 279.2" stroke="#e3151a" stroke-width="1.7"/><path d="M486.4 273.1L486.8 281.5" stroke="#86c3e6" stroke-width="1.6"/><path d="M486.8 281.5L487 286.7" stroke="#e3151a" stroke-width="1.6"/><path d="M487.4 300.1L487.2 291.8" stroke="#86c3e6" stroke-width="1.6"/><path d="M487.2 291.8L487 286.7" stroke="#e3151a" stroke-width="1.6"/><path d="M493.3 268.7L493.9 264.9" stroke="#86c3e6" stroke-width="1.7"/><path d="M493.9 264.9L494.3 262.6" stroke="#e3151a" stroke-width="1.7"/><path d="M493.3 268.7L492.7 272.5" stroke="#86c3e6" stroke-width="1.7"/><path d="M492.7 272.5L492.3 274.8" stroke="#e3151a" stroke-width="1.7"/><path d="M493.3 268.7L493.7 277.1" stroke="#86c3e6" stroke-width="1.6"/><path d="M493.7 277.1L493.9 282.3" stroke="#e3151a" stroke-width="1.6"/><path d="M494.3 295.7L494.1 287.4" stroke="#86c3e6" stroke-width="1.6"/><path d="M494.1 287.4L493.9 282.3" stroke="#e3151a" stroke-width="1.6"/><path d="M500.2 264.3L500.8 260.5" stroke="#86c3e6" stroke-width="1.7"/><path d="M500.8 260.5L501.2 258.2" stroke="#e3151a" stroke-width="1.7"/><path d="M500.2 264.3L499.6 268.1" stroke="#86c3e6" stroke-width="1.7"/><path d="M499.6 268.1L499.2 270.4" stroke="#e3151a" stroke-width="1.7"/><path d="M500.2 264.3L500.6 272.7" stroke="#86c3e6" stroke-width="1.6"/><path d="M500.6 272.7L500.8 277.9" stroke="#e3151a" stroke-width="1.6"/><path d="M501.2 291.3L501 283" stroke="#86c3e6" stroke-width="1.6"/><path d="M501 283L500.8 277.9" stroke="#e3151a" stroke-width="1.6"/><path d="M501.6 277.2L514.8 268.8" stroke="#e3151a" stroke-width="2.2"/><path d="M508.2 273L508.8 269.2" stroke="#86c3e6" stroke-width="1.7"/><path d="M508.8 269.2L509.2 266.9" stroke="#e3151a" stroke-width="1.7"/><path d="M508.2 273L507.6 276.8" stroke="#86c3e6" stroke-width="1.7"/><path d="M507.6 276.8L507.2 279.1" stroke="#e3151a" stroke-width="1.7"/><path d="M508.2 273L508.6 281.4" stroke="#86c3e6" stroke-width="1.6"/><path d="M508.6 281.4L508.8 286.6" stroke="#e3151a" stroke-width="1.6"/><path d="M508.2 273L499.8 274.6" stroke="#86c3e6" stroke-width="1.2"/><path d="M499.8 274.6L494.7 275.5" stroke="#e3151a" stroke-width="1.2"/><path d="M399.5 302.5L426.8 285.1" stroke="#e3151a" stroke-width="2.2"/><path d="M399.5 302.5L400.1 298.7" stroke="#86c3e6" stroke-width="1.7"/><path d="M400.1 298.7L400.5 296.4" stroke="#e3151a" stroke-width="1.7"/><path d="M406.4 298.1L407 294.3" stroke="#86c3e6" stroke-width="1.7"/><path d="M407 294.3L407.4 292" stroke="#e3151a" stroke-width="1.7"/><path d="M406.4 298.1L405.8 301.9" stroke="#86c3e6" stroke-width="1.7"/><path d="M405.8 301.9L405.4 304.2" stroke="#e3151a" stroke-width="1.7"/><path d="M413.3 293.7L413.9 289.9" stroke="#86c3e6" stroke-width="1.7"/><path d="M413.9 289.9L414.3 287.6" stroke="#e3151a" stroke-width="1.7"/><path d="M413.3 293.7L412.7 297.5" stroke="#86c3e6" stroke-width="1.7"/><path d="M412.7 297.5L412.3 299.8" stroke="#e3151a" stroke-width="1.7"/><path d="M413.3 293.7L413.7 302.1" stroke="#86c3e6" stroke-width="1.6"/><path d="M413.7 302.1L413.9 307.3" stroke="#e3151a" stroke-width="1.6"/><path d="M420.2 289.3L420.8 285.5" stroke="#86c3e6" stroke-width="1.7"/><path d="M420.8 285.5L421.2 283.2" stroke="#e3151a" stroke-width="1.7"/><path d="M420.2 289.3L419.6 293.1" stroke="#86c3e6" stroke-width="1.7"/><path d="M419.6 293.1L419.2 295.4" stroke="#e3151a" stroke-width="1.7"/><path d="M420.2 289.3L420.6 297.7" stroke="#86c3e6" stroke-width="1.6"/><path d="M420.6 297.7L420.8 302.9" stroke="#e3151a" stroke-width="1.6"/><path d="M421.9 308.2L455.8 286.6" stroke="#e3151a" stroke-width="2.2"/><path d="M428.5 304L429.1 300.2" stroke="#86c3e6" stroke-width="1.7"/><path d="M429.1 300.2L429.5 297.9" stroke="#e3151a" stroke-width="1.7"/><path d="M428.5 304L427.9 307.8" stroke="#86c3e6" stroke-width="1.7"/><path d="M427.9 307.8L427.5 310.1" stroke="#e3151a" stroke-width="1.7"/><path d="M428.5 304L420.1 305.6" stroke="#86c3e6" stroke-width="1.2"/><path d="M420.1 305.6L415 306.5" stroke="#e3151a" stroke-width="1.2"/><path d="M435.4 299.6L436 295.8" stroke="#86c3e6" stroke-width="1.7"/><path d="M436 295.8L436.4 293.5" stroke="#e3151a" stroke-width="1.7"/><path d="M435.4 299.6L434.8 303.4" stroke="#86c3e6" stroke-width="1.7"/><path d="M434.8 303.4L434.4 305.7" stroke="#e3151a" stroke-width="1.7"/><path d="M435.4 299.6L435.8 308" stroke="#86c3e6" stroke-width="1.6"/><path d="M435.8 308L436 313.2" stroke="#e3151a" stroke-width="1.6"/><path d="M442.3 295.2L442.9 291.4" stroke="#86c3e6" stroke-width="1.7"/><path d="M442.9 291.4L443.3 289.1" stroke="#e3151a" stroke-width="1.7"/><path d="M442.3 295.2L441.7 299" stroke="#86c3e6" stroke-width="1.7"/><path d="M441.7 299L441.3 301.3" stroke="#e3151a" stroke-width="1.7"/><path d="M442.3 295.2L442.7 303.6" stroke="#86c3e6" stroke-width="1.6"/><path d="M442.7 303.6L442.9 308.8" stroke="#e3151a" stroke-width="1.6"/><path d="M449.2 290.8L449.8 287" stroke="#86c3e6" stroke-width="1.7"/><path d="M449.8 287L450.2 284.7" stroke="#e3151a" stroke-width="1.7"/><path d="M449.2 290.8L448.6 294.6" stroke="#86c3e6" stroke-width="1.7"/><path d="M448.6 294.6L448.2 296.9" stroke="#e3151a" stroke-width="1.7"/><path d="M449.2 290.8L449.6 299.2" stroke="#86c3e6" stroke-width="1.6"/><path d="M449.6 299.2L449.8 304.4" stroke="#e3151a" stroke-width="1.6"/><path d="M446.9 306.7L480.8 285.1" stroke="#e3151a" stroke-width="2.2"/><path d="M453.5 302.5L454.1 298.7" stroke="#86c3e6" stroke-width="1.7"/><path d="M454.1 298.7L454.5 296.4" stroke="#e3151a" stroke-width="1.7"/><path d="M453.5 302.5L452.9 306.3" stroke="#86c3e6" stroke-width="1.7"/><path d="M452.9 306.3L452.5 308.6" stroke="#e3151a" stroke-width="1.7"/><path d="M453.5 302.5L445.1 304.1" stroke="#86c3e6" stroke-width="1.2"/><path d="M445.1 304.1L440 305" stroke="#e3151a" stroke-width="1.2"/><path d="M460.4 298.1L461 294.3" stroke="#86c3e6" stroke-width="1.7"/><path d="M461 294.3L461.4 292" stroke="#e3151a" stroke-width="1.7"/><path d="M460.4 298.1L459.8 301.9" stroke="#86c3e6" stroke-width="1.7"/><path d="M459.8 301.9L459.4 304.2" stroke="#e3151a" stroke-width="1.7"/><path d="M460.4 298.1L460.8 306.5" stroke="#86c3e6" stroke-width="1.6"/><path d="M460.8 306.5L461 311.7" stroke="#e3151a" stroke-width="1.6"/><path d="M467.3 293.7L467.9 289.9" stroke="#86c3e6" stroke-width="1.7"/><path d="M467.9 289.9L468.3 287.6" stroke="#e3151a" stroke-width="1.7"/><path d="M467.3 293.7L466.7 297.5" stroke="#86c3e6" stroke-width="1.7"/><path d="M466.7 297.5L466.3 299.8" stroke="#e3151a" stroke-width="1.7"/><path d="M467.3 293.7L467.7 302.1" stroke="#86c3e6" stroke-width="1.6"/><path d="M467.7 302.1L467.9 307.3" stroke="#e3151a" stroke-width="1.6"/><path d="M474.2 289.3L474.8 285.5" stroke="#86c3e6" stroke-width="1.7"/><path d="M474.8 285.5L475.2 283.2" stroke="#e3151a" stroke-width="1.7"/><path d="M474.2 289.3L473.6 293.1" stroke="#86c3e6" stroke-width="1.7"/><path d="M473.6 293.1L473.2 295.4" stroke="#e3151a" stroke-width="1.7"/><path d="M474.2 289.3L474.6 297.7" stroke="#86c3e6" stroke-width="1.6"/><path d="M474.6 297.7L474.8 302.9" stroke="#e3151a" stroke-width="1.6"/><path d="M475.9 308.2L509.8 286.6" stroke="#e3151a" stroke-width="2.2"/><path d="M482.5 304L483.1 300.2" stroke="#86c3e6" stroke-width="1.7"/><path d="M483.1 300.2L483.5 297.9" stroke="#e3151a" stroke-width="1.7"/><path d="M482.5 304L481.9 307.8" stroke="#86c3e6" stroke-width="1.7"/><path d="M481.9 307.8L481.5 310.1" stroke="#e3151a" stroke-width="1.7"/><path d="M482.5 304L474.1 305.6" stroke="#86c3e6" stroke-width="1.2"/><path d="M474.1 305.6L469 306.5" stroke="#e3151a" stroke-width="1.2"/><path d="M489.4 299.6L490 295.8" stroke="#86c3e6" stroke-width="1.7"/><path d="M490 295.8L490.4 293.5" stroke="#e3151a" stroke-width="1.7"/><path d="M489.4 299.6L488.8 303.4" stroke="#86c3e6" stroke-width="1.7"/><path d="M488.8 303.4L488.4 305.7" stroke="#e3151a" stroke-width="1.7"/><path d="M496.3 295.2L496.9 291.4" stroke="#86c3e6" stroke-width="1.7"/><path d="M496.9 291.4L497.3 289.1" stroke="#e3151a" stroke-width="1.7"/><path d="M496.3 295.2L495.7 299" stroke="#86c3e6" stroke-width="1.7"/><path d="M495.7 299L495.3 301.3" stroke="#e3151a" stroke-width="1.7"/><path d="M503.2 290.8L503.8 287" stroke="#86c3e6" stroke-width="1.7"/><path d="M503.8 287L504.2 284.7" stroke="#e3151a" stroke-width="1.7"/><path d="M503.2 290.8L502.6 294.6" stroke="#86c3e6" stroke-width="1.7"/><path d="M502.6 294.6L502.2 296.9" stroke="#e3151a" stroke-width="1.7"/>
<circle cx="426.8" cy="199.6" r="2.2" fill="url(#gO)"/><circle cx="400.5" cy="210.9" r="2.2" fill="url(#gO)"/><circle cx="398.5" cy="223.1" r="2.2" fill="url(#gO)"/><circle cx="400.1" cy="230.6" r="2.2" fill="url(#gO)"/><circle cx="399" cy="206.5" r="2.2" fill="url(#gO)"/><circle cx="407.4" cy="206.5" r="2.2" fill="url(#gO)"/><circle cx="405.4" cy="218.7" r="2.2" fill="url(#gO)"/><circle cx="407" cy="226.2" r="2.2" fill="url(#gO)"/><circle cx="414.3" cy="202.1" r="2.2" fill="url(#gO)"/><circle cx="412.3" cy="214.3" r="2.2" fill="url(#gO)"/><circle cx="413.9" cy="221.8" r="2.2" fill="url(#gO)"/><circle cx="421.2" cy="197.7" r="2.2" fill="url(#gO)"/><circle cx="419.2" cy="209.9" r="2.2" fill="url(#gO)"/><circle cx="420.8" cy="217.4" r="2.2" fill="url(#gO)"/><circle cx="452.8" cy="206.1" r="2.2" fill="url(#gO)"/><circle cx="426.5" cy="217.4" r="2.2" fill="url(#gO)"/><circle cx="424.5" cy="229.6" r="2.2" fill="url(#gO)"/><circle cx="426.1" cy="237.1" r="2.2" fill="url(#gO)"/><circle cx="433.4" cy="213" r="2.2" fill="url(#gO)"/><circle cx="431.4" cy="225.2" r="2.2" fill="url(#gO)"/><circle cx="433" cy="232.7" r="2.2" fill="url(#gO)"/><circle cx="431.9" cy="208.6" r="2.2" fill="url(#gO)"/><circle cx="440.3" cy="208.6" r="2.2" fill="url(#gO)"/><circle cx="438.3" cy="220.8" r="2.2" fill="url(#gO)"/><circle cx="439.9" cy="228.3" r="2.2" fill="url(#gO)"/><circle cx="447.2" cy="204.2" r="2.2" fill="url(#gO)"/><circle cx="445.2" cy="216.4" r="2.2" fill="url(#gO)"/><circle cx="446.8" cy="223.9" r="2.2" fill="url(#gO)"/><circle cx="445.7" cy="199.8" r="2.2" fill="url(#gO)"/><circle cx="480.8" cy="199.6" r="2.2" fill="url(#gO)"/><circle cx="454.5" cy="210.9" r="2.2" fill="url(#gO)"/><circle cx="452.5" cy="223.1" r="2.2" fill="url(#gO)"/><circle cx="454.1" cy="230.6" r="2.2" fill="url(#gO)"/><circle cx="453" cy="206.5" r="2.2" fill="url(#gO)"/><circle cx="461.4" cy="206.5" r="2.2" fill="url(#gO)"/><circle cx="459.4" cy="218.7" r="2.2" fill="url(#gO)"/><circle cx="461" cy="226.2" r="2.2" fill="url(#gO)"/><circle cx="468.3" cy="202.1" r="2.2" fill="url(#gO)"/><circle cx="466.3" cy="214.3" r="2.2" fill="url(#gO)"/><circle cx="467.9" cy="221.8" r="2.2" fill="url(#gO)"/><circle cx="466.8" cy="197.7" r="2.2" fill="url(#gO)"/><circle cx="475.2" cy="197.7" r="2.2" fill="url(#gO)"/><circle cx="473.2" cy="209.9" r="2.2" fill="url(#gO)"/><circle cx="474.8" cy="217.4" r="2.2" fill="url(#gO)"/><circle cx="506.8" cy="206.1" r="2.2" fill="url(#gO)"/><circle cx="480.5" cy="217.4" r="2.2" fill="url(#gO)"/><circle cx="478.5" cy="229.6" r="2.2" fill="url(#gO)"/><circle cx="480.1" cy="237.1" r="2.2" fill="url(#gO)"/><circle cx="487.4" cy="213" r="2.2" fill="url(#gO)"/><circle cx="485.4" cy="225.2" r="2.2" fill="url(#gO)"/><circle cx="487" cy="232.7" r="2.2" fill="url(#gO)"/><circle cx="485.9" cy="208.6" r="2.2" fill="url(#gO)"/><circle cx="494.3" cy="208.6" r="2.2" fill="url(#gO)"/><circle cx="492.3" cy="220.8" r="2.2" fill="url(#gO)"/><circle cx="493.9" cy="228.3" r="2.2" fill="url(#gO)"/><circle cx="501.2" cy="204.2" r="2.2" fill="url(#gO)"/><circle cx="499.2" cy="216.4" r="2.2" fill="url(#gO)"/><circle cx="500.8" cy="223.9" r="2.2" fill="url(#gO)"/><circle cx="499.7" cy="199.8" r="2.2" fill="url(#gO)"/><circle cx="514.8" cy="212.8" r="2.2" fill="url(#gO)"/><circle cx="509.2" cy="210.9" r="2.2" fill="url(#gO)"/><circle cx="507.2" cy="223.1" r="2.2" fill="url(#gO)"/><circle cx="508.8" cy="230.6" r="2.2" fill="url(#gO)"/><circle cx="507.7" cy="206.5" r="2.2" fill="url(#gO)"/><circle cx="426.8" cy="229.1" r="2.2" fill="url(#gO)"/><circle cx="400.5" cy="240.4" r="2.2" fill="url(#gO)"/><circle cx="398.5" cy="252.6" r="2.2" fill="url(#gO)"/><circle cx="400.1" cy="260.1" r="2.2" fill="url(#gO)"/><circle cx="407.4" cy="236" r="2.2" fill="url(#gO)"/><circle cx="405.4" cy="248.2" r="2.2" fill="url(#gO)"/><circle cx="407" cy="255.7" r="2.2" fill="url(#gO)"/><circle cx="414.3" cy="231.6" r="2.2" fill="url(#gO)"/><circle cx="412.3" cy="243.8" r="2.2" fill="url(#gO)"/><circle cx="413.9" cy="251.3" r="2.2" fill="url(#gO)"/><circle cx="421.2" cy="227.2" r="2.2" fill="url(#gO)"/><circle cx="419.2" cy="239.4" r="2.2" fill="url(#gO)"/><circle cx="420.8" cy="246.9" r="2.2" fill="url(#gO)"/><circle cx="455.8" cy="231.6" r="2.2" fill="url(#gO)"/><circle cx="429.5" cy="242.9" r="2.2" fill="url(#gO)"/><circle cx="427.5" cy="255.1" r="2.2" fill="url(#gO)"/><circle cx="429.1" cy="262.6" r="2.2" fill="url(#gO)"/><circle cx="436.4" cy="238.5" r="2.2" fill="url(#gO)"/><circle cx="434.4" cy="250.7" r="2.2" fill="url(#gO)"/><circle cx="436" cy="258.2" r="2.2" fill="url(#gO)"/><circle cx="443.3" cy="234.1" r="2.2" fill="url(#gO)"/><circle cx="441.3" cy="246.3" r="2.2" fill="url(#gO)"/><circle cx="442.9" cy="253.8" r="2.2" fill="url(#gO)"/><circle cx="450.2" cy="229.7" r="2.2" fill="url(#gO)"/><circle cx="448.2" cy="241.9" r="2.2" fill="url(#gO)"/><circle cx="449.8" cy="249.4" r="2.2" fill="url(#gO)"/><circle cx="480.8" cy="229.1" r="2.2" fill="url(#gO)"/><circle cx="454.5" cy="240.4" r="2.2" fill="url(#gO)"/><circle cx="452.5" cy="252.6" r="2.2" fill="url(#gO)"/><circle cx="454.1" cy="260.1" r="2.2" fill="url(#gO)"/><circle cx="461.4" cy="236" r="2.2" fill="url(#gO)"/><circle cx="459.4" cy="248.2" r="2.2" fill="url(#gO)"/><circle cx="461" cy="255.7" r="2.2" fill="url(#gO)"/><circle cx="468.3" cy="231.6" r="2.2" fill="url(#gO)"/><circle cx="466.3" cy="243.8" r="2.2" fill="url(#gO)"/><circle cx="467.9" cy="251.3" r="2.2" fill="url(#gO)"/><circle cx="475.2" cy="227.2" r="2.2" fill="url(#gO)"/><circle cx="473.2" cy="239.4" r="2.2" fill="url(#gO)"/><circle cx="474.8" cy="246.9" r="2.2" fill="url(#gO)"/><circle cx="509.8" cy="231.6" r="2.2" fill="url(#gO)"/><circle cx="483.5" cy="242.9" r="2.2" fill="url(#gO)"/><circle cx="481.5" cy="255.1" r="2.2" fill="url(#gO)"/><circle cx="483.1" cy="262.6" r="2.2" fill="url(#gO)"/><circle cx="490.4" cy="238.5" r="2.2" fill="url(#gO)"/><circle cx="488.4" cy="250.7" r="2.2" fill="url(#gO)"/><circle cx="490" cy="258.2" r="2.2" fill="url(#gO)"/><circle cx="497.3" cy="234.1" r="2.2" fill="url(#gO)"/><circle cx="495.3" cy="246.3" r="2.2" fill="url(#gO)"/><circle cx="496.9" cy="253.8" r="2.2" fill="url(#gO)"/><circle cx="504.2" cy="229.7" r="2.2" fill="url(#gO)"/><circle cx="502.2" cy="241.9" r="2.2" fill="url(#gO)"/><circle cx="503.8" cy="249.4" r="2.2" fill="url(#gO)"/><circle cx="514.8" cy="242.3" r="2.2" fill="url(#gO)"/><circle cx="509.2" cy="240.4" r="2.2" fill="url(#gO)"/><circle cx="507.2" cy="252.6" r="2.2" fill="url(#gO)"/><circle cx="508.8" cy="260.1" r="2.2" fill="url(#gO)"/><circle cx="426.8" cy="255.6" r="2.2" fill="url(#gO)"/><circle cx="400.5" cy="266.9" r="2.2" fill="url(#gO)"/><circle cx="398.5" cy="279.1" r="2.2" fill="url(#gO)"/><circle cx="400.1" cy="286.6" r="2.2" fill="url(#gO)"/><circle cx="407.4" cy="262.5" r="2.2" fill="url(#gO)"/><circle cx="405.4" cy="274.7" r="2.2" fill="url(#gO)"/><circle cx="407" cy="282.2" r="2.2" fill="url(#gO)"/><circle cx="414.3" cy="258.1" r="2.2" fill="url(#gO)"/><circle cx="412.3" cy="270.3" r="2.2" fill="url(#gO)"/><circle cx="413.9" cy="277.8" r="2.2" fill="url(#gO)"/><circle cx="421.2" cy="253.7" r="2.2" fill="url(#gO)"/><circle cx="419.2" cy="265.9" r="2.2" fill="url(#gO)"/><circle cx="420.8" cy="273.4" r="2.2" fill="url(#gO)"/><circle cx="452.8" cy="260.1" r="2.2" fill="url(#gO)"/><circle cx="426.5" cy="271.4" r="2.2" fill="url(#gO)"/><circle cx="424.5" cy="283.6" r="2.2" fill="url(#gO)"/><circle cx="426.1" cy="291.1" r="2.2" fill="url(#gO)"/><circle cx="433.4" cy="267" r="2.2" fill="url(#gO)"/><circle cx="431.4" cy="279.2" r="2.2" fill="url(#gO)"/><circle cx="433" cy="286.7" r="2.2" fill="url(#gO)"/><circle cx="440.3" cy="262.6" r="2.2" fill="url(#gO)"/><circle cx="438.3" cy="274.8" r="2.2" fill="url(#gO)"/><circle cx="439.9" cy="282.3" r="2.2" fill="url(#gO)"/><circle cx="447.2" cy="258.2" r="2.2" fill="url(#gO)"/><circle cx="445.2" cy="270.4" r="2.2" fill="url(#gO)"/><circle cx="446.8" cy="277.9" r="2.2" fill="url(#gO)"/><circle cx="480.8" cy="255.6" r="2.2" fill="url(#gO)"/><circle cx="454.5" cy="266.9" r="2.2" fill="url(#gO)"/><circle cx="452.5" cy="279.1" r="2.2" fill="url(#gO)"/><circle cx="454.1" cy="286.6" r="2.2" fill="url(#gO)"/><circle cx="461.4" cy="262.5" r="2.2" fill="url(#gO)"/><circle cx="459.4" cy="274.7" r="2.2" fill="url(#gO)"/><circle cx="461" cy="282.2" r="2.2" fill="url(#gO)"/><circle cx="468.3" cy="258.1" r="2.2" fill="url(#gO)"/><circle cx="466.3" cy="270.3" r="2.2" fill="url(#gO)"/><circle cx="467.9" cy="277.8" r="2.2" fill="url(#gO)"/><circle cx="475.2" cy="253.7" r="2.2" fill="url(#gO)"/><circle cx="473.2" cy="265.9" r="2.2" fill="url(#gO)"/><circle cx="474.8" cy="273.4" r="2.2" fill="url(#gO)"/><circle cx="506.8" cy="260.1" r="2.2" fill="url(#gO)"/><circle cx="480.5" cy="271.4" r="2.2" fill="url(#gO)"/><circle cx="478.5" cy="283.6" r="2.2" fill="url(#gO)"/><circle cx="480.1" cy="291.1" r="2.2" fill="url(#gO)"/><circle cx="487.4" cy="267" r="2.2" fill="url(#gO)"/><circle cx="485.4" cy="279.2" r="2.2" fill="url(#gO)"/><circle cx="487" cy="286.7" r="2.2" fill="url(#gO)"/><circle cx="494.3" cy="262.6" r="2.2" fill="url(#gO)"/><circle cx="492.3" cy="274.8" r="2.2" fill="url(#gO)"/><circle cx="493.9" cy="282.3" r="2.2" fill="url(#gO)"/><circle cx="501.2" cy="258.2" r="2.2" fill="url(#gO)"/><circle cx="499.2" cy="270.4" r="2.2" fill="url(#gO)"/><circle cx="500.8" cy="277.9" r="2.2" fill="url(#gO)"/><circle cx="514.8" cy="268.8" r="2.2" fill="url(#gO)"/><circle cx="509.2" cy="266.9" r="2.2" fill="url(#gO)"/><circle cx="507.2" cy="279.1" r="2.2" fill="url(#gO)"/><circle cx="508.8" cy="286.6" r="2.2" fill="url(#gO)"/><circle cx="426.8" cy="285.1" r="2.2" fill="url(#gO)"/><circle cx="400.5" cy="296.4" r="2.2" fill="url(#gO)"/><circle cx="407.4" cy="292" r="2.2" fill="url(#gO)"/><circle cx="405.4" cy="304.2" r="2.2" fill="url(#gO)"/><circle cx="414.3" cy="287.6" r="2.2" fill="url(#gO)"/><circle cx="412.3" cy="299.8" r="2.2" fill="url(#gO)"/><circle cx="413.9" cy="307.3" r="2.2" fill="url(#gO)"/><circle cx="421.2" cy="283.2" r="2.2" fill="url(#gO)"/><circle cx="419.2" cy="295.4" r="2.2" fill="url(#gO)"/><circle cx="420.8" cy="302.9" r="2.2" fill="url(#gO)"/><circle cx="455.8" cy="286.6" r="2.2" fill="url(#gO)"/><circle cx="429.5" cy="297.9" r="2.2" fill="url(#gO)"/><circle cx="427.5" cy="310.1" r="2.2" fill="url(#gO)"/><circle cx="436.4" cy="293.5" r="2.2" fill="url(#gO)"/><circle cx="434.4" cy="305.7" r="2.2" fill="url(#gO)"/><circle cx="436" cy="313.2" r="2.2" fill="url(#gO)"/><circle cx="443.3" cy="289.1" r="2.2" fill="url(#gO)"/><circle cx="441.3" cy="301.3" r="2.2" fill="url(#gO)"/><circle cx="442.9" cy="308.8" r="2.2" fill="url(#gO)"/><circle cx="450.2" cy="284.7" r="2.2" fill="url(#gO)"/><circle cx="448.2" cy="296.9" r="2.2" fill="url(#gO)"/><circle cx="449.8" cy="304.4" r="2.2" fill="url(#gO)"/><circle cx="480.8" cy="285.1" r="2.2" fill="url(#gO)"/><circle cx="454.5" cy="296.4" r="2.2" fill="url(#gO)"/><circle cx="452.5" cy="308.6" r="2.2" fill="url(#gO)"/><circle cx="461.4" cy="292" r="2.2" fill="url(#gO)"/><circle cx="459.4" cy="304.2" r="2.2" fill="url(#gO)"/><circle cx="461" cy="311.7" r="2.2" fill="url(#gO)"/><circle cx="468.3" cy="287.6" r="2.2" fill="url(#gO)"/><circle cx="466.3" cy="299.8" r="2.2" fill="url(#gO)"/><circle cx="467.9" cy="307.3" r="2.2" fill="url(#gO)"/><circle cx="475.2" cy="283.2" r="2.2" fill="url(#gO)"/><circle cx="473.2" cy="295.4" r="2.2" fill="url(#gO)"/><circle cx="474.8" cy="302.9" r="2.2" fill="url(#gO)"/><circle cx="509.8" cy="286.6" r="2.2" fill="url(#gO)"/><circle cx="483.5" cy="297.9" r="2.2" fill="url(#gO)"/><circle cx="481.5" cy="310.1" r="2.2" fill="url(#gO)"/><circle cx="490.4" cy="293.5" r="2.2" fill="url(#gO)"/><circle cx="488.4" cy="305.7" r="2.2" fill="url(#gO)"/><circle cx="497.3" cy="289.1" r="2.2" fill="url(#gO)"/><circle cx="495.3" cy="301.3" r="2.2" fill="url(#gO)"/><circle cx="504.2" cy="284.7" r="2.2" fill="url(#gO)"/><circle cx="502.2" cy="296.9" r="2.2" fill="url(#gO)"/>
<circle cx="420.2" cy="203.8" r="4.6" fill="url(#gT)"/><circle cx="413.3" cy="208.2" r="4.6" fill="url(#gT)"/><circle cx="406.4" cy="212.6" r="4.7" fill="url(#gT)"/><circle cx="399.5" cy="217" r="4.8" fill="url(#gT)"/><circle cx="446.2" cy="210.3" r="4.6" fill="url(#gT)"/><circle cx="439.3" cy="214.7" r="3.8" fill="url(#gK)"/><circle cx="432.4" cy="219.1" r="4.7" fill="url(#gT)"/><circle cx="425.5" cy="223.5" r="4.8" fill="url(#gT)"/><circle cx="474.2" cy="203.8" r="4.6" fill="url(#gT)"/><circle cx="467.3" cy="208.2" r="4.6" fill="url(#gT)"/><circle cx="460.4" cy="212.6" r="4.7" fill="url(#gT)"/><circle cx="453.5" cy="217" r="4.8" fill="url(#gT)"/><circle cx="500.2" cy="210.3" r="4.6" fill="url(#gT)"/><circle cx="493.3" cy="214.7" r="4.6" fill="url(#gT)"/><circle cx="486.4" cy="219.1" r="4.7" fill="url(#gT)"/><circle cx="479.5" cy="223.5" r="4.8" fill="url(#gT)"/><circle cx="508.2" cy="217" r="4.8" fill="url(#gT)"/><circle cx="420.2" cy="233.3" r="4.6" fill="url(#gT)"/><circle cx="413.3" cy="237.7" r="4.6" fill="url(#gT)"/><circle cx="406.4" cy="242.1" r="4.7" fill="url(#gT)"/><circle cx="399.5" cy="246.5" r="4.8" fill="url(#gT)"/><circle cx="449.2" cy="235.8" r="4.6" fill="url(#gT)"/><circle cx="442.3" cy="240.2" r="4.6" fill="url(#gT)"/><circle cx="435.4" cy="244.6" r="4.7" fill="url(#gT)"/><circle cx="428.5" cy="249" r="4.8" fill="url(#gT)"/><circle cx="474.2" cy="233.3" r="4.6" fill="url(#gT)"/><circle cx="467.3" cy="237.7" r="4.6" fill="url(#gT)"/><circle cx="460.4" cy="242.1" r="4.7" fill="url(#gT)"/><circle cx="453.5" cy="246.5" r="4.8" fill="url(#gT)"/><circle cx="503.2" cy="235.8" r="4.6" fill="url(#gT)"/><circle cx="496.3" cy="240.2" r="4.6" fill="url(#gT)"/><circle cx="489.4" cy="244.6" r="4.7" fill="url(#gT)"/><circle cx="482.5" cy="249" r="4.8" fill="url(#gT)"/><circle cx="508.2" cy="246.5" r="4.8" fill="url(#gT)"/><circle cx="420.2" cy="259.8" r="4.6" fill="url(#gT)"/><circle cx="413.3" cy="264.2" r="4.6" fill="url(#gT)"/><circle cx="406.4" cy="268.6" r="4.7" fill="url(#gT)"/><circle cx="399.5" cy="273" r="4.8" fill="url(#gT)"/><circle cx="446.2" cy="264.3" r="4.6" fill="url(#gT)"/><circle cx="439.3" cy="268.7" r="4.6" fill="url(#gT)"/><circle cx="432.4" cy="273.1" r="4.7" fill="url(#gT)"/><circle cx="425.5" cy="277.5" r="4.8" fill="url(#gT)"/><circle cx="474.2" cy="259.8" r="4.6" fill="url(#gT)"/><circle cx="467.3" cy="264.2" r="4.6" fill="url(#gT)"/><circle cx="460.4" cy="268.6" r="4.7" fill="url(#gT)"/><circle cx="453.5" cy="273" r="4.8" fill="url(#gT)"/><circle cx="500.2" cy="264.3" r="4.6" fill="url(#gT)"/><circle cx="493.3" cy="268.7" r="4.6" fill="url(#gT)"/><circle cx="486.4" cy="273.1" r="4.7" fill="url(#gT)"/><circle cx="479.5" cy="277.5" r="4.8" fill="url(#gT)"/><circle cx="508.2" cy="273" r="4.8" fill="url(#gT)"/><circle cx="420.2" cy="289.3" r="4.6" fill="url(#gT)"/><circle cx="413.3" cy="293.7" r="4.6" fill="url(#gT)"/><circle cx="406.4" cy="298.1" r="4.7" fill="url(#gT)"/><circle cx="399.5" cy="302.5" r="4.8" fill="url(#gT)"/><circle cx="449.2" cy="290.8" r="4.6" fill="url(#gT)"/><circle cx="442.3" cy="295.2" r="4.6" fill="url(#gT)"/><circle cx="435.4" cy="299.6" r="4.7" fill="url(#gT)"/><circle cx="428.5" cy="304" r="4.8" fill="url(#gT)"/><circle cx="474.2" cy="289.3" r="4.6" fill="url(#gT)"/><circle cx="467.3" cy="293.7" r="4.6" fill="url(#gT)"/><circle cx="460.4" cy="298.1" r="4.7" fill="url(#gT)"/><circle cx="453.5" cy="302.5" r="4.8" fill="url(#gT)"/><circle cx="503.2" cy="290.8" r="4.6" fill="url(#gT)"/><circle cx="496.3" cy="295.2" r="4.6" fill="url(#gT)"/><circle cx="489.4" cy="299.6" r="4.7" fill="url(#gT)"/><circle cx="482.5" cy="304" r="4.8" fill="url(#gT)"/>
<circle cx="392.9" cy="221.2" r="2.2" fill="url(#gO)"/><circle cx="386" cy="219.5" r="2.2" fill="url(#gO)"/><circle cx="418.9" cy="227.7" r="2.2" fill="url(#gO)"/><circle cx="412" cy="226" r="2.2" fill="url(#gO)"/><circle cx="446.9" cy="221.2" r="2.2" fill="url(#gO)"/><circle cx="440" cy="219.5" r="2.2" fill="url(#gO)"/><circle cx="472.9" cy="227.7" r="2.2" fill="url(#gO)"/><circle cx="466" cy="226" r="2.2" fill="url(#gO)"/><circle cx="501.6" cy="221.2" r="2.2" fill="url(#gO)"/><circle cx="494.7" cy="219.5" r="2.2" fill="url(#gO)"/><circle cx="392.9" cy="250.7" r="2.2" fill="url(#gO)"/><circle cx="386" cy="249" r="2.2" fill="url(#gO)"/><circle cx="421.9" cy="253.2" r="2.2" fill="url(#gO)"/><circle cx="415" cy="251.5" r="2.2" fill="url(#gO)"/><circle cx="446.9" cy="250.7" r="2.2" fill="url(#gO)"/><circle cx="440" cy="249" r="2.2" fill="url(#gO)"/><circle cx="475.9" cy="253.2" r="2.2" fill="url(#gO)"/><circle cx="469" cy="251.5" r="2.2" fill="url(#gO)"/><circle cx="501.6" cy="250.7" r="2.2" fill="url(#gO)"/><circle cx="494.7" cy="249" r="2.2" fill="url(#gO)"/><circle cx="392.9" cy="277.2" r="2.2" fill="url(#gO)"/><circle cx="386" cy="275.5" r="2.2" fill="url(#gO)"/><circle cx="418.9" cy="281.7" r="2.2" fill="url(#gO)"/><circle cx="412" cy="280" r="2.2" fill="url(#gO)"/><circle cx="446.9" cy="277.2" r="2.2" fill="url(#gO)"/><circle cx="440" cy="275.5" r="2.2" fill="url(#gO)"/><circle cx="472.9" cy="281.7" r="2.2" fill="url(#gO)"/><circle cx="466" cy="280" r="2.2" fill="url(#gO)"/><circle cx="501.6" cy="277.2" r="2.2" fill="url(#gO)"/><circle cx="494.7" cy="275.5" r="2.2" fill="url(#gO)"/><circle cx="421.9" cy="308.2" r="2.2" fill="url(#gO)"/><circle cx="415" cy="306.5" r="2.2" fill="url(#gO)"/><circle cx="446.9" cy="306.7" r="2.2" fill="url(#gO)"/><circle cx="440" cy="305" r="2.2" fill="url(#gO)"/><circle cx="475.9" cy="308.2" r="2.2" fill="url(#gO)"/><circle cx="469" cy="306.5" r="2.2" fill="url(#gO)"/>
</g>
<g id="iso1" stroke-width="0.5">
<ellipse cx="63.5" cy="52.7" rx="21.4" ry="12.7" transform="rotate(-8 63.5 52.7)" fill="url(#gC)" stroke="#1aa6ad"/>
<ellipse cx="46" cy="56" rx="6.5" ry="7.6" fill="url(#gC)"/>
<ellipse cx="85.3" cy="77.8" rx="12" ry="9.8" transform="rotate(10 85.3 77.8)" fill="url(#gC)" stroke="#1aa6ad"/>
<ellipse cx="53.6" cy="83.7" rx="10.5" ry="5.7" transform="rotate(-10 53.6 83.7)" fill="url(#gY)" stroke="#b9ae1a"/>
<ellipse cx="76.6" cy="89.4" rx="16.4" ry="2.8" transform="rotate(-3 76.6 89.4)" fill="url(#gY)"/>
<ellipse cx="44.9" cy="63.6" rx="8.3" ry="7.9" fill="url(#gY)" stroke="#b9ae1a"/>
<ellipse cx="66.1" cy="49.5" rx="7.9" ry="7.4" fill="url(#gY)" stroke="#b9ae1a"/>
<ellipse cx="68" cy="74.5" rx="13.7" ry="16.6" transform="rotate(5 68 74.5)" fill="url(#gC)" stroke="#1aa6ad"/>
<ellipse cx="91.2" cy="65.8" rx="10" ry="8.7" transform="rotate(15 91.2 65.8)" fill="url(#gY)" stroke="#b9ae1a"/>
<ellipse cx="42.7" cy="77.2" rx="3.9" ry="3.1" fill="url(#gC)"/>
<ellipse cx="94" cy="86.6" rx="4.8" ry="2.6" fill="url(#gC)"/>
</g>
<g id="iso2" stroke-width="0.4">
<ellipse cx="247.7" cy="60" rx="6" ry="6.5" fill="url(#gC)" stroke="#1aa6ad"/>
<ellipse cx="248.6" cy="74.5" rx="2.5" ry="2.4" fill="url(#gY)" stroke="#b9ae1a"/>
<ellipse cx="259.5" cy="58.7" rx="6" ry="7.5" transform="rotate(-20 259.5 58.7)" fill="url(#gY)" stroke="#b9ae1a"/>
<ellipse cx="256.8" cy="53.6" rx="4" ry="3.6" fill="url(#gC)" stroke="#1aa6ad"/>
<ellipse cx="270.5" cy="42.7" rx="5.3" ry="3.5" fill="url(#gY)" stroke="#b9ae1a"/>
<ellipse cx="270.5" cy="49.6" rx="6.2" ry="9.3" transform="rotate(5 270.5 49.6)" fill="url(#gC)" stroke="#1aa6ad"/>
<ellipse cx="283.2" cy="44.5" rx="6" ry="5.5" fill="url(#gC)" stroke="#1aa6ad"/>
<ellipse cx="279.9" cy="52.2" rx="6" ry="8.4" transform="rotate(10 279.9 52.2)" fill="url(#gY)" stroke="#b9ae1a"/>
<ellipse cx="265.9" cy="70.9" rx="3.3" ry="7.3" fill="url(#gY)" stroke="#b9ae1a"/>
<ellipse cx="285" cy="63.6" rx="5.5" ry="7.5" transform="rotate(-15 285 63.6)" fill="url(#gC)" stroke="#1aa6ad"/>
<ellipse cx="291.4" cy="60" rx="3.6" ry="3.3" fill="url(#gC)" stroke="#1aa6ad"/>
<ellipse cx="294.1" cy="67.6" rx="8.4" ry="9.3" transform="rotate(20 294.1 67.6)" fill="url(#gY)" stroke="#b9ae1a"/>
<ellipse cx="284.1" cy="73.1" rx="4.4" ry="4.4" fill="url(#gY)" stroke="#b9ae1a"/>
<ellipse cx="273.5" cy="73.1" rx="8.4" ry="11.5" transform="rotate(-5 273.5 73.1)" fill="url(#gC)" stroke="#1aa6ad"/>
<ellipse cx="279.5" cy="84.5" rx="2.7" ry="2.7" fill="url(#gC)" stroke="#1aa6ad"/>
<ellipse cx="306.8" cy="74.5" rx="3.8" ry="4.7" fill="url(#gC)" stroke="#1aa6ad"/>
<ellipse cx="311.7" cy="75.8" rx="2.7" ry="4" fill="url(#gY)" stroke="#b9ae1a"/>
</g>
<g id="iso3" stroke-width="0.4">
<ellipse cx="420.9" cy="187.3" rx="6.5" ry="5.5" fill="url(#gY)" stroke="#b9ae1a"/>
<ellipse cx="427.3" cy="191.3" rx="5.5" ry="5.5" fill="url(#gY)" stroke="#b9ae1a"/>
<ellipse cx="436.4" cy="180.4" rx="4.7" ry="4.4" fill="url(#gY)" stroke="#b9ae1a"/>
<ellipse cx="430" cy="171.8" rx="5.8" ry="5.5" fill="url(#gC)" stroke="#1aa6ad"/>
<ellipse cx="411.8" cy="181.8" rx="8.9" ry="6.9" transform="rotate(-10 411.8 181.8)" fill="url(#gY)" stroke="#b9ae1a"/>
<ellipse cx="420" cy="194.5" rx="7.6" ry="8.4" transform="rotate(-30 420 194.5)" fill="url(#gY)" stroke="#b9ae1a"/>
<ellipse cx="441.8" cy="176" rx="7.6" ry="5.1" transform="rotate(-25 441.8 176)" fill="url(#gY)" stroke="#b9ae1a"/>
<ellipse cx="431.5" cy="185.1" rx="4.7" ry="6.7" transform="rotate(10 431.5 185.1)" fill="url(#gY)" stroke="#b9ae1a"/>
<ellipse cx="421.8" cy="182.7" rx="2.9" ry="2.9" fill="url(#gC)" stroke="#1aa6ad"/>
<ellipse cx="439.1" cy="184.5" rx="3.6" ry="3.6" fill="url(#gC)" stroke="#1aa6ad"/>
<ellipse cx="411.8" cy="193.6" rx="2.5" ry="2.2" fill="url(#gC)" stroke="#1aa6ad"/>
<ellipse cx="407.3" cy="199.1" rx="2.4" ry="2.2" fill="url(#gY)" stroke="#b9ae1a"/>
<ellipse cx="409.1" cy="204" rx="2" ry="1.8" fill="url(#gC)" stroke="#1aa6ad"/>
<ellipse cx="452.7" cy="201.8" rx="3.5" ry="3.3" fill="url(#gY)" stroke="#b9ae1a"/>
<ellipse cx="450.9" cy="210" rx="3.5" ry="3.1" fill="url(#gY)" stroke="#b9ae1a"/>
<ellipse cx="468.2" cy="203.6" rx="2.7" ry="4.2" fill="url(#gY)" stroke="#b9ae1a"/>
<ellipse cx="432.7" cy="218.2" rx="4" ry="1.6" fill="url(#gY)" stroke="#b9ae1a"/>
<ellipse cx="444.5" cy="195.5" rx="4.5" ry="4.5" fill="url(#gY)" stroke="#b9ae1a"/>
<path d="M427.3 197.3C428.6 196.5 431.7 193.9 435.5 192.7C439.2 191.5 446.5 191.4 450 190C453.5 188.6 454.3 185 456.4 184.5C458.4 184.1 461.5 185.5 462.4 187.3C463.3 189.1 463.9 192.6 461.8 195.5C459.8 198.3 453.3 201.6 450 204.5C446.7 207.5 444.7 211.3 441.8 213.1C438.9 214.8 435.3 215.7 432.7 215.1C430.2 214.5 427.3 212.4 426.4 209.5C425.5 206.5 427.1 199.3 427.3 197.3Z" fill="url(#gC)" stroke="#1aa6ad"/>
<ellipse cx="431" cy="233.5" rx="2.6" ry="2.3" fill="url(#gY)"/>
</g>
<g id="inset">
<circle cx="97" cy="82.2" r="2.4" fill="#fff" stroke="#d01010" stroke-width="1.3"/>
<ellipse cx="88.8" cy="95" rx="3.2" ry="4.5" fill="url(#gC)"/><ellipse cx="93" cy="100.3" rx="4" ry="2.4" fill="url(#gY)"/><circle cx="94.6" cy="93.8" r="4" fill="url(#gK)"/>
<rect x="85.2" y="87.8" width="16.6" height="15.2" fill="none" stroke="#000" stroke-width="1.2"/>
<path d="M101.8 87.8L151.5 41.8M101.8 102.6L151.5 95.4" stroke="#2a2a2a" stroke-width="1.2" stroke-dasharray="3.6 2.6" fill="none"/>
<rect x="151.8" y="41.5" width="61.4" height="54.6" fill="#fff"/>
<g clip-path="url(#cpIn)">
<rect x="151.8" y="41.5" width="20" height="9" fill="#2cc6cb"/>
<ellipse cx="161.4" cy="47" rx="11.5" ry="6.8" fill="url(#gC)"/>
<ellipse cx="153.2" cy="83.4" rx="3.8" ry="6.5" fill="url(#gC)"/>
<ellipse cx="200.9" cy="48" rx="6.5" ry="5.7" fill="url(#gT)"/>
<ellipse cx="208.4" cy="50" rx="5.7" ry="7.5" fill="url(#gT)"/>
<ellipse cx="205" cy="64.3" rx="9.3" ry="13.6" fill="url(#gT)"/>
<path d="M190 87.5l8 -5l6 2l4 -7l5 -1v20h-25z" fill="#e01015"/>
<path d="M202 85.5l3 8M208 83.5l3 9" stroke="#fff" stroke-width="1"/>
<rect x="185.2" y="47" width="5" height="2.4" fill="#e01015"/>
<rect x="178.7" y="41.5" width="3.8" height="55" fill="#e01015"/>
<ellipse cx="173.9" cy="50" rx="7.1" ry="6.3" fill="url(#gY)"/>
<ellipse cx="156.6" cy="59.3" rx="10.9" ry="7.6" fill="url(#gY)"/>
<ellipse cx="159.7" cy="80" rx="10.6" ry="10.4" fill="url(#gY)"/>
<rect x="151.8" y="68.8" width="20" height="2.9" fill="#e01015"/>
<rect x="151.8" y="64" width="62" height="4.3" fill="#1a1a1a"/>
<ellipse cx="197.5" cy="57.5" rx="4.4" ry="5" fill="url(#gC)"/>
<ellipse cx="192.3" cy="84.8" rx="7.8" ry="7.1" fill="url(#gY)"/>
<rect x="179.1" y="49" width="3.6" height="36" fill="#1a1a1a"/>
<circle cx="183.9" cy="67" r="14.3" fill="url(#gK)"/>
<ellipse cx="174.3" cy="71.8" rx="9" ry="7.6" transform="rotate(-10 174.3 71.8)" fill="url(#gC)" stroke="#149098" stroke-width="0.5"/>
</g>
<rect x="151.8" y="41.5" width="61.4" height="54.6" fill="none" stroke="#000" stroke-width="1.4"/>
</g>
<g id="plot">
<rect x="42.9" y="198.5" width="320" height="252.1" fill="#fff"/>
<line x1="271.6" y1="199" x2="271.6" y2="450" stroke="#555" stroke-width="0.9" stroke-dasharray="1.1 1.4"/>
<g clip-path="url(#cpPlot)" fill="none" stroke-linejoin="round" stroke-linecap="round">
<path d="M41 288C41.3 287.3 42.1 285.9 42.7 283.6C43.3 281.4 44 274.9 44.5 274.5C45 274.1 45.5 278.9 46 281C46.5 283.1 46.9 286.8 47.3 287.3C47.7 287.8 48 285.1 48.4 284C48.8 282.9 49 280.5 49.5 281C50 281.5 50.7 285.1 51.3 287C51.9 288.9 52.5 293 53.1 292.7C53.8 292.4 54.5 287.4 55.2 285C55.9 282.6 56.7 277.4 57.3 278.2C57.9 279 58.3 285.3 58.8 290C59.2 294.7 59.5 301.1 60 306.4C60.5 311.7 61.2 317.8 61.8 322C62.4 326.2 62.9 332 63.6 331.8C64.3 331.6 65.4 325.2 66.3 321C67.2 316.8 68.3 310.6 69.1 306.4C69.8 302.2 70.2 298.6 70.8 296C71.3 293.4 71.7 290.2 72.4 290.9C73.1 291.6 74 297 75 300C76 303 77.2 311.5 78.2 309C79.2 306.5 80.2 291.8 80.9 285C81.6 278.2 81.8 272.4 82.2 268C82.6 263.6 82.7 263.2 83.1 258.6C83.5 254 84 245.6 84.5 240.5C85 235.4 85.4 230.8 85.8 228C86.2 225.2 86.5 223.7 86.9 223.7C87.3 223.7 87.5 225.2 88 228C88.5 230.8 89.4 236 90 240.5C90.6 245 91.1 250.1 91.6 255C92 259.9 92.3 263.8 92.7 270C93.1 276.2 93.7 284.4 94.2 292C94.7 299.6 94.8 307.9 95.5 315.5C96.2 323.1 97.5 332.2 98.2 337.3C99 342.4 99.4 343.9 100 346C100.6 348.1 101.2 350.7 101.8 350C102.4 349.3 103 344.7 103.5 342C104 339.3 104.6 333.8 105.1 333.6C105.6 333.4 106 338.6 106.4 341C106.8 343.4 107.2 348.4 107.6 348.2C108 348 108.5 342.7 109 340C109.5 337.3 110.1 331.5 110.5 331.8C110.9 332.1 111.2 338.1 111.6 342C112 345.9 112.3 350.8 112.7 355C113.1 359.2 113.5 364.4 114.1 367.4C114.7 370.4 115.4 371.6 116.3 372.9C117.2 374.2 118.7 373.6 119.5 375.1C120.3 376.6 120.7 379.6 121.2 382C121.8 384.4 122.2 389 122.8 389.2C123.4 389.4 124.1 384.8 124.7 383C125.3 381.2 125.9 378.3 126.6 378.4C127.3 378.5 128.1 381.8 128.8 383.5C129.6 385.2 129.9 387.6 131.1 388.8C132.3 390.1 134.1 390.8 136 391C137.9 391.2 140.5 389.7 142.5 389.8C144.5 389.9 141.8 391.2 148 391.5C154.2 391.8 166.3 391.6 180 391.6C193.7 391.6 212.8 391.6 230 391.6C247.2 391.6 272.9 392 283 391.6C293.1 391.2 288.7 389.9 290.7 389.1C292.7 388.3 293.6 387.7 295 387C296.4 386.3 297.7 384.9 299 384.9C300.3 384.9 301.4 386.3 302.6 387C303.8 387.7 304.8 389.5 306.3 389C307.8 388.5 309.8 385.6 311.5 384C313.2 382.4 315.3 380.1 316.7 379.7C318.1 379.3 318.9 381 320 381.5C321.1 382 322 382.6 323 382.5C324 382.4 325 381.5 326 381C327 380.5 328.2 379.7 329.1 379.7C330.1 379.7 330.8 380.6 331.7 381C332.6 381.4 333.2 382 334.3 381.8C335.4 381.6 336.8 380.9 338 380C339.2 379.1 340.6 378.1 341.6 376.6C342.6 375.1 343.2 372.7 344 371C344.8 369.3 345.5 366.2 346.3 366.2C347.1 366.2 348.1 369.4 349 371C349.9 372.6 351.2 375.1 352 375.6C352.8 376.1 353 374.4 353.5 374C354 373.6 354.4 372.7 355 372.9C355.6 373.1 356.3 374.4 357 375C357.7 375.6 358.5 376.6 359.2 376.6C359.9 376.6 360.4 375.5 361 375C361.6 374.5 362 374 362.7 373.5C363.4 373 364.6 372.2 365 372" stroke="#f40a0a" stroke-width="2.5"/>
<path d="M96 462C96.5 460 98.1 453.4 98.8 450.2C99.5 447 99.8 445.2 100.3 443C100.8 440.8 101.2 437.1 101.7 437.1C102.2 437.1 102.6 441 103 443C103.4 445 103.8 449.6 104.3 449.1C104.8 448.6 105.4 443.1 105.9 440C106.4 436.9 107 431.4 107.5 430.6C108 429.8 108.2 433.6 108.6 435C109 436.4 109.2 440.5 109.7 439.3C110.2 438.1 110.8 432 111.3 428C111.8 424 112.5 417.8 113 415.4C113.5 412.9 114 413.9 114.6 413.3C115.1 412.8 115.5 412.7 116.3 412.1C117.1 411.6 118.7 411.4 119.5 410C120.3 408.6 120.7 406.2 121.2 404C121.8 401.8 122.2 397.3 122.8 396.8C123.4 396.3 124.2 399.8 124.9 401C125.6 402.2 126.3 404.5 127 404.3C127.7 404.1 128.3 401.6 129 400C129.7 398.4 129.9 395.6 131.1 394.4C132.3 393.1 132.8 392.8 136 392.5C139.2 392.2 125.5 392.4 150 392.4C174.5 392.4 259.6 392 283 392.4C306.4 392.8 288.7 394.3 290.7 395C292.7 395.7 293.6 396.1 295 396.5C296.4 396.9 297.7 397.4 299 397.3C300.3 397.2 301.4 396.5 302.6 396C303.8 395.5 304.8 393.8 306.3 394.5C307.8 395.2 309.8 398.3 311.5 400C313.2 401.7 315.3 404.2 316.7 404.6C318.1 405 318.9 403 320 402.5C321.1 402 322 401.6 323 401.5C324 401.4 325 402 326 402.2C327 402.4 328.2 402.6 329.1 402.5C330.1 402.4 330.8 401.9 331.7 401.6C332.6 401.4 333.2 400.6 334.3 401C335.4 401.4 336.8 402.7 338 404C339.2 405.3 340.6 407.1 341.6 408.8C342.6 410.5 343.2 412.4 344 414C344.8 415.6 345.5 418.3 346.3 418.1C347.1 417.9 348.1 414.6 349 413C349.9 411.4 351.2 409.7 352 408.8C352.8 407.9 353.3 408 354 407.8C354.7 407.6 355.2 407.1 356 407.5C356.8 407.9 357.7 409.3 358.6 410C359.5 410.7 360.6 411.9 361.3 411.9C362 411.9 362.1 410.6 362.7 410C363.3 409.4 364.6 408.3 365 408" stroke="#f40a0a" stroke-width="2.5"/>
<ellipse cx="64.6" cy="450.2" rx="1.3" ry="1.5" fill="#f40a0a" stroke="none"/>
<path d="M41 371.5C41.4 371.6 42.4 371.6 43.3 371.8C44.2 372.1 45.4 373 46.5 373C47.6 373 48.7 371.6 49.8 371.8C50.9 372 51.9 373.8 53 374C54.1 374.2 55.1 372.3 56.3 373C57.5 373.7 58.5 376.4 60 378C61.5 379.6 63.5 382.5 65 382.7C66.5 382.9 67.7 380.1 69 379C70.3 377.9 71.5 376 72.7 376.1C73.9 376.2 74.9 378.6 76 379.5C77.1 380.4 78 382.4 79.2 381.6C80.4 380.9 81.8 377.1 83 375C84.2 372.9 85.3 369.4 86.4 369.2C87.5 369 88.5 372.1 89.5 374C90.5 375.9 91.1 378.1 92.3 380.5C93.5 382.9 94.8 386.4 96.6 388.1C98.4 389.9 101 390.4 103.2 391C105.4 391.6 87.9 391.4 110 391.5C132.1 391.6 214.8 392.6 236 391.3C257.2 390.1 236.7 386.9 237 384C237.3 381.1 237.7 374 238.1 374C238.5 374 238.8 381.1 239.2 384C239.5 386.9 233.6 390 240.2 391.3C246.8 392.6 272.5 391.6 279 391.6" stroke="#17e817" stroke-width="2.5"/>
<path d="M41 413.5C41.4 413.4 41.8 413.5 43.3 413.2C44.8 412.9 47.8 412.2 50 411.5C52.2 410.8 54.5 409.9 56.3 408.8C58 407.7 59 406.3 60.5 405C62 403.7 63.6 401.3 65 401.2C66.4 401.1 67.7 403.4 69 404.5C70.3 405.6 71.5 407.6 72.7 407.7C73.9 407.8 74.9 405.9 76 405C77.1 404.1 78 401.5 79.2 402.3C80.4 403.1 81.8 407.6 83 410C84.2 412.4 85.3 416.4 86.4 416.4C87.5 416.4 88.5 412.2 89.5 410C90.5 407.8 90.9 405.8 92.3 403.4C93.7 401 95.9 397.5 97.7 395.8C99.5 394.1 101 393.6 103 393C105 392.4 80.7 392.6 110 392.5C139.3 392.4 250.8 392.4 279 392.4" stroke="#17e817" stroke-width="2.5"/>
<path d="M281.2 395C281.2 394.5 281.2 394.8 281.4 392.2C281.6 389.6 282 385 282.4 379.6C282.8 374.2 283.5 366.2 284 360C284.5 353.8 285.1 345.7 285.6 342.2C286.1 338.7 286.5 338.5 287 339.1C287.5 339.7 288.1 343.4 288.6 346C289.2 348.6 289.7 355.7 290.3 354.7C290.9 353.7 291.4 347.3 292 340C292.6 332.7 293.4 319.5 293.9 311.1C294.4 302.7 294.5 297.8 294.9 289.6C295.2 281.4 295.6 269.3 296 262C296.4 254.7 296.9 247 297.4 246C297.9 245 298.2 250.3 298.8 256C299.4 261.7 300.4 269.1 301.1 280C301.8 290.9 302.7 311.8 303.2 321.5C303.7 331.2 303.9 334.2 304.3 338C304.7 341.8 305 345.6 305.3 344.3C305.6 343 306 337.3 306.3 330C306.6 322.7 306.9 307.2 307.3 300.7C307.7 294.2 308.1 293.1 308.5 291C308.9 288.9 308.9 290.1 309.4 288.3C309.9 286.5 310.9 287.2 311.5 280C312.1 272.8 312.7 253.4 313.3 245C313.9 236.6 314.4 230.2 315 229.4C315.6 228.6 316.2 234.8 316.8 240C317.4 245.2 318.2 256.8 318.8 260.5C319.4 264.2 319.8 261.8 320.2 262C320.6 262.2 321 259.4 321.5 261.6C322 263.8 322.5 270.3 323 275C323.5 279.7 324.1 285.5 324.4 289.6C324.7 293.7 324.6 299.8 325 299.7C325.4 299.6 326 295.3 326.5 289C327 282.7 327.5 268.8 328 262C328.5 255.2 329 247.6 329.5 248.1C330 248.6 330.6 258.1 331 265C331.4 271.9 331.9 284.9 332.2 289.6C332.5 294.4 332.4 295.9 332.7 293.5C333 291.1 333.6 281.9 334 275C334.4 268.1 334.8 257.6 335.4 252.2C336 246.8 336.5 244.8 337.4 242.9C338.2 241 339.8 243.8 340.5 240.8C341.2 237.8 341.4 232 341.8 225C342.2 218 342.6 205.4 343 198.7C343.4 192 343.8 188.1 344.2 185C344.6 181.9 345 180 345.4 180C345.8 180 346.2 181.9 346.6 185C347 188.1 347.4 191.2 347.8 198.7C348.2 206.2 348.8 220.6 349.3 230C349.8 239.4 350.4 254.1 350.9 255.4C351.4 256.7 351.9 243 352.4 238C352.9 233 353.4 224.1 354 225.3C354.6 226.5 355.3 237.6 356 245C356.7 252.4 357.4 263.6 358 270C358.6 276.4 358.9 282.4 359.4 283.2C359.9 284 360.4 278.8 361 275C361.6 271.2 362.1 265.5 362.7 260.5C363.3 255.5 364.2 247.6 364.5 245" stroke="#17e817" stroke-width="2.5"/>
<path d="M281.3 390C281.4 390.8 281.2 389.6 281.6 395C282 400.4 282.9 415.4 283.5 422.2C284.1 429 284.5 432.4 285 436C285.5 439.6 286 444 286.6 444C287.2 444 287.8 438.1 288.4 436C289 433.9 289.8 430.9 290.3 431.6C290.8 432.3 291.2 436.9 291.6 440C292 443.1 292.4 446 292.8 450.2C293.2 454.4 293.8 462.5 294 465" stroke="#17e817" stroke-width="2.5"/>
<path d="M303.6 458C303.7 456.5 304.1 451.2 304.4 449C304.7 446.8 305 444.6 305.3 444.6C305.6 444.6 305.9 446.8 306.2 449C306.5 451.2 306.9 456.5 307 458" stroke="#17e817" stroke-width="2.5"/>
<path d="M41 390C41.4 389.9 42.5 389.8 43.3 389.5C44.1 389.2 44.7 388.9 46 388.5C47.3 388.1 49.2 386.9 50.9 387C52.6 387.1 54.1 388.8 56 389C57.9 389.2 59.7 388.5 62 388.5C64.3 388.5 67.7 389 70 389C72.3 389 73.8 388.8 76 388.5C78.2 388.2 81 388.2 83 387.5C85 386.8 86.6 385.2 88 384C89.4 382.8 90.5 380.2 91.6 380.5C92.7 380.8 93.6 384.2 94.5 386C95.4 387.8 95.9 390.7 97 391.4C98.1 392.1 99.9 390.9 101 390C102.1 389.1 102.9 387.1 103.8 386C104.7 384.9 105.4 383.5 106.2 383.6C107 383.7 107.8 385.5 108.5 386.5C109.2 387.5 109.6 390.4 110.4 389.8C111.2 389.2 112.4 385.2 113.5 383C114.6 380.8 116 376.3 117 376.3C118 376.3 118.7 380.6 119.5 383C120.3 385.4 121 390.2 121.8 391C122.6 391.8 123.6 389.2 124.5 388C125.4 386.8 126.2 384.2 127 384C127.8 383.8 128.6 386.9 129.5 386.5C130.4 386.1 131.2 381.2 132.2 381.5C133.2 381.8 134.4 387.8 135.5 388.5C136.6 389.2 137.7 387.6 138.5 386C139.3 384.4 139.9 380.7 140.6 379C141.3 377.3 141.8 375.9 142.5 375.7C143.2 375.4 143.9 377.5 144.6 377.5C145.3 377.5 145.9 374.3 146.7 375.7C147.5 377.1 148.6 383.5 149.5 386C150.4 388.5 150.6 389.8 152 390.5C153.4 391.2 155.8 390.6 158 390.5C160.2 390.4 163.2 390.9 165 390C166.8 389.1 167.4 387.2 168.5 385C169.6 382.8 170.6 376.9 171.6 376.9C172.6 376.9 173.7 384 174.5 385C175.3 386 175.7 384.6 176.5 383C177.3 381.4 178.5 376.4 179.3 375.7C180.1 374.9 180.7 378.3 181.4 378.5C182.1 378.7 182.6 375.8 183.4 377C184.2 378.2 185.2 383.9 186 386C186.8 388.1 187.5 390.5 188.3 389.5C189.1 388.5 190.3 383.8 191 380C191.7 376.2 192 370.2 192.5 367C193 363.8 193.4 360.7 193.8 360.7C194.2 360.7 194.7 364.1 195.1 367C195.5 369.9 195.7 374.4 196.5 378C197.3 381.6 198.8 388.2 199.7 388.7C200.6 389.2 201.2 383.4 202 381C202.8 378.6 203.7 374.4 204.5 374.2C205.3 374 205.9 378.3 206.6 380C207.3 381.7 207.9 385.1 208.6 384.6C209.3 384.1 210.2 379.2 211 377C211.8 374.8 212.4 370.3 213.2 371.1C214 371.9 215.1 379.1 216 382C216.9 384.9 217.5 389 218.4 388.8C219.3 388.6 220.6 383.6 221.5 381C222.4 378.4 223.2 373.8 224 373.2C224.8 372.6 225.5 377.7 226.1 377.3C226.7 376.9 227.1 372.7 227.5 371C227.9 369.3 228.4 367 228.8 367C229.2 367 229.8 369.8 230.2 371C230.6 372.2 230.8 373.3 231.5 374.5C232.2 375.7 233.6 378.6 234.4 378.4C235.2 378.1 235.7 374.4 236.3 373C236.9 371.6 237.5 369.8 238.1 370.1C238.7 370.4 239.3 373.2 239.8 375C240.3 376.8 240.2 378.5 241 381C241.8 383.5 243.3 389.6 244.3 389.8C245.3 390 246.1 384.4 247 382C247.9 379.6 248.7 375.3 249.5 375.3C250.3 375.3 251 380.1 251.7 382C252.4 383.9 253 386.9 253.7 386.7C254.4 386.5 255.1 382.6 255.8 381C256.5 379.4 257.1 376.6 257.8 377.3C258.6 378 259.4 382.6 260.3 385C261.2 387.4 262.6 390.4 263 391.5" stroke="#0a0aff" stroke-width="2.4"/>
<path d="M41 394C41.4 394.1 42.4 394.2 43.3 394.7C44.2 395.2 45 396.9 46.5 396.8C48 396.7 50.3 394.1 52.5 394C54.7 393.9 57.2 396.1 59.6 396.2C62 396.3 64.4 394.6 67 394.5C69.6 394.4 72.8 394.9 75 395.5C77.2 396.1 78.6 397.3 80 398C81.4 398.7 82.3 399.9 83.6 399.7C84.8 399.4 86.2 397.6 87.5 396.5C88.8 395.4 89.6 393.7 91.2 393.1C92.8 392.5 94.9 392.8 97 393C99.1 393.2 101.8 394.4 104 394.5C106.2 394.6 108.4 392.6 110 393.5C111.6 394.4 112.3 397.5 113.5 400C114.7 402.5 116 408.3 117 408.5C118 408.7 118.8 403.1 119.5 401C120.2 398.9 120.9 395.8 121.5 396C122.1 396.2 122.6 400.1 123.2 402C123.8 403.9 124.1 407.7 124.9 407.4C125.7 407.1 127 400.9 128 400C129 399.1 130 402.9 131 402.2C132 401.5 132.8 396.9 134 396C135.2 395.1 137.4 395.8 138.5 397C139.6 398.2 139.8 401.1 140.5 403C141.2 404.9 141.9 408.5 142.5 408.5C143.1 408.5 143.7 404.6 144.3 403C144.9 401.4 145.2 400.5 146 399C146.8 397.5 148.1 394.3 149 394C149.9 393.7 150.6 395.4 151.5 397C152.4 398.6 153.4 403.1 154.4 403.3C155.4 403.6 156.3 398.3 157.3 398.5C158.3 398.7 159.2 404.6 160.2 404.3C161.2 404 162.3 398.2 163.5 396.5C164.7 394.8 166.2 393.6 167.5 394C168.8 394.4 169.9 396.8 171 399C172.1 401.2 173.2 407.4 174.3 407.4C175.4 407.4 176.4 401.1 177.5 399C178.6 396.9 179.6 395.3 181 394.5C182.4 393.7 184.5 393.4 186 394C187.5 394.6 188.8 396.2 190 398C191.2 399.8 192 402.6 193 405C194 407.4 194.9 412.8 195.8 412.5C196.7 412.2 197.7 405.6 198.5 403C199.3 400.4 200 397.5 200.7 397C201.4 396.5 202.1 399.1 202.8 400C203.5 400.9 204.2 402.3 204.9 402.2C205.6 402.1 206.3 399.4 207 399.5C207.7 399.6 208.3 401.7 209 403C209.7 404.3 210.2 407.9 211.1 407.4C212 406.9 213.6 400.4 214.5 400C215.4 399.6 215.9 402.8 216.5 405C217.1 407.2 217.5 410.7 218 413C218.5 415.3 218.9 418.8 219.4 418.8C219.9 418.8 220.4 414.8 220.8 413C221.2 411.2 221.4 409.8 222 408C222.6 406.2 223.8 402.7 224.6 402.2C225.4 401.7 226 403.9 226.7 405C227.4 406.1 228.2 409.2 228.8 408.5C229.4 407.8 230 403.1 230.5 401C231 398.9 231.3 395.5 231.9 396C232.5 396.5 233.3 401.2 234 404C234.7 406.8 235.2 412.6 236 412.6C236.8 412.6 237.6 406.2 238.5 404C239.4 401.8 240.3 398.1 241.2 399.1C242.1 400.1 243.1 406.5 243.8 410C244.5 413.5 244.8 417.5 245.2 420C245.6 422.5 246 425.3 246.4 425.1C246.8 424.9 247.2 421.9 247.6 419C248 416.1 248.3 411.7 249 408C249.7 404.3 250.8 398.4 251.6 397C252.4 395.6 253.2 399.2 254 399.5C254.8 399.8 255.6 397.9 256.5 398.5C257.4 399.1 258.7 401.5 259.5 403C260.3 404.5 260.9 407.9 261.5 407.4C262.1 406.9 262.5 402.4 262.8 400C263.1 397.6 263.3 394.2 263.4 393" stroke="#0a0aff" stroke-width="2.4"/>
<path d="M300 391.5C301.4 391.4 305.4 391.6 308.4 391C311.3 390.4 315.1 388 317.7 388C320.3 388 321.9 391.2 324 391C326.1 390.8 328.3 388.1 330.2 387C332.1 385.9 333.5 384.5 335.4 384.5C337.3 384.5 339 386.2 341.6 387C344.2 387.8 348.4 388.3 351 389C353.6 389.7 354.7 390.7 357 391C359.3 391.3 363.7 391 365 391" stroke="#0a0aff" stroke-width="2.4"/>
<path d="M300 393C302.5 393.1 311 393.3 315 393.5C319 393.7 321.6 393.2 324 394C326.4 394.8 327.4 397.8 329.1 398.4C330.8 398.9 332.4 397.2 334.3 397.3C336.2 397.4 338.1 398.8 340.5 399C342.9 399.2 346.4 398.7 348.8 398.4C351.2 398.1 353.3 396.6 355 397.3C356.7 398 358.1 402.6 359.2 402.5C360.3 402.4 360.5 398.2 361.5 397C362.5 395.8 364.4 395.3 365 395" stroke="#0a0aff" stroke-width="2.4"/>
<path d="M230 392.8C231.3 393.1 235.4 394.5 238.1 394.5C240.8 394.5 234.8 393.1 246 392.8C257.1 392.6 292.7 392.7 305 393C317.3 393.3 315.8 394.1 320 394.5C324.2 394.9 326.7 395.2 330 395.5C333.3 395.8 336.7 396.3 340 396.5C343.3 396.7 347 396.3 350 396.5C353 396.7 355.5 397.6 358 397.5C360.5 397.4 363.8 396.2 365 396" stroke="#10e6ea" stroke-width="2"/>
<path d="M40 392.9H366" stroke="#10e6ea" stroke-width="1.6"/>
<path d="M40 391.9C59.5 391.9 215.3 392.5 235 391.9C254.7 391.3 236.5 387.4 236.8 386C237.1 384.6 237.8 377.5 238.1 377.5C238.4 377.5 239.1 384.6 239.4 386C239.7 387.4 229.9 391.3 241 391.9C252.1 392.5 338.5 392 350 391.9C361.5 391.8 355 391.2 356 391C357 390.8 359.1 390 360 389.8C360.9 389.6 364.5 389.1 365 389" stroke="#f41cf0" stroke-width="1.8"/>
<path d="M40 391.8C59.5 391.8 215.6 392.4 235.3 391.8C255 391.2 236.5 387.5 236.8 386C237.1 384.5 237.8 376.6 238.1 376.6C238.4 376.6 239.1 384.5 239.4 386C239.7 387.5 228.2 391.2 240.9 391.8C253.6 392.4 353.5 391.8 366 391.8" stroke="#7a2b90" stroke-width="1.9"/>
</g>
<g stroke="#111" fill="none">
<rect x="42.9" y="198.5" width="320" height="252.1" stroke-width="2.6"/>
<path d="M42.9 431.2h4.6M362.9 431.2h-4.6M42.9 411.8h4.6M362.9 411.8h-4.6M42.9 392.4h4.6M362.9 392.4h-4.6M42.9 373h4.6M362.9 373h-4.6M42.9 353.6h4.6M362.9 353.6h-4.6M42.9 334.2h4.6M362.9 334.2h-4.6M42.9 314.8h4.6M362.9 314.8h-4.6M42.9 295.4h4.6M362.9 295.4h-4.6M42.9 276.1h4.6M362.9 276.1h-4.6M42.9 256.7h4.6M362.9 256.7h-4.6M42.9 237.3h4.6M362.9 237.3h-4.6M42.9 217.9h4.6M362.9 217.9h-4.6M88.6 198.5v4.4M88.6 450.6v-4.4M134.3 198.5v4.4M134.3 450.6v-4.4M180 198.5v4.4M180 450.6v-4.4M225.7 198.5v4.4M225.7 450.6v-4.4M271.4 198.5v4.4M271.4 450.6v-4.4M317.1 198.5v4.4M317.1 450.6v-4.4" stroke-width="1.9"/>
</g>
<line x1="101.8" y1="215.5" x2="131" y2="215.5" stroke="#0a0aff" stroke-width="2.2"/>
<line x1="101.8" y1="225.9" x2="131" y2="225.9" stroke="#f40a0a" stroke-width="2.2"/>
<line x1="101.8" y1="236.3" x2="131" y2="236.3" stroke="#17e817" stroke-width="2.2"/>
<line x1="101.8" y1="248.3" x2="131" y2="248.3" stroke="#f41cf0" stroke-width="2.2"/>
<line x1="101.8" y1="262.6" x2="131" y2="262.6" stroke="#10e6ea" stroke-width="2.2"/>
<line x1="101.8" y1="276.3" x2="131" y2="276.3" stroke="#7a2b90" stroke-width="2.2"/>
<text x="137.6" y="218.4" font-size="9">Rh</text>
<text x="137.6" y="228.3" font-size="9">O</text>
<text x="137.6" y="238.4" font-size="9">Ti</text>
<text x="137.6" y="250.0" font-size="9">Ti<tspan font-size="6.6" dy="2.6">27</tspan></text>
<text x="137.6" y="263.4" font-size="9">Ti<tspan font-size="6.6" dy="2.6">28</tspan></text>
<text x="137.6" y="276.6" font-size="9">Ti<tspan font-size="6.6" dy="2.6">61</tspan></text>
<text x="38.3" y="453.1" font-size="9.6" text-anchor="end">−30</text>
<text x="38.3" y="433.7" font-size="9.6" text-anchor="end">−20</text>
<text x="38.3" y="414.3" font-size="9.6" text-anchor="end">−10</text>
<text x="38.3" y="394.9" font-size="9.6" text-anchor="end">0</text>
<text x="38.3" y="375.5" font-size="9.6" text-anchor="end">10</text>
<text x="38.3" y="356.1" font-size="9.6" text-anchor="end">20</text>
<text x="38.3" y="336.7" font-size="9.6" text-anchor="end">30</text>
<text x="38.3" y="317.3" font-size="9.6" text-anchor="end">40</text>
<text x="38.3" y="297.9" font-size="9.6" text-anchor="end">50</text>
<text x="38.3" y="278.6" font-size="9.6" text-anchor="end">60</text>
<text x="38.3" y="259.2" font-size="9.6" text-anchor="end">70</text>
<text x="38.3" y="239.8" font-size="9.6" text-anchor="end">80</text>
<text x="38.3" y="220.4" font-size="9.6" text-anchor="end">90</text>
<text x="38.3" y="201" font-size="9.6" text-anchor="end">100</text>
<text x="41.3" y="462.5" font-size="9.6" text-anchor="middle">−5</text>
<text x="85.2" y="462.5" font-size="9.6" text-anchor="middle">−4</text>
<text x="131.3" y="462.5" font-size="9.6" text-anchor="middle">−3</text>
<text x="177.6" y="462.5" font-size="9.6" text-anchor="middle">−2</text>
<text x="223.2" y="462.5" font-size="9.6" text-anchor="middle">−1</text>
<text x="271.2" y="462.5" font-size="9.6" text-anchor="middle">0</text>
<text x="317.2" y="462.5" font-size="9.6" text-anchor="middle">1</text>
<text x="362.8" y="462.5" font-size="9.6" text-anchor="middle">2</text>
<text x="175.2" y="475.4" font-size="9.8" textLength="60.8" lengthAdjust="spacing">Energy (eV)</text>
<text transform="translate(15.2 362.4) rotate(-90)" font-size="14.2" textLength="85.5" lengthAdjust="spacing">EDOS (a.u.)</text>
</g>
<g id="arrows" fill="#000">
<line x1="235.8" y1="377.5" x2="161.1" y2="181.6" stroke="#000" stroke-width="1.6"/><polygon points="159,176 164.4,182 159,184"/>
<line x1="246.6" y1="385" x2="291.6" y2="200.4" stroke="#000" stroke-width="1.6"/><polygon points="293,194.6 294,202.6 288.4,201.2"/>
<line x1="262.3" y1="395.2" x2="378.2" y2="309.6" stroke="#000" stroke-width="1.6"/><polygon points="383,306 378.7,312.8 375.2,308.1"/>
<polygon points="262.2,402.2 267.8,404.9 267.8,399.5"/><line x1="266.7" y1="402.2" x2="277.7" y2="402.2" stroke="#000" stroke-width="1.5"/><polygon points="282.2,402.2 276.6,404.9 276.6,399.5"/>
<line x1="122.5" y1="25.6" x2="101" y2="73.3" stroke="#000" stroke-width="1.6"/><polygon points="98.9,78 99.2,71 103.9,73.1"/>
<line x1="378.3" y1="106.5" x2="281.5" y2="95.3" stroke="#000" stroke-width="1.3"/><polygon points="276.3,94.7 283,93 282.5,97.9"/>
<line x1="526" y1="263.3" x2="446.6" y2="222.4" stroke="#000" stroke-width="1.3"/><polygon points="442,220 448.9,220.8 446.6,225.2"/>
</g>
<g id="labels" class="b">
<text x="55.3" y="12.7" font-size="12" textLength="77.4" lengthAdjust="spacingAndGlyphs" class="b">SOMO −0.72eV</text>
<text x="237.6" y="34.7" font-size="12" textLength="95" lengthAdjust="spacingAndGlyphs" class="b">HOMO −1 −0.48eV</text>
<text x="410.9" y="161.8" font-size="12" textLength="79.1" lengthAdjust="spacingAndGlyphs" class="b">HOMO −0.32eV</text>
<text x="182" y="110.6" font-size="13" class="b">Ti<tspan font-size="9" dy="3" dx="0.3">61</tspan></text>
<text x="387.4" y="110" font-size="13" class="b">Ti<tspan font-size="9" dy="3" dx="0.3">28</tspan></text>
<text x="526.6" y="279" font-size="13" class="b">Ti<tspan font-size="9" dy="3" dx="0.3">27</tspan></text>
<text x="254.5" y="425" font-size="12.6" textLength="30" lengthAdjust="spacingAndGlyphs" class="b">0.3eV</text>
<text x="118.8" y="21.8" font-size="10" textLength="6" lengthAdjust="spacingAndGlyphs" class="sans">O</text>
<text x="125.6" y="25" font-size="7" class="sans">v</text>
</g>
</svg>
</body></html>
